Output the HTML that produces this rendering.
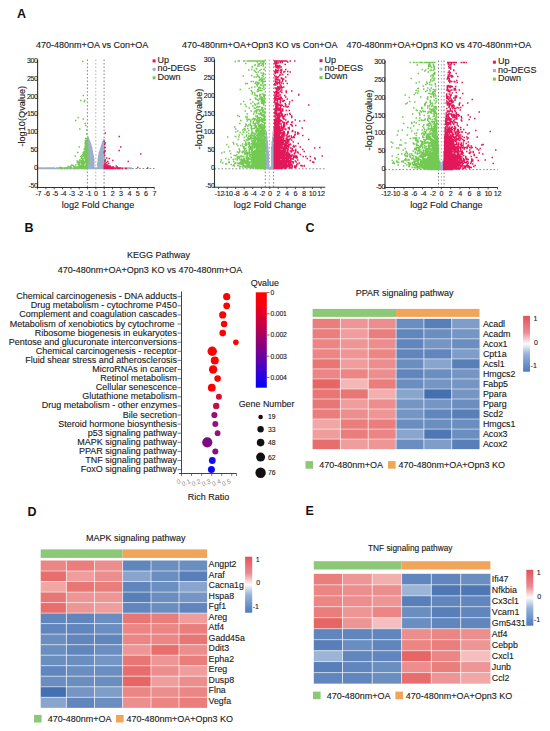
<!DOCTYPE html>
<html><head><meta charset="utf-8"><style>
html,body{margin:0;padding:0;background:#fff;}
svg{display:block;}
text{font-family:"Liberation Sans", sans-serif;}
</style></head><body>
<svg width="550" height="731" viewBox="0 0 550 731">
<rect width="550" height="731" fill="#fff"/>
<text x="16.9" y="17.9" font-size="12.5" text-anchor="start" fill="#111" font-weight="bold" >A</text>
<text x="24.5" y="232.2" font-size="12.5" text-anchor="start" fill="#111" font-weight="bold" >B</text>
<text x="305.6" y="231.9" font-size="12.5" text-anchor="start" fill="#111" font-weight="bold" >C</text>
<text x="27.5" y="516.1" font-size="12.5" text-anchor="start" fill="#111" font-weight="bold" >D</text>
<text x="305.6" y="515.0" font-size="12.5" text-anchor="start" fill="#111" font-weight="bold" >E</text>
<text x="36.0" y="48.0" font-size="9.02" text-anchor="start" fill="#1a1a1a" stroke="#1a1a1a" stroke-width="0.12" font-weight="normal" >470-480nm+OA vs Con+OA</text>
<line x1="87.4" y1="59.5" x2="87.4" y2="187.5" stroke="#7a7a7a" stroke-width="0.9" stroke-dasharray="1.6,1.9"/>
<line x1="95.8" y1="59.5" x2="95.8" y2="187.5" stroke="#a8a8a8" stroke-width="0.9" stroke-dasharray="1.6,1.9"/>
<line x1="104.1" y1="59.5" x2="104.1" y2="187.5" stroke="#7a7a7a" stroke-width="0.9" stroke-dasharray="1.6,1.9"/>
<line x1="37.6" y1="168.5" x2="154.5" y2="168.5" stroke="#7a7a7a" stroke-width="0.9" stroke-dasharray="1.6,1.9"/>
<path d="M198 311h3M177 331h3M206 311h3M208 336h3M178 312h3M197 335h3M197 308h3M197 324h3M201 336h3M174 296h3M176 310h3M174 317h3M179 335h3M183 310h3M204 311h3M179 303h3M200 335h3M203 327h3M179 287h3M178 322h3M179 300h3M201 305h3M174 289h3M174 301h3M203 307h3M201 317h3M178 298h3M201 324h3M174 284h3M195 336h3M206 331h3M204 333h3M184 326h3M183 308h3M199 336h3M200 326h3M205 296h3M176 323h3M183 312h3M203 300h3M200 337h3M202 317h3M184 309h3M198 318h3M173 336h3M206 325h3M179 322h3M205 327h3M177 313h3M185 330h3M174 315h3M203 332h3M174 336h3M204 330h3M208 323h3M198 331h3M204 336h3M201 333h3M204 305h3M199 332h3M200 318h3M198 305h3M178 321h3M202 333h3M204 291h3M179 327h3M179 332h3M182 328h3M174 293h3M196 328h3M176 321h3M180 333h3M199 330h3M183 311h3M181 322h3M204 297h3M205 308h3M201 313h3M183 334h3M206 297h3M205 307h3M184 334h3M177 308h3M206 327h3M200 320h3M183 337h3M197 336h3M177 283h3M183 321h3M176 285h3M200 331h3M206 293h3M178 288h3M203 308h3M181 337h3M201 319h3M181 293h3M179 313h3M197 321h3M177 284h3M179 307h3M207 293h3M177 314h3M181 299h3M175 289h3M179 296h3M177 311h3M175 288h3M201 334h3M179 310h3M181 336h3M179 293h3M181 298h3M202 307h3M205 299h3M176 320h3M203 304h3M176 335h3M175 320h3M202 329h3M205 293h3M198 314h3M201 326h3M174 298h3M182 329h3M205 314h3M201 327h3M183 307h3M203 295h3M207 315h3M178 311h3M173 327h3M208 328h3M204 315h3M208 333h3M207 321h3M195 335h3M177 293h3M174 312h3M177 296h3M203 302h3M178 333h3M199 325h3M176 291h3M207 332h3M201 314h3M205 329h3M174 282h3M198 323h3M175 299h3M176 279h3M207 328h3M181 331h3M181 334h3M175 303h3M185 316h3M172 328h3M181 296h3M202 328h3M198 322h3M177 332h3M184 336h3M173 310h3M174 285h3M175 304h3M174 334h3M207 326h3M182 337h3M175 302h3M178 303h3M180 317h3M182 299h3M178 327h3M177 290h3M203 313h3M181 306h3M205 291h3M179 305h3M185 322h3M207 301h3M204 321h3M181 324h3M173 323h3M206 309h3M202 292h3M196 321h3M205 324h3M199 317h3M176 333h3M201 330h3M196 332h3M178 301h3M204 325h3M178 310h3M203 324h3M176 315h3M177 336h3M199 322h3M175 334h3M186 330h3M199 334h3M204 307h3M182 314h3M174 283h3M176 303h3M186 326h3M198 306h3M201 331h3M181 302h3M178 290h3M204 319h3M185 323h3M200 330h3M203 298h3M180 299h3M180 311h3M203 309h3M186 337h3M194 329h3M202 321h3M174 321h3M206 304h3M206 312h3M180 296h3M202 298h3M201 295h3M181 326h3M205 317h3M201 308h3M175 325h3M180 300h3M172 327h3M176 318h3M202 337h3M174 279h3M204 323h3M175 293h3M177 321h3M206 299h3M202 308h3M200 314h3M199 304h3M174 297h3M198 321h3M201 329h3M202 312h3M200 300h3M186 333h3M205 297h3M203 305h3M181 323h3M205 306h3M186 324h3M204 287h3M176 312h3M198 330h3M184 313h3M179 320h3M206 321h3M185 329h3M203 334h3M172 331h3M204 312h3M198 308h3M180 301h3M203 328h3M178 319h3M203 303h3M207 308h3M206 328h3M196 318h3M173 335h3M183 302h3M178 332h3M184 320h3M179 318h3M207 311h3M181 335h3M197 329h3M203 321h3M183 336h3M186 335h3M202 320h3M204 326h3M200 336h3M176 309h3M205 333h3M178 306h3M176 282h3M176 301h3M174 320h3M182 334h3M180 322h3M180 314h3M205 336h3M205 292h3M180 332h3M200 328h3M202 302h3M198 319h3M197 307h3M209 337h3M197 320h3M202 323h3M184 322h3M202 318h3M177 323h3M184 331h3M174 328h3M207 334h3M180 294h3M197 322h3M198 316h3M180 295h3M177 312h3M205 310h3M204 332h3M203 299h3M184 317h3M181 304h3M177 315h3M185 335h3M199 316h3M181 328h3M199 333h3M184 328h3M197 316h3M176 331h3M204 317h3M178 294h3M200 333h3M196 319h3M207 319h3M177 300h3M177 316h3M199 306h3M174 305h3M205 303h3M199 311h3M183 316h3M182 310h3M180 326h3M177 299h3M203 289h3M180 334h3M201 311h3M173 326h3M203 292h3M180 330h3M205 328h3M183 323h3M195 328h3M200 321h3M182 326h3M201 310h3M178 317h3M206 282h3M199 302h3M207 324h3M181 294h3M207 333h3M178 292h3M184 327h3M196 317h3M196 327h3M203 316h3M185 315h3M173 324h3M174 287h3M195 331h3M177 328h3M200 305h3M197 323h3M177 334h3M174 337h3M180 310h3M179 315h3M207 300h3M176 296h3M202 294h3M201 302h3M207 331h3M177 301h3M200 302h3M183 309h3M180 325h3M179 288h3M198 328h3M202 331h3M178 297h3M203 297h3M197 330h3M207 316h3M185 321h3M184 335h3M177 309h3M183 313h3M202 297h3M173 337h3M205 335h3M206 286h3M175 276h3M196 320h3M177 324h3M183 320h3M207 291h3M172 335h3M176 287h3M180 319h3M206 280h3M175 305h3M207 335h3M206 332h3M176 332h3M203 335h3M206 323h3M196 325h3M173 317h3M208 335h3M179 308h3M195 323h3M179 301h3M198 320h3M201 323h3M196 329h3M179 319h3M196 314h3M186 329h3M172 336h3M203 306h3M202 332h3M207 303h3M178 309h3M203 301h3M173 319h3M176 306h3M181 321h3M198 332h3M205 315h3M206 298h3M203 288h3M174 304h3M176 302h3M173 322h3M206 336h3M178 286h3M205 302h3M208 332h3M207 317h3M201 328h3M178 328h3M176 330h3M177 291h3M206 287h3M196 336h3M206 289h3M199 335h3M177 326h3M178 300h3M200 327h3M174 327h3M172 334h3M186 334h3M177 304h3M205 312h3M206 283h3M183 314h3M204 334h3M182 324h3M184 321h3M206 292h3M186 319h3M176 294h3M205 289h3M207 309h3M178 326h3M183 317h3M203 322h3M182 316h3M202 313h3M196 323h3M202 336h3M175 297h3M184 318h3M201 307h3M177 322h3M184 319h3M175 317h3M198 327h3M198 335h3M200 308h3M184 332h3M175 296h3M179 323h3M207 283h3M173 325h3M185 314h3M175 323h3M197 318h3M203 333h3M183 324h3M175 279h3M200 301h3M201 312h3M181 332h3M175 278h3M178 329h3M174 313h3M183 332h3M175 313h3M186 325h3M205 311h3M182 331h3M198 336h3M180 304h3M204 288h3M186 328h3M206 284h3M178 291h3M181 325h3M200 325h3M181 297h3M205 284h3M183 305h3M200 312h3M176 325h3M207 310h3M176 317h3M196 316h3M201 309h3M206 295h3M174 276h3M197 332h3M174 309h3M200 298h3M198 315h3M182 298h3M205 330h3M199 319h3M176 327h3M176 300h3M198 334h3M175 301h3M174 325h3M205 325h3M182 307h3M178 323h3M201 335h3M174 292h3M200 329h3M186 327h3M176 304h3M176 311h3M203 320h3M185 319h3M175 285h3M182 317h3M201 304h3M174 335h3M206 335h3M207 330h3M203 315h3M202 303h3M207 305h3M183 331h3M207 318h3M202 327h3M176 337h3M182 327h3M207 323h3M202 301h3M175 295h3M176 314h3M174 311h3M204 292h3M177 286h3M196 322h3M179 329h3M206 302h3M204 296h3M173 316h3M203 290h3M207 288h3M195 325h3M202 326h3M197 327h3M180 335h3M206 296h3M200 316h3M205 319h3M199 329h3M196 313h3M201 322h3M205 334h3M197 331h3M200 319h3M174 329h3M185 318h3M204 328h3M201 321h3M174 307h3M209 334h3M201 332h3M178 283h3M208 329h3M201 301h3M185 334h3M180 336h3M200 323h3M207 314h3M203 329h3M201 337h3M200 315h3M175 330h3M207 329h3M180 309h3M200 334h3M205 300h3M178 299h3M197 333h3M175 318h3M199 337h3M174 326h3M177 319h3M179 330h3M202 311h3M183 306h3M176 305h3M175 328h3M197 311h3M195 319h3M199 320h3M201 325h3M180 312h3M197 328h3M197 313h3M179 292h3M200 332h3M175 321h3M180 293h3M197 317h3M180 316h3M178 315h3M200 310h3M204 316h3M180 308h3M206 308h3M205 320h3M177 329h3M174 308h3M177 318h3M179 317h3M202 300h3M203 318h3M178 313h3M183 315h3M180 331h3M183 303h3M206 303h3M208 337h3M174 324h3M176 322h3M206 313h3M199 305h3M202 306h3M175 282h3M182 313h3M206 326h3M205 322h3M201 320h3M180 313h3M199 314h3M174 295h3M202 314h3M177 330h3M175 290h3M208 327h3M176 308h3M197 334h3M183 333h3M196 326h3M176 292h3M197 312h3M176 288h3M206 300h3M178 335h3M207 337h3M173 334h3M179 302h3M179 328h3M174 300h3M206 322h3M182 318h3M174 303h3M202 304h3M183 328h3M177 298h3M184 337h3M177 303h3M204 329h3M197 325h3M180 290h3M179 291h3M203 319h3M183 326h3M177 307h3M178 336h3M208 331h3M203 323h3M182 312h3M200 303h3M207 290h3M176 290h3M175 332h3M177 302h3M183 318h3M175 300h3M176 289h3M196 315h3M181 305h3M174 310h3M182 315h3M174 281h3M175 280h3M204 295h3M181 313h3M176 293h3M202 309h3M203 296h3M182 330h3M207 306h3M174 322h3M174 318h3M175 335h3M177 337h3M174 319h3M205 309h3M205 285h3M203 331h3M206 317h3M178 302h3M185 324h3M195 330h3M174 302h3M204 298h3M174 286h3M173 333h3M177 297h3M202 316h3M179 326h3M203 310h3M178 337h3M186 332h3M177 317h3M196 334h3M185 333h3M201 306h3M204 285h3M196 312h3M183 327h3M178 316h3M175 287h3M175 283h3M202 334h3M200 307h3M182 332h3M204 313h3M205 326h3M186 323h3M199 327h3M182 302h3M185 327h3M208 334h3M179 331h3M201 296h3M206 306h3M185 325h3M204 289h3M177 333h3M205 287h3M184 333h3M180 289h3M208 317h3M184 316h3M181 295h3M209 333h3M205 301h3M182 320h3M204 299h3M199 318h3M176 316h3M180 327h3M206 305h3M182 323h3M199 303h3M197 306h3M205 290h3M182 305h3M204 303h3M176 281h3M199 331h3M198 313h3M177 285h3M180 298h3M184 324h3M177 294h3M194 336h3M202 293h3M185 317h3M173 318h3M182 308h3M200 317h3M204 327h3M202 295h3M181 300h3M175 327h3M182 296h3M204 308h3M184 314h3M174 288h3M178 305h3M175 291h3M205 288h3M206 316h3M182 336h3M181 303h3M206 314h3M179 333h3M199 307h3M207 313h3M176 324h3M174 323h3M178 285h3M174 299h3M197 314h3M200 309h3M197 315h3M185 312h3M178 325h3M179 309h3M179 324h3M202 330h3M200 322h3M181 319h3M203 312h3M204 318h3M175 322h3M207 292h3M174 333h3M202 324h3M185 332h3M174 330h3M203 314h3M202 310h3M179 321h3M202 319h3M206 319h3M175 316h3M173 315h3M207 307h3M204 322h3M174 332h3M209 332h3M201 299h3M207 325h3M205 305h3M199 310h3M198 325h3M200 313h3M180 323h3M204 324h3M186 322h3M174 306h3M178 324h3M205 304h3M207 285h3M206 285h3M181 329h3M205 298h3M203 293h3M196 331h3M177 325h3M175 309h3M185 336h3M184 329h3M197 337h3M177 310h3M182 300h3M182 304h3M175 324h3M199 323h3M180 302h3M181 311h3M185 326h3M179 325h3M179 289h3M184 330h3M179 294h3M196 333h3M203 337h3M177 327h3M201 298h3M173 330h3M194 337h3M206 301h3M176 295h3M186 331h3M174 278h3M175 306h3M182 335h3M175 298h3M186 318h3M200 297h3M178 314h3M206 333h3M175 292h3M204 310h3M176 286h3M179 295h3M175 326h3M199 315h3M206 334h3M183 322h3M182 311h3M207 299h3M206 291h3M180 291h3M207 327h3M205 295h3M202 291h3M200 299h3M205 318h3M198 304h3M181 309h3M196 324h3M173 314h3M204 301h3M176 329h3M179 337h3M175 314h3M204 300h3M207 320h3M175 319h3M202 299h3M207 336h3M206 320h3M180 306h3M204 331h3M207 280h3M197 310h3M174 331h3M181 301h3M204 286h3M201 294h3M176 297h3M181 318h3M178 320h3M201 300h3M177 335h3M180 337h3M195 333h3M198 326h3M183 325h3M200 306h3M201 316h3M172 333h3M203 317h3M204 304h3M173 312h3M173 311h3M177 289h3M203 291h3M194 327h3M199 328h3M195 326h3M200 324h3M185 331h3M195 334h3M179 304h3M177 305h3M196 337h3M205 294h3M196 330h3M179 316h3M176 284h3M195 337h3M204 294h3M180 305h3M207 294h3M173 328h3M183 329h3M176 326h3M178 308h3M205 313h3M184 308h3M181 307h3M173 320h3M202 305h3M185 313h3M205 321h3M206 310h3M198 333h3M203 326h3M202 325h3M178 289h3M208 324h3M195 329h3M182 306h3M207 282h3M208 319h3M176 283h3M206 288h3M199 321h3M183 304h3M194 331h3M177 288h3M175 333h3M185 328h3M199 326h3M207 312h3M180 315h3M207 322h3M177 287h3M177 292h3M178 330h3M178 318h3M182 303h3M206 330h3M205 283h3M173 329h3M196 335h3M177 306h3M182 321h3M182 319h3M173 305h3M197 326h3M205 331h3M179 298h3M206 294h3M207 295h3M207 289h3M181 316h3M174 291h3M205 286h3M179 299h3M206 290h3M203 311h3M198 324h3M174 290h3M178 334h3M176 280h3M209 331h3M180 320h3M174 274h3M204 290h3M180 318h3M174 314h3M182 333h3M180 321h3M175 294h3M179 306h3M176 328h3M181 320h3M177 320h3M199 300h3M202 322h3M199 308h3M198 307h3M181 308h3M181 314h3M208 325h3M195 320h3M199 312h3M207 296h3M179 314h3M174 280h3M208 318h3M177 282h3M201 303h3M204 306h3M208 316h3M195 324h3M205 316h3M206 315h3M182 309h3M176 298h3M209 336h3M209 335h3M174 277h3M175 312h3M195 318h3M203 330h3M172 337h3M206 307h3M176 334h3M201 297h3M186 336h3M256 336h3M121 337h3M107 337h3M229 337h3M205 337h3M162 337h3M153 337h3M85 336h3M228 337h3M123 337h3M213 337h3M106 337h3M97 337h3M80 337h3M86 337h3M218 337h3M258 337h3M193 336h3M142 336h3M155 336h3M158 337h3M159 336h3M210 337h3M99 337h3M163 337h3M136 337h3M236 337h3M213 336h3M248 337h3M189 337h3M190 336h3M91 337h3M82 337h3M94 336h3M198 337h3M254 336h3M231 337h3M108 337h3M119 337h3M228 336h3M120 336h3M204 337h3M110 337h3M124 337h3M79 337h3M77 337h3M216 336h3M96 336h3M112 337h3M76 336h3M244 337h3M260 337h3M169 337h3M116 336h3M93 337h3M260 336h3M188 336h3M249 337h3M165 336h3M206 337h3M88 337h3M238 337h3M74 337h3M141 336h3M75 336h3M78 336h3M247 336h3M162 336h3M135 336h3M247 337h3M134 337h3M167 337h3M126 337h3M259 336h3M241 337h3M258 336h3M187 337h3M134 336h3M252 337h3M222 337h3M261 337h3M85 337h3M155 337h3M226 337h3M243 337h3M157 337h3M219 337h3M170 337h3M102 337h3M138 337h3M118 337h3M125 336h3M94 337h3M223 336h3M101 337h3M109 337h3M76 337h3M256 337h3M245 336h3M83 337h3M239 337h3M154 337h3M148 337h3M92 337h3M149 337h3M80 336h3M83 336h3M92 336h3M137 337h3M251 336h3M171 337h3M157 336h3M219 336h3M227 337h3M151 336h3M140 337h3M90 337h3M132 336h3M117 337h3M240 337h3M145 337h3M82 336h3M156 337h3M132 337h3M253 337h3M100 337h3M143 337h3M192 336h3M233 337h3M100 336h3M148 336h3M164 337h3M105 337h3M113 337h3M245 337h3M187 336h3M131 336h3M220 336h3M221 335h3M147 336h3M122 336h3M114 336h3M165 337h3M215 337h3M223 337h3M87 337h3M139 336h3M192 337h3M233 336h3M218 336h3M116 337h3M158 335h3M89 336h3M139 337h3M153 336h3M161 336h3M158 336h3M212 336h3M232 337h3M225 337h3M84 337h3M120 337h3M90 336h3M221 337h3M234 337h3M216 337h3M190 337h3M141 337h3M78 337h3M127 337h3M98 337h3M170 336h3M203 336h3M164 336h3M161 337h3M142 337h3M133 337h3M166 336h3M185 337h3M193 337h3M211 336h3M230 337h3M255 337h3M107 336h3M91 336h3M129 337h3M244 336h3M147 337h3M242 337h3M159 337h3M136 335h3M160 336h3M237 337h3M150 336h3M105 336h3M220 337h3M128 336h3M214 337h3M103 337h3M212 337h3M89 337h3M154 336h3M251 337h3M122 337h3M96 337h3M128 337h3M217 336h3M191 337h3M163 336h3M103 336h3M140 336h3M119 336h3M98 336h3M257 337h3M249 336h3M235 337h3M234 336h3M211 337h3M253 336h3M136 336h3M240 336h3M104 337h3M125 337h3M104 336h3M239 336h3M135 337h3M81 336h3M97 336h3M166 337h3M115 337h3M176 336h3M225 336h3M95 337h3M235 336h3M81 337h3M115 336h3M243 336h3M232 336h3M246 337h3M175 337h3M255 336h3M259 337h3M160 337h3M152 337h3M77 336h3M112 336h3M150 337h3" stroke="#9db0c8" stroke-width="3.00" transform="scale(0.5)"/>
<path d="M174 323h3M170 304h3M170 298h3M169 298h3M170 282h3M173 281h3M172 303h3M170 308h3M171 331h3M172 329h3M171 302h3M171 325h3M173 305h3M173 318h3M170 331h3M173 298h3M172 311h3M169 335h3M172 277h3M173 284h3M172 328h3M174 317h3M169 287h3M173 282h3M173 315h3M173 302h3M174 301h3M170 283h3M169 305h3M174 320h3M173 278h3M171 303h3M170 314h3M171 334h3M169 281h3M172 306h3M172 313h3M169 306h3M173 336h3M173 321h3M170 299h3M172 292h3M169 293h3M173 323h3M170 277h3M174 310h3M173 301h3M172 284h3M170 333h3M169 295h3M170 307h3M173 327h3M169 285h3M173 331h3M171 290h3M170 300h3M171 285h3M174 316h3M171 326h3M170 316h3M173 324h3M169 333h3M171 323h3M170 332h3M170 324h3M171 283h3M169 291h3M171 296h3M173 286h3M169 307h3M172 282h3M173 285h3M169 302h3M172 281h3M172 301h3M170 291h3M170 306h3M171 336h3M142 330h3M173 309h3M135 333h3M165 328h3M166 329h3M167 325h3M173 295h3M171 324h3M166 312h3M168 307h3M168 313h3M155 337h3M140 335h3M163 329h3M153 322h3M167 327h3M173 322h3M155 329h3M168 303h3M164 332h3M167 304h3M161 327h3M172 299h3M172 318h3M165 305h3M163 331h3M150 330h3M169 296h3M172 315h3M173 306h3M167 299h3M159 331h3M154 323h3M173 325h3M172 295h3M162 330h3M162 331h3M164 319h3M169 309h3M173 329h3M169 310h3M161 317h3M159 324h3M173 328h3M169 313h3M165 335h3M172 324h3M169 304h3M173 317h3M159 334h3M170 319h3M137 334h3M167 334h3M158 336h3M173 334h3M161 321h3M155 334h3M166 317h3M150 334h3M169 311h3M169 322h3M166 331h3M163 326h3M151 334h3M146 332h3M163 321h3M171 327h3M145 331h3M168 304h3M163 324h3M172 325h3M154 324h3M171 316h3M168 314h3M172 337h3M164 318h3M160 325h3M152 334h3M173 288h3M148 337h3M165 321h3M170 289h3M161 332h3M162 324h3M174 325h3M166 304h3M155 327h3M167 333h3M164 324h3M162 334h3M164 309h3M172 297h3M158 320h3M174 290h3M163 337h3M168 336h3M165 309h3M173 310h3M157 326h3M166 327h3M166 307h3M164 313h3M164 328h3M170 297h3M167 309h3M167 324h3M162 337h3M140 332h3M172 312h3M166 311h3M157 329h3M169 336h3M166 310h3M168 323h3M172 286h3M156 323h3M148 334h3M162 315h3M173 283h3M169 325h3M160 333h3M171 313h3M167 298h3M164 327h3M169 318h3M173 299h3M172 320h3M172 335h3M157 331h3M171 310h3M156 333h3M153 325h3M174 307h3M171 328h3M162 311h3M170 296h3M160 313h3M147 335h3M133 335h3M133 337h3M118 335h3M141 335h3M164 334h3M167 337h3M141 336h3M170 336h3M128 336h3M120 336h3M156 336h3M119 336h3M171 337h3M150 337h3M123 337h3M149 336h3M153 335h3M121 335h3M128 337h3M121 336h3M146 336h3M139 337h3M164 123h3M165 191h3M168 201h3M160 201h3M167 203h3M155 235h3M150 241h3M165 238h3M169 247h3M158 258h3M172 260h3M172 268h3M170 251h3M157 294h3M149 312h3M154 305h3" stroke="#72ca52" stroke-width="3.00" transform="scale(0.5)"/>
<path d="M208 335h3M208 337h3M208 336h3M214 336h3M236 337h3M212 336h3M234 337h3M212 334h3M208 333h3M214 337h3M238 336h3M213 330h3M216 335h3M217 337h3M211 332h3M211 333h3M208 329h3M223 337h3M226 336h3M220 336h3M233 334h3M209 327h3M213 335h3M219 336h3M223 336h3M215 336h3M216 337h3M211 336h3M209 332h3M229 337h3M209 335h3M210 336h3M210 337h3M224 336h3M212 330h3M215 334h3M221 335h3M222 336h3M221 337h3M213 337h3M220 335h3M212 332h3M209 334h3M225 335h3M209 337h3M207 337h3M219 332h3M209 321h3M223 335h3M214 335h3M213 334h3M226 335h3M211 337h3M212 335h3M207 334h3M251 337h3M213 332h3M208 334h3M231 332h3M209 320h3M208 328h3M225 337h3M214 334h3M224 334h3M211 334h3M218 334h3M225 334h3M209 336h3M216 327h3M225 336h3M211 335h3M224 337h3M219 334h3M215 335h3M216 336h3M231 336h3M214 323h3M209 328h3M210 333h3M239 336h3M208 323h3M235 336h3M237 337h3M210 328h3M217 334h3M243 337h3M207 333h3M209 333h3M208 332h3M210 335h3M212 325h3M215 337h3M217 332h3M223 334h3M250 337h3M220 337h3M213 336h3M214 331h3M217 335h3M207 283h3M209 295h3M208 289h3M207 304h3M208 311h3M209 286h3M207 306h3M207 331h3M208 302h3M209 302h3M208 295h3M209 266h3M237 273h3M240 294h3M237 301h3M255 323h3M280 308h3M274 335h3M294 336h3M212 316h3M217 317h3M224 321h3" stroke="#e2185a" stroke-width="3.00" transform="scale(0.5)"/>
<line x1="37.6" y1="59.5" x2="37.6" y2="188.0" stroke="#333" stroke-width="1.1" />
<line x1="37.1" y1="187.5" x2="154.5" y2="187.5" stroke="#333" stroke-width="1.1" />
<text x="37.7" y="62.8" font-size="7.0" text-anchor="end" fill="#1a1a1a" stroke="#1a1a1a" stroke-width="0.12" font-weight="normal" letter-spacing="-0.3">300</text>
<text x="37.7" y="80.7" font-size="7.0" text-anchor="end" fill="#1a1a1a" stroke="#1a1a1a" stroke-width="0.12" font-weight="normal" letter-spacing="-0.3">250</text>
<text x="37.7" y="98.5" font-size="7.0" text-anchor="end" fill="#1a1a1a" stroke="#1a1a1a" stroke-width="0.12" font-weight="normal" letter-spacing="-0.3">200</text>
<text x="37.7" y="116.4" font-size="7.0" text-anchor="end" fill="#1a1a1a" stroke="#1a1a1a" stroke-width="0.12" font-weight="normal" letter-spacing="-0.3">150</text>
<text x="37.7" y="134.3" font-size="7.0" text-anchor="end" fill="#1a1a1a" stroke="#1a1a1a" stroke-width="0.12" font-weight="normal" letter-spacing="-0.3">100</text>
<text x="37.7" y="152.1" font-size="7.0" text-anchor="end" fill="#1a1a1a" stroke="#1a1a1a" stroke-width="0.12" font-weight="normal" letter-spacing="-0.3">50</text>
<text x="37.7" y="170.0" font-size="7.0" text-anchor="end" fill="#1a1a1a" stroke="#1a1a1a" stroke-width="0.12" font-weight="normal" letter-spacing="-0.3">0</text>
<text x="37.7" y="187.9" font-size="7.0" text-anchor="end" fill="#1a1a1a" stroke="#1a1a1a" stroke-width="0.12" font-weight="normal" letter-spacing="-0.3">-50</text>
<line x1="37.5" y1="187.5" x2="37.5" y2="189.3" stroke="#222" stroke-width="0.8" />
<text x="38.3" y="196.0" font-size="7.2" text-anchor="middle" fill="#1a1a1a" stroke="#1a1a1a" stroke-width="0.12" font-weight="normal" letter-spacing="-0.35">-7</text>
<line x1="45.9" y1="187.5" x2="45.9" y2="189.3" stroke="#222" stroke-width="0.8" />
<text x="46.7" y="196.0" font-size="7.2" text-anchor="middle" fill="#1a1a1a" stroke="#1a1a1a" stroke-width="0.12" font-weight="normal" letter-spacing="-0.35">-6</text>
<line x1="54.2" y1="187.5" x2="54.2" y2="189.3" stroke="#222" stroke-width="0.8" />
<text x="55.0" y="196.0" font-size="7.2" text-anchor="middle" fill="#1a1a1a" stroke="#1a1a1a" stroke-width="0.12" font-weight="normal" letter-spacing="-0.35">-5</text>
<line x1="62.5" y1="187.5" x2="62.5" y2="189.3" stroke="#222" stroke-width="0.8" />
<text x="63.3" y="196.0" font-size="7.2" text-anchor="middle" fill="#1a1a1a" stroke="#1a1a1a" stroke-width="0.12" font-weight="normal" letter-spacing="-0.35">-4</text>
<line x1="70.9" y1="187.5" x2="70.9" y2="189.3" stroke="#222" stroke-width="0.8" />
<text x="71.7" y="196.0" font-size="7.2" text-anchor="middle" fill="#1a1a1a" stroke="#1a1a1a" stroke-width="0.12" font-weight="normal" letter-spacing="-0.35">-3</text>
<line x1="79.2" y1="187.5" x2="79.2" y2="189.3" stroke="#222" stroke-width="0.8" />
<text x="80.0" y="196.0" font-size="7.2" text-anchor="middle" fill="#1a1a1a" stroke="#1a1a1a" stroke-width="0.12" font-weight="normal" letter-spacing="-0.35">-2</text>
<line x1="87.6" y1="187.5" x2="87.6" y2="189.3" stroke="#222" stroke-width="0.8" />
<text x="88.4" y="196.0" font-size="7.2" text-anchor="middle" fill="#1a1a1a" stroke="#1a1a1a" stroke-width="0.12" font-weight="normal" letter-spacing="-0.35">-1</text>
<line x1="95.9" y1="187.5" x2="95.9" y2="189.3" stroke="#222" stroke-width="0.8" />
<text x="95.9" y="196.0" font-size="7.2" text-anchor="middle" fill="#1a1a1a" stroke="#1a1a1a" stroke-width="0.12" font-weight="normal" letter-spacing="-0.35">0</text>
<line x1="104.2" y1="187.5" x2="104.2" y2="189.3" stroke="#222" stroke-width="0.8" />
<text x="104.2" y="196.0" font-size="7.2" text-anchor="middle" fill="#1a1a1a" stroke="#1a1a1a" stroke-width="0.12" font-weight="normal" letter-spacing="-0.35">1</text>
<line x1="112.6" y1="187.5" x2="112.6" y2="189.3" stroke="#222" stroke-width="0.8" />
<text x="112.6" y="196.0" font-size="7.2" text-anchor="middle" fill="#1a1a1a" stroke="#1a1a1a" stroke-width="0.12" font-weight="normal" letter-spacing="-0.35">2</text>
<line x1="120.9" y1="187.5" x2="120.9" y2="189.3" stroke="#222" stroke-width="0.8" />
<text x="120.9" y="196.0" font-size="7.2" text-anchor="middle" fill="#1a1a1a" stroke="#1a1a1a" stroke-width="0.12" font-weight="normal" letter-spacing="-0.35">3</text>
<line x1="129.3" y1="187.5" x2="129.3" y2="189.3" stroke="#222" stroke-width="0.8" />
<text x="129.3" y="196.0" font-size="7.2" text-anchor="middle" fill="#1a1a1a" stroke="#1a1a1a" stroke-width="0.12" font-weight="normal" letter-spacing="-0.35">4</text>
<line x1="137.6" y1="187.5" x2="137.6" y2="189.3" stroke="#222" stroke-width="0.8" />
<text x="137.6" y="196.0" font-size="7.2" text-anchor="middle" fill="#1a1a1a" stroke="#1a1a1a" stroke-width="0.12" font-weight="normal" letter-spacing="-0.35">5</text>
<line x1="145.9" y1="187.5" x2="145.9" y2="189.3" stroke="#222" stroke-width="0.8" />
<text x="145.9" y="196.0" font-size="7.2" text-anchor="middle" fill="#1a1a1a" stroke="#1a1a1a" stroke-width="0.12" font-weight="normal" letter-spacing="-0.35">6</text>
<line x1="154.3" y1="187.5" x2="154.3" y2="189.3" stroke="#222" stroke-width="0.8" />
<text x="154.3" y="196.0" font-size="7.2" text-anchor="middle" fill="#1a1a1a" stroke="#1a1a1a" stroke-width="0.12" font-weight="normal" letter-spacing="-0.35">7</text>
<text x="98.0" y="208.3" font-size="9.2" text-anchor="middle" fill="#1a1a1a" stroke="#1a1a1a" stroke-width="0.12" font-weight="normal" >log2 Fold Change</text>
<text x="0" y="0" font-size="9.2" text-anchor="middle" fill="#1a1a1a" stroke="#1a1a1a" stroke-width="0.12" transform="translate(25.0,116.2) rotate(-90)">-log10(Qvalue)</text>
<rect x="152.60" y="59.40" width="3.00" height="3.00" fill="#e2185a" />
<text x="157.6" y="62.7" font-size="9.0" text-anchor="start" fill="#1a1a1a" stroke="#1a1a1a" stroke-width="0.12" font-weight="normal" >Up</text>
<rect x="152.60" y="67.85" width="3.00" height="3.00" fill="#9db0c8" />
<text x="157.6" y="71.1" font-size="9.0" text-anchor="start" fill="#1a1a1a" stroke="#1a1a1a" stroke-width="0.12" font-weight="normal" >no-DEGS</text>
<rect x="152.60" y="76.30" width="3.00" height="3.00" fill="#72ca52" />
<text x="157.6" y="79.6" font-size="9.0" text-anchor="start" fill="#1a1a1a" stroke="#1a1a1a" stroke-width="0.12" font-weight="normal" >Down</text>
<text x="182.0" y="48.0" font-size="9.02" text-anchor="start" fill="#1a1a1a" stroke="#1a1a1a" stroke-width="0.12" font-weight="normal" >470-480nm+OA+Opn3 KO vs Con+OA</text>
<line x1="265.3" y1="59.5" x2="265.3" y2="187.3" stroke="#7a7a7a" stroke-width="0.9" stroke-dasharray="1.6,1.9"/>
<line x1="269.3" y1="59.5" x2="269.3" y2="187.3" stroke="#a8a8a8" stroke-width="0.9" stroke-dasharray="1.6,1.9"/>
<line x1="273.6" y1="59.5" x2="273.6" y2="187.3" stroke="#7a7a7a" stroke-width="0.9" stroke-dasharray="1.6,1.9"/>
<line x1="214.5" y1="168.8" x2="325.3" y2="168.8" stroke="#7a7a7a" stroke-width="0.9" stroke-dasharray="1.6,1.9"/>
<path d="M531 336h3M545 291h3M534 313h3M532 332h3M543 305h3M531 304h3M543 337h3M543 326h3M545 307h3M534 337h3M542 321h3M532 331h3M532 293h3M532 289h3M545 267h3M544 295h3M544 315h3M533 294h3M545 276h3M544 286h3M533 330h3M544 331h3M534 298h3M533 306h3M533 332h3M531 298h3M545 293h3M534 309h3M544 326h3M545 334h3M531 326h3M545 315h3M535 328h3M544 335h3M535 314h3M542 303h3M542 312h3M542 302h3M542 329h3M532 334h3M542 325h3M532 281h3M531 293h3M542 324h3M534 318h3M543 333h3M534 314h3M542 337h3M542 317h3M531 269h3M534 322h3M544 306h3M532 327h3M544 338h3M543 335h3M534 335h3M542 332h3M533 326h3M534 300h3M532 316h3M532 336h3M544 332h3M545 319h3M531 300h3M545 317h3M544 334h3M545 296h3M543 321h3M542 316h3M543 325h3M534 312h3M544 321h3M544 318h3M542 336h3M532 280h3M535 317h3M532 312h3M543 298h3M544 316h3M532 276h3M534 331h3M543 323h3M531 302h3M534 328h3M534 325h3M542 305h3M532 333h3M533 315h3M544 285h3M534 299h3M532 305h3M531 330h3M533 321h3M531 291h3M545 320h3M532 295h3M544 278h3M535 325h3M531 297h3M535 305h3M532 286h3M534 308h3M534 306h3M544 317h3M545 335h3M543 295h3M533 329h3M535 336h3M533 307h3M531 332h3M543 319h3M533 316h3M543 294h3M544 314h3M531 335h3M534 311h3M532 319h3M534 317h3M544 292h3M532 325h3M543 330h3M545 333h3M533 324h3M543 327h3M531 313h3M531 321h3M542 333h3M533 325h3M534 304h3M533 298h3M545 274h3M532 279h3M532 283h3M532 274h3M544 302h3M543 332h3M533 319h3M533 314h3M542 331h3M542 327h3M542 314h3M543 303h3M532 320h3M533 300h3M532 311h3M531 278h3M543 316h3M542 299h3M534 330h3M542 334h3M534 301h3M543 312h3M543 336h3M545 282h3M532 285h3M543 334h3M531 276h3M533 288h3M542 308h3M534 326h3M543 320h3M545 286h3M533 327h3M531 327h3M532 301h3M544 330h3M544 305h3M532 297h3M542 335h3M533 331h3M531 273h3M532 326h3M545 328h3M531 329h3M532 292h3M543 324h3M542 322h3M534 333h3M531 328h3M534 332h3M535 320h3M542 319h3M532 313h3M531 331h3M545 271h3M532 310h3M534 316h3M543 287h3M543 322h3M534 302h3M534 315h3M533 297h3M542 328h3M532 304h3M534 320h3M543 310h3M545 300h3M533 285h3M543 299h3M544 276h3M532 317h3M545 331h3M544 282h3M535 332h3M531 316h3M543 317h3M544 336h3M533 320h3M543 290h3M545 283h3M531 296h3M543 328h3M532 337h3M533 302h3M544 320h3M533 317h3M531 289h3M531 333h3M545 321h3M543 284h3M533 292h3M533 309h3M531 295h3M533 337h3M544 298h3M545 322h3M533 335h3M534 329h3M545 269h3M532 308h3M545 305h3M532 328h3M544 329h3M543 318h3M531 280h3M545 330h3M545 323h3M533 334h3M533 287h3M545 308h3M534 324h3M535 335h3M544 310h3M531 268h3M542 318h3M544 275h3M544 281h3M545 278h3M544 289h3M534 303h3M543 308h3M532 299h3M533 318h3M544 324h3M542 300h3M542 330h3M542 326h3M532 323h3M532 324h3M542 306h3M545 332h3M545 336h3M531 305h3M545 288h3M531 272h3M544 319h3M532 315h3M535 329h3M545 295h3M531 288h3M535 337h3M542 320h3M531 334h3M532 302h3M532 309h3M543 331h3M545 301h3M542 309h3M531 264h3M545 298h3M533 308h3M544 333h3M543 304h3M532 329h3M544 308h3M531 287h3M532 335h3M533 313h3M544 288h3M544 337h3M531 271h3M533 336h3M545 313h3M532 298h3M543 306h3M531 286h3M544 299h3M545 277h3M544 291h3M543 338h3M534 321h3M533 286h3M535 327h3M534 319h3M532 306h3M533 289h3M544 283h3M534 310h3M544 312h3M545 290h3M531 315h3M534 297h3M534 295h3M533 310h3M533 322h3M543 302h3M545 325h3M544 307h3M545 326h3M545 272h3M532 318h3M543 329h3M545 337h3M542 307h3M543 293h3M534 336h3M533 304h3M533 293h3M535 322h3M531 310h3M533 323h3M532 284h3M535 312h3M542 313h3M534 334h3M533 305h3M545 327h3M531 266h3M544 304h3M532 307h3M532 296h3M545 316h3M531 306h3M542 315h3M535 310h3M533 333h3M534 296h3M545 324h3M545 302h3M532 330h3M532 303h3M544 323h3M544 287h3M545 310h3M544 322h3M531 320h3M534 323h3M532 314h3M531 325h3M532 275h3M532 321h3M531 279h3M544 279h3M544 328h3M545 268h3M543 314h3M544 294h3M544 327h3M542 297h3M543 296h3M545 311h3M531 314h3M532 282h3M531 281h3M535 331h3M535 315h3M543 309h3M531 307h3M545 280h3M532 294h3M533 303h3M533 291h3M535 311h3M543 291h3M542 311h3M535 304h3M545 292h3M542 338h3M544 293h3M531 282h3M531 337h3M543 297h3M545 279h3M543 286h3M545 314h3M533 312h3M535 308h3M535 316h3M542 294h3M534 327h3M533 290h3M543 289h3M531 317h3M535 306h3M533 328h3M535 318h3M542 323h3M535 334h3M531 309h3M533 296h3M531 319h3M531 322h3M544 303h3M531 318h3M544 325h3M534 294h3M543 300h3M535 333h3M533 311h3M535 319h3M535 309h3M533 283h3M532 300h3M531 324h3M544 290h3M542 310h3M545 338h3M545 285h3M545 289h3M545 294h3M544 297h3M545 264h3M531 292h3M531 299h3M544 309h3M532 288h3M545 275h3M544 311h3M532 291h3M541 333h3M541 335h3M539 338h3M536 337h3M540 336h3M537 336h3M539 337h3M540 335h3M540 337h3M538 337h3M536 336h3M541 334h3M536 335h3M537 337h3M541 336h3M540 338h3M537 335h3M541 337h3M539 336h3M538 338h3" stroke="#9db0c8" stroke-width="3.00" transform="scale(0.5)"/>
<path d="M496 122h3M523 306h3M481 325h3M523 311h3M514 327h3M496 140h3M524 334h3M499 248h3M521 317h3M519 328h3M521 313h3M519 290h3M508 282h3M506 329h3M514 300h3M524 290h3M492 238h3M519 337h3M515 144h3M527 302h3M525 271h3M524 332h3M521 335h3M491 306h3M489 324h3M527 273h3M517 321h3M523 335h3M519 175h3M525 303h3M500 299h3M518 311h3M524 167h3M504 325h3M524 326h3M498 289h3M518 329h3M510 197h3M510 336h3M528 233h3M525 283h3M503 122h3M519 122h3M526 304h3M521 285h3M522 207h3M526 323h3M528 319h3M484 321h3M517 313h3M511 226h3M505 310h3M504 309h3M511 122h3M519 282h3M512 122h3M515 122h3M521 307h3M488 326h3M497 122h3M498 122h3M523 307h3M525 202h3M503 330h3M525 266h3M491 326h3M468 327h3M508 284h3M523 327h3M526 273h3M518 295h3M523 325h3M515 278h3M528 330h3M512 328h3M510 333h3M511 335h3M519 319h3M497 285h3M522 275h3M524 274h3M527 224h3M520 324h3M512 302h3M522 335h3M514 152h3M528 305h3M484 260h3M487 333h3M527 297h3M516 286h3M522 319h3M505 331h3M503 294h3M517 312h3M507 247h3M495 325h3M525 315h3M523 332h3M515 201h3M478 247h3M504 324h3M520 332h3M528 300h3M493 228h3M523 206h3M519 277h3M523 293h3M474 331h3M527 301h3M517 335h3M519 159h3M518 322h3M528 337h3M495 327h3M516 326h3M509 330h3M527 122h3M512 316h3M521 146h3M524 254h3M516 317h3M526 315h3M489 253h3M521 323h3M496 273h3M529 301h3M527 319h3M498 272h3M527 332h3M525 312h3M525 252h3M527 330h3M519 294h3M525 281h3M523 286h3M522 122h3M529 335h3M450 328h3M513 172h3M526 174h3M523 291h3M527 336h3M515 167h3M521 294h3M527 293h3M522 311h3M503 289h3M518 320h3M526 139h3M506 266h3M529 292h3M474 291h3M522 161h3M524 201h3M529 333h3M527 327h3M511 265h3M498 312h3M521 139h3M514 273h3M520 327h3M511 295h3M507 322h3M516 316h3M527 338h3M503 318h3M518 325h3M496 335h3M525 317h3M504 285h3M494 276h3M522 307h3M521 156h3M521 328h3M520 122h3M474 231h3M528 321h3M527 195h3M512 325h3M508 286h3M517 279h3M521 311h3M505 244h3M529 330h3M512 315h3M511 287h3M509 122h3M523 151h3M478 314h3M527 281h3M527 335h3M509 143h3M495 122h3M513 337h3M456 294h3M517 270h3M494 327h3M452 328h3M514 331h3M524 321h3M516 290h3M526 279h3M514 270h3M504 327h3M515 242h3M524 294h3M518 252h3M512 263h3M528 279h3M524 322h3M512 303h3M493 318h3M515 269h3M525 132h3M512 317h3M509 310h3M523 294h3M525 310h3M501 320h3M503 332h3M516 153h3M502 334h3M514 122h3M528 298h3M528 316h3M523 122h3M528 336h3M489 209h3M527 311h3M511 330h3M512 240h3M521 131h3M519 196h3M528 278h3M500 274h3M517 122h3M527 232h3M516 315h3M507 328h3M514 321h3M466 323h3M494 122h3M513 290h3M529 317h3M477 298h3M523 288h3M496 315h3M479 320h3M503 329h3M527 196h3M524 282h3M507 286h3M481 312h3M527 317h3M504 313h3M490 248h3M512 326h3M524 259h3M524 306h3M524 224h3M517 323h3M523 333h3M470 258h3M511 332h3M512 256h3M515 316h3M488 260h3M512 295h3M521 289h3M516 323h3M510 308h3M515 313h3M508 301h3M518 242h3M525 297h3M526 332h3M520 293h3M502 309h3M522 243h3M513 260h3M525 268h3M502 302h3M514 337h3M525 336h3M509 325h3M495 332h3M490 326h3M525 131h3M517 181h3M476 274h3M498 327h3M513 282h3M483 313h3M522 268h3M507 290h3M526 122h3M528 314h3M503 239h3M527 138h3M520 323h3M524 317h3M515 310h3M513 329h3M525 122h3M528 308h3M518 288h3M529 321h3M490 307h3M510 328h3M515 330h3M488 317h3M503 315h3M505 289h3M515 219h3M521 291h3M518 313h3M520 286h3M491 322h3M524 287h3M517 295h3M518 328h3M465 285h3M529 309h3M525 332h3M517 275h3M513 288h3M514 285h3M528 311h3M492 325h3M523 295h3M492 328h3M520 325h3M495 286h3M476 122h3M509 210h3M493 311h3M526 295h3M529 312h3M487 321h3M440 324h3M519 297h3M523 308h3M503 328h3M528 261h3M497 332h3M496 317h3M527 189h3M497 329h3M508 288h3M517 329h3M528 335h3M526 336h3M529 281h3M526 334h3M517 300h3M518 290h3M523 254h3M525 326h3M505 163h3M502 278h3M529 315h3M517 305h3M518 192h3M520 270h3M508 309h3M529 313h3M508 237h3M502 151h3M513 317h3M529 332h3M522 334h3M509 252h3M528 310h3M517 198h3M519 314h3M502 183h3M524 293h3M524 215h3M520 295h3M529 322h3M510 321h3M512 310h3M526 294h3M473 320h3M504 267h3M525 237h3M523 239h3M486 330h3M527 205h3M488 122h3M527 295h3M525 251h3M516 313h3M529 325h3M506 228h3M512 169h3M524 302h3M527 337h3M516 308h3M523 313h3M520 333h3M527 265h3M501 310h3M525 295h3M513 191h3M502 297h3M505 336h3M524 164h3M498 279h3M511 252h3M525 321h3M528 329h3M503 327h3M511 320h3M500 333h3M500 294h3M483 325h3M521 194h3M520 318h3M516 333h3M523 337h3M511 261h3M521 312h3M477 270h3M513 235h3M524 308h3M516 122h3M527 257h3M520 226h3M505 333h3M522 278h3M524 323h3M519 307h3M512 337h3M517 127h3M509 331h3M521 334h3M504 318h3M522 231h3M525 172h3M503 306h3M504 335h3M527 288h3M524 330h3M522 310h3M502 317h3M527 324h3M517 278h3M503 134h3M512 255h3M521 249h3M517 161h3M511 297h3M499 277h3M511 286h3M502 252h3M519 325h3M518 287h3M515 128h3M509 320h3M527 262h3M495 334h3M490 303h3M523 303h3M519 261h3M516 304h3M478 326h3M521 295h3M513 232h3M525 304h3M525 153h3M487 258h3M522 295h3M491 321h3M518 122h3M527 283h3M511 246h3M522 216h3M526 200h3M508 306h3M493 325h3M516 236h3M513 239h3M517 301h3M521 329h3M491 325h3M487 300h3M469 123h3M523 207h3M519 311h3M511 289h3M520 225h3M524 315h3M513 295h3M525 327h3M521 321h3M529 314h3M523 300h3M522 199h3M508 130h3M508 280h3M524 265h3M524 162h3M512 271h3M493 314h3M444 326h3M506 324h3M501 257h3M498 325h3M521 310h3M521 303h3M507 309h3M513 276h3M516 321h3M521 122h3M523 334h3M518 310h3M522 294h3M519 272h3M515 298h3M526 319h3M496 295h3M525 146h3M513 305h3M526 288h3M526 330h3M523 323h3M478 303h3M522 204h3M525 127h3M486 317h3M527 226h3M487 318h3M487 275h3M527 314h3M501 335h3M515 335h3M483 322h3M522 276h3M489 289h3M500 332h3M515 294h3M521 203h3M526 322h3M522 250h3M515 318h3M513 321h3M527 312h3M526 281h3M516 324h3M522 156h3M502 301h3M513 283h3M529 318h3M508 186h3M454 274h3M527 225h3M490 167h3M526 203h3M510 276h3M526 333h3M515 334h3M516 241h3M529 337h3M486 122h3M516 253h3M526 125h3M522 220h3M522 299h3M509 276h3M518 243h3M501 304h3M513 311h3M525 230h3M517 288h3M516 330h3M509 326h3M498 290h3M515 292h3M523 262h3M524 281h3M517 271h3M514 247h3M515 328h3M478 301h3M502 258h3M520 314h3M520 253h3M514 324h3M494 334h3M515 260h3M520 334h3M507 318h3M528 282h3M492 315h3M519 235h3M527 325h3M514 275h3M528 320h3M514 267h3M520 251h3M503 133h3M525 314h3M525 311h3M516 291h3M457 325h3M525 299h3M529 336h3M452 289h3M527 310h3M513 149h3M516 309h3M515 333h3M470 273h3M525 319h3M484 288h3M519 302h3M527 318h3M524 328h3M515 326h3M516 269h3M520 315h3M528 299h3M516 283h3M525 292h3M515 315h3M487 294h3M473 315h3M502 323h3M515 314h3M525 335h3M527 290h3M510 303h3M515 286h3M528 334h3M508 324h3M476 327h3M521 298h3M500 314h3M528 333h3M520 281h3M511 328h3M518 323h3M465 319h3M527 328h3M527 299h3M527 313h3M527 264h3M490 334h3M528 312h3M514 298h3M518 326h3M523 331h3M528 254h3M514 312h3M521 336h3M520 177h3M466 288h3M469 326h3M470 264h3M522 241h3M527 315h3M484 334h3M521 273h3M513 307h3M457 324h3M527 287h3M484 324h3M520 271h3M491 334h3M520 275h3M525 322h3M519 301h3M515 300h3M512 307h3M473 326h3M522 333h3M485 329h3M508 208h3M500 122h3M501 336h3M503 265h3M528 292h3M522 181h3M512 330h3M517 237h3M505 309h3M522 273h3M442 306h3M528 266h3M516 328h3M505 272h3M519 327h3M525 130h3M529 324h3M511 291h3M528 297h3M515 308h3M526 329h3M477 122h3M525 337h3M517 251h3M515 182h3M525 149h3M519 256h3M517 331h3M489 260h3M528 276h3M486 303h3M521 308h3M527 331h3M508 122h3M517 320h3M513 199h3M527 238h3M521 319h3M491 213h3M513 213h3M524 335h3M522 316h3M506 317h3M525 302h3M515 327h3M526 278h3M520 170h3M522 287h3M522 289h3M517 337h3M508 290h3M509 217h3M498 306h3M491 273h3M495 335h3M522 206h3M495 323h3M513 208h3M512 138h3M526 260h3M521 261h3M486 325h3M470 311h3M517 263h3M527 298h3M524 331h3M447 304h3M520 189h3M528 301h3M523 250h3M519 333h3M528 217h3M508 308h3M476 331h3M473 317h3M516 300h3M491 301h3M477 317h3M522 318h3M513 323h3M522 312h3M517 266h3M522 325h3M523 296h3M513 313h3M514 259h3M490 322h3M525 263h3M516 132h3M512 223h3M526 289h3M526 264h3M520 326h3M513 122h3M501 222h3M516 206h3M514 277h3M509 222h3M517 322h3M491 290h3M524 336h3M521 259h3M516 320h3M517 129h3M522 291h3M480 313h3M519 336h3M501 122h3M521 255h3M494 318h3M502 139h3M509 167h3M526 314h3M509 317h3M519 321h3M522 329h3M511 315h3M526 210h3M487 281h3M527 320h3M491 280h3M522 322h3M507 122h3M499 297h3M509 288h3M525 293h3M519 198h3M514 335h3M496 267h3M528 295h3M515 227h3M517 325h3M527 200h3M518 307h3M490 284h3M513 278h3M524 242h3M526 269h3M505 335h3M466 330h3M492 319h3M528 327h3M523 264h3M514 132h3M523 309h3M505 327h3M528 269h3M517 277h3M509 282h3M511 322h3M521 197h3M493 305h3M529 316h3M498 324h3M514 320h3M493 242h3M517 155h3M524 318h3M509 249h3M523 123h3M522 313h3M468 254h3M516 250h3M513 292h3M524 205h3M528 306h3M522 315h3M513 257h3M515 325h3M500 207h3M495 306h3M503 311h3M506 306h3M512 246h3M475 279h3M511 331h3M511 279h3M516 292h3M502 335h3M506 307h3M524 310h3M491 288h3M525 286h3M523 159h3M506 328h3M519 335h3M526 245h3M526 257h3M513 277h3M486 331h3M514 299h3M486 294h3M527 323h3M510 307h3M524 333h3M511 137h3M507 310h3M527 252h3M515 288h3M509 238h3M518 277h3M492 264h3M498 287h3M509 329h3M527 192h3M525 284h3M521 337h3M522 337h3M517 228h3M528 253h3M516 175h3M511 312h3M517 283h3M502 275h3M523 128h3M522 242h3M497 334h3M518 319h3M527 334h3M517 307h3M523 195h3M473 314h3M508 318h3M488 333h3M500 335h3M521 330h3M509 196h3M518 327h3M525 330h3M519 266h3M496 250h3M523 315h3M508 334h3M509 318h3M521 320h3M493 323h3M508 332h3M508 294h3M520 319h3M513 308h3M514 306h3M485 152h3M526 191h3M489 333h3M523 266h3M483 305h3M517 317h3M498 239h3M492 332h3M512 260h3M523 336h3M517 330h3M510 232h3M524 327h3M522 314h3M490 127h3M506 289h3M514 307h3M512 220h3M515 168h3M507 314h3M494 252h3M516 331h3M525 233h3M523 220h3M525 285h3M527 333h3M526 305h3M484 303h3M506 291h3M522 229h3M493 329h3M486 265h3M518 317h3M525 313h3M507 311h3M488 298h3M509 255h3M472 288h3M506 276h3M516 296h3M523 281h3M527 163h3M489 321h3M509 269h3M520 316h3M492 324h3M517 327h3M502 305h3M521 325h3M521 332h3M500 244h3M503 302h3M487 323h3M525 274h3M512 322h3M510 304h3M483 327h3M490 291h3M506 314h3M511 308h3M524 301h3M474 316h3M511 154h3M526 320h3M514 262h3M529 326h3M527 329h3M525 334h3M522 267h3M503 304h3M494 320h3M520 261h3M498 311h3M499 309h3M475 122h3M521 228h3M522 239h3M520 297h3M490 308h3M523 326h3M516 336h3M522 330h3M525 220h3M517 267h3M524 239h3M509 334h3M503 271h3M518 302h3M521 262h3M458 302h3M518 189h3M516 280h3M469 327h3M524 244h3M517 293h3M511 298h3M526 325h3M511 191h3M519 331h3M486 296h3M509 327h3M510 262h3M526 308h3M513 306h3M504 331h3M525 324h3M521 301h3M519 334h3M493 330h3M500 242h3M510 165h3M525 331h3M521 163h3M507 141h3M520 336h3M524 122h3M508 269h3M528 307h3M516 327h3M514 310h3M507 313h3M461 329h3M508 314h3M520 309h3M480 241h3M493 234h3M515 324h3M505 292h3M514 316h3M527 230h3M515 179h3M514 179h3M519 251h3M519 330h3M525 309h3M485 327h3M526 292h3M520 335h3M483 321h3M524 337h3M519 324h3M512 215h3M508 317h3M502 316h3M523 321h3M486 203h3M515 296h3M483 269h3M524 240h3M504 204h3M480 333h3M514 328h3M525 282h3M520 288h3M514 303h3M513 124h3M501 299h3M509 278h3M477 233h3M509 309h3M522 283h3M499 318h3M503 277h3M497 304h3M526 280h3M483 329h3M505 266h3M503 300h3M522 327h3M516 322h3M521 240h3M504 286h3M509 292h3M528 280h3M507 238h3M513 269h3M518 335h3M513 326h3M527 303h3M517 304h3M502 264h3M522 331h3M499 122h3M524 268h3M507 251h3M521 160h3M517 316h3M481 328h3M520 235h3M508 240h3M507 331h3M505 323h3M528 326h3M528 304h3M518 304h3M525 328h3M513 330h3M515 273h3M496 332h3M526 302h3M525 279h3M522 320h3M517 256h3M522 248h3M508 331h3M520 300h3M525 318h3M524 188h3M520 306h3M507 333h3M513 281h3M524 123h3M489 335h3M493 334h3M518 324h3M513 333h3M502 175h3M513 331h3M512 262h3M521 282h3M508 257h3M504 321h3M519 309h3M522 300h3M512 329h3M526 202h3M526 265h3M517 290h3M520 282h3M493 167h3M520 317h3M502 320h3M483 330h3M518 239h3M525 229h3M517 315h3M514 325h3M526 299h3M518 331h3M503 336h3M505 237h3M520 287h3M516 258h3M522 215h3M527 289h3M510 313h3M505 282h3M510 324h3M525 158h3M510 317h3M511 164h3M493 122h3M510 327h3M509 312h3M489 325h3M516 219h3M485 264h3M492 317h3M506 305h3M482 320h3M494 281h3M474 262h3M482 324h3M521 251h3M494 329h3M518 316h3M489 332h3M526 316h3M496 318h3M525 270h3M515 304h3M508 174h3M525 325h3M527 240h3M522 279h3M501 293h3M527 307h3M504 323h3M519 289h3M505 122h3M529 328h3M485 318h3M509 268h3M505 281h3M497 309h3M477 326h3M515 251h3M527 316h3M497 310h3M515 245h3M496 316h3M527 249h3M517 240h3M516 306h3M522 274h3M522 306h3M514 297h3M519 249h3M517 318h3M490 327h3M486 319h3M517 328h3M525 280h3M507 325h3M479 328h3M526 285h3M500 324h3M509 130h3M519 270h3M496 319h3M480 291h3M465 331h3M502 315h3M504 212h3M456 319h3M513 322h3M523 280h3M528 241h3M501 163h3M503 188h3M512 333h3M526 149h3M513 302h3M507 216h3M497 302h3M497 277h3M518 333h3M527 309h3M510 273h3M527 321h3M518 336h3M520 279h3M508 305h3M483 304h3M476 313h3M524 329h3M524 289h3M505 306h3M517 324h3M512 335h3M523 283h3M519 308h3M518 221h3M524 303h3M498 308h3M528 332h3M515 283h3M519 287h3M522 328h3M519 304h3M509 321h3M507 334h3M528 246h3M503 319h3M529 287h3M514 167h3M516 334h3M506 303h3M517 222h3M480 208h3M518 300h3M518 175h3M520 126h3M529 329h3M492 307h3M518 289h3M524 256h3M528 285h3M517 276h3M501 331h3M518 213h3M506 277h3M516 207h3M486 313h3M526 193h3M481 318h3M523 297h3M514 165h3M516 302h3M497 177h3M517 302h3M510 294h3M521 293h3M517 294h3M509 247h3M515 337h3M495 289h3M523 218h3M526 271h3M497 216h3M528 324h3M504 303h3M508 302h3M524 280h3M520 296h3M520 250h3M492 320h3M522 332h3M516 246h3M523 305h3M515 317h3M502 260h3M525 333h3M526 239h3M490 234h3M519 316h3M484 292h3M497 299h3M506 310h3M517 166h3M528 235h3M450 317h3M527 170h3M521 326h3M526 310h3M523 317h3M518 332h3M529 310h3M521 314h3M507 296h3M496 279h3M524 198h3M507 224h3M487 305h3M513 183h3M527 203h3M507 270h3M441 320h3M521 309h3M499 199h3M494 332h3M500 271h3M504 336h3M524 266h3M526 309h3M529 299h3M529 334h3M522 262h3M523 215h3M479 179h3M507 273h3M515 291h3M522 261h3M521 265h3M523 278h3M514 236h3M493 309h3M520 290h3M500 251h3M525 329h3M519 229h3M506 296h3M491 314h3M508 283h3M522 270h3M520 280h3M518 141h3M513 193h3M527 276h3M519 181h3M511 145h3M514 263h3M520 285h3M503 264h3M488 321h3M501 255h3M494 257h3M511 303h3M508 190h3M526 208h3M523 328h3M524 273h3M517 269h3M519 268h3M508 319h3M524 319h3M527 322h3M516 177h3M509 274h3M521 274h3M524 272h3M512 301h3M528 323h3M523 319h3M523 329h3M521 226h3M469 318h3M479 324h3M501 181h3M526 324h3M522 170h3M513 267h3M528 331h3M524 311h3M519 323h3M521 271h3M524 177h3M525 264h3M506 333h3M494 280h3M521 324h3M516 295h3M522 298h3M505 247h3M522 238h3M528 322h3M515 332h3M526 255h3M508 291h3M473 304h3M521 256h3M512 242h3M524 223h3M512 306h3M512 298h3M479 265h3M526 287h3M523 282h3M512 289h3M521 250h3M515 284h3M501 333h3M501 309h3M515 302h3M524 314h3M514 314h3M519 300h3M516 264h3M529 319h3M496 294h3M526 326h3M527 304h3M467 311h3M505 257h3M501 329h3M527 279h3M529 302h3M504 297h3M502 333h3M526 268h3M520 304h3M528 318h3M521 306h3M517 258h3M529 323h3M509 301h3M501 268h3M494 324h3M496 272h3M520 264h3M517 238h3M488 257h3M520 321h3M523 273h3M485 325h3M519 305h3M469 273h3M529 297h3M503 326h3M490 297h3M491 250h3M510 337h3M503 292h3M482 322h3M467 332h3M528 262h3M489 222h3M517 319h3M517 282h3M504 185h3M502 287h3M516 276h3M516 214h3M525 288h3M515 206h3M517 334h3M521 305h3M528 273h3M506 334h3M528 236h3M520 301h3M511 262h3M528 317h3M520 220h3M500 243h3M498 298h3M507 154h3M525 294h3M519 281h3M528 223h3M526 303h3M523 324h3M526 335h3M461 315h3M518 159h3M529 320h3M527 194h3M527 266h3M507 306h3M524 220h3M482 321h3M514 334h3M505 319h3M529 293h3M460 307h3M511 311h3M525 272h3M496 324h3M507 279h3M515 336h3M526 251h3M507 241h3M518 253h3M490 287h3M523 318h3M492 270h3M510 122h3M495 239h3M529 276h3M528 268h3M510 198h3M515 235h3M498 326h3M524 324h3M522 336h3M476 306h3M527 251h3M525 267h3M523 271h3M525 125h3M513 297h3M512 336h3M498 293h3M501 297h3M527 179h3M473 318h3M478 334h3M527 158h3M521 202h3M472 310h3M518 262h3M519 288h3M456 325h3M477 304h3M520 283h3M510 335h3M502 321h3M496 261h3M516 244h3M502 282h3M514 309h3M488 308h3M515 329h3M512 294h3M520 328h3M521 304h3M516 318h3" stroke="#72ca52" stroke-width="3.00" transform="scale(0.5)"/>
<path d="M585 326h3M551 268h3M555 289h3M550 289h3M548 167h3M566 297h3M575 333h3M548 323h3M547 303h3M565 335h3M553 307h3M552 330h3M564 301h3M554 144h3M547 307h3M568 334h3M553 266h3M555 159h3M555 122h3M568 289h3M589 312h3M548 274h3M553 335h3M551 284h3M569 317h3M578 336h3M557 279h3M548 310h3M557 301h3M567 254h3M571 324h3M552 182h3M547 323h3M574 317h3M552 153h3M548 276h3M582 232h3M557 230h3M549 122h3M556 336h3M576 293h3M548 190h3M556 331h3M579 316h3M551 176h3M550 327h3M552 329h3M552 254h3M555 336h3M566 323h3M552 334h3M557 259h3M552 122h3M565 284h3M566 315h3M554 300h3M628 296h3M569 287h3M550 337h3M551 335h3M547 335h3M590 315h3M574 286h3M550 249h3M568 294h3M550 122h3M561 242h3M565 268h3M551 290h3M565 311h3M549 334h3M555 331h3M551 122h3M560 330h3M566 328h3M552 313h3M556 321h3M558 257h3M550 257h3M554 267h3M555 316h3M551 326h3M559 125h3M550 310h3M557 247h3M558 307h3M556 329h3M547 329h3M549 253h3M551 255h3M566 333h3M566 299h3M550 329h3M559 334h3M576 282h3M554 274h3M550 215h3M555 319h3M554 244h3M556 315h3M574 280h3M550 256h3M557 324h3M557 293h3M554 122h3M551 241h3M550 255h3M563 323h3M562 335h3M554 233h3M566 289h3M555 265h3M552 293h3M549 250h3M557 312h3M554 187h3M562 331h3M561 335h3M554 298h3M549 321h3M554 155h3M568 310h3M553 332h3M548 300h3M619 321h3M643 312h3M564 297h3M551 329h3M550 281h3M555 329h3M553 305h3M556 209h3M562 291h3M559 335h3M564 334h3M568 315h3M556 248h3M563 281h3M563 260h3M558 291h3M549 295h3M548 258h3M558 254h3M552 183h3M555 278h3M551 231h3M562 290h3M573 293h3M564 290h3M553 122h3M547 321h3M557 308h3M547 332h3M549 324h3M550 280h3M558 285h3M564 244h3M560 273h3M566 249h3M554 315h3M548 170h3M560 307h3M549 292h3M557 236h3M562 337h3M574 244h3M555 318h3M550 334h3M549 328h3M547 325h3M574 307h3M553 269h3M549 319h3M553 280h3M556 298h3M554 333h3M559 330h3M554 337h3M559 295h3M563 324h3M568 335h3M552 289h3M561 325h3M556 320h3M548 246h3M556 122h3M554 331h3M550 303h3M550 288h3M549 147h3M550 336h3M553 289h3M554 336h3M553 314h3M548 275h3M552 317h3M567 272h3M559 317h3M567 249h3M565 316h3M550 335h3M548 322h3M553 276h3M548 247h3M607 332h3M575 213h3M547 333h3M571 336h3M559 265h3M558 296h3M558 136h3M557 239h3M554 317h3M559 283h3M549 333h3M580 311h3M558 283h3M575 299h3M550 251h3M550 322h3M560 313h3M586 273h3M557 271h3M556 314h3M548 126h3M558 300h3M548 308h3M548 250h3M558 320h3M553 334h3M548 297h3M567 333h3M554 326h3M547 295h3M553 299h3M555 324h3M562 242h3M561 331h3M565 328h3M560 194h3M548 291h3M562 265h3M570 258h3M564 329h3M563 328h3M567 238h3M572 333h3M556 328h3M552 322h3M629 318h3M588 307h3M559 274h3M560 315h3M561 273h3M549 318h3M556 296h3M566 331h3M557 321h3M554 319h3M557 165h3M557 334h3M549 325h3M565 334h3M552 267h3M554 325h3M568 308h3M559 240h3M564 274h3M551 245h3M564 333h3M554 310h3M588 335h3M557 332h3M575 323h3M566 296h3M569 333h3M567 328h3M557 233h3M554 328h3M547 327h3M549 332h3M557 331h3M547 279h3M547 316h3M557 122h3M556 197h3M556 247h3M559 261h3M560 317h3M551 311h3M552 288h3M557 237h3M552 164h3M561 267h3M567 310h3M559 206h3M556 318h3M570 323h3M557 241h3M559 296h3M549 313h3M561 173h3M548 151h3M550 312h3M573 300h3M548 329h3M555 309h3M567 298h3M628 316h3M549 302h3M549 316h3M558 265h3M565 256h3M547 337h3M577 309h3M563 330h3M551 333h3M575 265h3M548 287h3M550 298h3M552 323h3M551 330h3M548 266h3M554 145h3M564 335h3M564 336h3M567 336h3M549 312h3M557 196h3M567 330h3M551 275h3M547 328h3M557 211h3M593 315h3M555 244h3M550 320h3M558 164h3M551 304h3M557 160h3M554 330h3M558 197h3M555 285h3M558 299h3M548 271h3M553 331h3M549 329h3M562 303h3M548 282h3M549 154h3M549 200h3M556 311h3M551 316h3M564 275h3M571 325h3M556 290h3M590 301h3M576 309h3M547 277h3M559 333h3M551 288h3M550 290h3M556 312h3M560 150h3M555 291h3M578 279h3M558 269h3M570 213h3M565 287h3M551 165h3M560 296h3M584 275h3M553 327h3M562 323h3M571 320h3M549 162h3M550 302h3M554 247h3M554 323h3M553 333h3M560 324h3M575 320h3M549 309h3M560 196h3M584 261h3M581 272h3M558 337h3M567 319h3M592 316h3M559 327h3M564 330h3M555 272h3M548 224h3M550 238h3M564 332h3M551 192h3M554 229h3M573 309h3M571 182h3M595 306h3M607 303h3M580 327h3M557 311h3M552 278h3M572 246h3M569 300h3M577 308h3M555 332h3M549 330h3M557 327h3M582 329h3M558 243h3M556 308h3M552 231h3M550 272h3M565 167h3M560 302h3M549 190h3M557 286h3M574 293h3M564 316h3M553 319h3M556 327h3M560 333h3M558 313h3M548 201h3M565 304h3M553 336h3M555 271h3M559 216h3M573 287h3M569 335h3M553 261h3M548 122h3M577 221h3M561 166h3M555 327h3M549 248h3M552 337h3M548 309h3M565 294h3M552 251h3M551 280h3M577 208h3M563 294h3M558 266h3M556 282h3M557 178h3M550 125h3M548 269h3M565 333h3M560 300h3M550 214h3M555 334h3M554 160h3M552 336h3M552 324h3M552 189h3M548 261h3M548 295h3M550 315h3M547 254h3M551 247h3M553 228h3M572 297h3M551 299h3M577 255h3M553 167h3M582 323h3M553 215h3M552 186h3M549 293h3M575 291h3M554 302h3M567 327h3M554 180h3M555 311h3M556 317h3M557 314h3M553 330h3M548 233h3M565 331h3M562 139h3M553 317h3M548 302h3M552 268h3M548 314h3M548 197h3M559 122h3M549 305h3M548 335h3M569 207h3M550 293h3M554 322h3M587 275h3M552 314h3M558 321h3M554 174h3M550 282h3M583 297h3M554 192h3M575 281h3M555 304h3M554 173h3M560 145h3M548 318h3M550 127h3M548 330h3M554 308h3M553 326h3M552 327h3M572 122h3M556 136h3M581 317h3M550 304h3M556 255h3M549 322h3M568 291h3M569 321h3M559 301h3M552 258h3M548 332h3M557 325h3M550 246h3M550 318h3M548 305h3M555 241h3M559 170h3M551 332h3M567 201h3M553 131h3M559 183h3M557 254h3M556 309h3M567 325h3M582 311h3M548 311h3M548 324h3M557 298h3M555 199h3M549 300h3M558 132h3M559 284h3M548 263h3M566 300h3M559 219h3M556 316h3M549 259h3M550 292h3M592 330h3M552 309h3M552 277h3M549 320h3M552 287h3M566 277h3M548 232h3M549 331h3M560 290h3M551 237h3M561 253h3M558 246h3M586 291h3M557 322h3M563 325h3M552 157h3M557 315h3M547 309h3M549 303h3M559 325h3M563 317h3M560 304h3M552 306h3M564 321h3M561 316h3M548 280h3M562 257h3M553 207h3M561 122h3M561 227h3M564 319h3M573 298h3M551 219h3M569 294h3M575 315h3M554 235h3M558 316h3M552 126h3M607 331h3M577 325h3M550 266h3M548 336h3M573 324h3M567 258h3M574 143h3M571 335h3M550 247h3M603 332h3M551 238h3M553 133h3M559 196h3M558 335h3M552 307h3M560 301h3M549 311h3M566 307h3M555 337h3M559 281h3M549 239h3M551 325h3M570 311h3M574 302h3M548 307h3M550 223h3M558 312h3M566 282h3M553 193h3M549 336h3M556 227h3M555 249h3M554 289h3M558 306h3M557 319h3M555 260h3M569 309h3M576 311h3M551 313h3M558 289h3M566 314h3M551 308h3M549 308h3M572 296h3M569 293h3M559 290h3M558 302h3M548 321h3M559 259h3M553 321h3M554 239h3M548 242h3M568 316h3M583 310h3M548 337h3M554 312h3M558 331h3M553 286h3M555 310h3M580 313h3M626 325h3M550 206h3M582 313h3M552 315h3M573 332h3M599 294h3M561 296h3M575 293h3M568 282h3M563 306h3M566 310h3M552 312h3M549 307h3M557 261h3M556 192h3M553 168h3M571 185h3M547 247h3M553 220h3M553 249h3M548 204h3M551 295h3M567 326h3M576 327h3M552 280h3M549 228h3M572 328h3M562 306h3M553 263h3M567 267h3M559 190h3M558 228h3M567 307h3M552 257h3M549 285h3M553 241h3M552 294h3M568 336h3M564 261h3M561 278h3M551 337h3M565 271h3M551 307h3M551 324h3M552 271h3M568 267h3M552 308h3M551 267h3M548 328h3M558 322h3M548 298h3M553 197h3M557 216h3M555 326h3M555 335h3M574 332h3M559 332h3M565 310h3M556 333h3M597 326h3M589 332h3M547 334h3M561 329h3M549 274h3M556 307h3M556 295h3M555 317h3M566 144h3M547 308h3M552 328h3M551 306h3M551 323h3M561 312h3M559 321h3M561 265h3M566 334h3M574 149h3M583 201h3M553 257h3M547 289h3M554 295h3M554 334h3M591 324h3M573 323h3M552 224h3M551 292h3M563 319h3M548 286h3M561 332h3M575 330h3M547 326h3M570 210h3M567 245h3M563 315h3M590 299h3M566 174h3M555 231h3M574 324h3M566 122h3M547 336h3M552 302h3M547 331h3M598 242h3M576 330h3M554 301h3M548 331h3M555 307h3M556 322h3M550 141h3M578 316h3M559 287h3M551 312h3M553 292h3M550 332h3M567 332h3M562 210h3M550 269h3M552 181h3M548 333h3M566 252h3M551 322h3M552 178h3M553 308h3M566 233h3M563 255h3M578 333h3M556 326h3M550 162h3M574 310h3M560 140h3M554 280h3M552 310h3M555 328h3M556 260h3M550 307h3M550 331h3M558 310h3M571 326h3M580 320h3M554 213h3M582 318h3M552 296h3M557 260h3M560 331h3M564 266h3M559 309h3M568 122h3M571 317h3M561 288h3M556 323h3M550 301h3M563 211h3M564 279h3M565 326h3M574 291h3M558 122h3M590 292h3M567 288h3M551 336h3M583 301h3M567 264h3M559 227h3M551 309h3M576 295h3M569 129h3M553 279h3M550 277h3M566 276h3M571 314h3M553 234h3M560 201h3M594 304h3M556 313h3M565 298h3M561 146h3M574 305h3M557 328h3M551 144h3M555 179h3M547 298h3M563 327h3M561 317h3M550 248h3M550 159h3M554 305h3M552 326h3M579 288h3M558 327h3M549 270h3M548 284h3M561 295h3M564 218h3M551 133h3M549 254h3M548 283h3M551 315h3M565 255h3M563 257h3M547 310h3M553 217h3M548 240h3M563 310h3M551 293h3M547 257h3M559 199h3M583 333h3M549 243h3M549 314h3M575 243h3M579 277h3M554 316h3M551 154h3M573 198h3M549 261h3M554 297h3M556 141h3M556 301h3M570 335h3M549 185h3M566 294h3M565 278h3M568 325h3M547 318h3M562 232h3M560 232h3M547 301h3M588 306h3M551 328h3M576 307h3M557 288h3M557 310h3M547 312h3M558 150h3M594 328h3M552 298h3M547 296h3M579 325h3M558 256h3M560 291h3M556 174h3M556 300h3M555 277h3M553 313h3M557 335h3M556 264h3M555 293h3M559 305h3M577 313h3M552 226h3M576 289h3M563 322h3M550 132h3M548 327h3M557 174h3M561 336h3M563 163h3M561 337h3M585 293h3M554 204h3M560 224h3M551 200h3M550 197h3M557 336h3M638 295h3M554 255h3M548 319h3M552 279h3M549 306h3M570 321h3M576 323h3M549 249h3M570 310h3M558 326h3M576 325h3M560 329h3M577 329h3M551 272h3M562 122h3M583 331h3M562 140h3M560 213h3M553 294h3M568 327h3M561 307h3M549 283h3M567 297h3M566 336h3M569 337h3M548 316h3M568 268h3M577 326h3M565 307h3M548 265h3M548 292h3M553 201h3M547 317h3M554 314h3M563 297h3M562 229h3M582 182h3M560 182h3M550 287h3M570 303h3M548 294h3M549 337h3M547 291h3M557 257h3M573 278h3M563 269h3M547 315h3M578 204h3M549 327h3M549 281h3M548 317h3M564 283h3M564 295h3M550 194h3M549 256h3M554 199h3M574 124h3M578 331h3M550 250h3M560 334h3M554 249h3M555 208h3M558 235h3M594 265h3M561 304h3M566 268h3M562 322h3M555 312h3M555 174h3M552 281h3M557 226h3M563 198h3M551 191h3M564 324h3M571 289h3M576 314h3M548 143h3M558 248h3M549 128h3M564 149h3M564 160h3M555 274h3M576 326h3M558 329h3M548 279h3M581 335h3M556 332h3M550 278h3M562 185h3M554 309h3M571 277h3M549 301h3M548 326h3M557 275h3M549 158h3M556 246h3M561 310h3M553 260h3M568 191h3M560 309h3M551 302h3M572 324h3M563 333h3M580 331h3M548 288h3M559 203h3M555 313h3M572 332h3M572 306h3M549 240h3M557 330h3M550 193h3M564 327h3M552 259h3M548 245h3M551 206h3M547 330h3M569 304h3M550 330h3M557 337h3M575 263h3M558 161h3M547 324h3M555 300h3M576 317h3M559 337h3M572 308h3M550 317h3M613 317h3M580 319h3M581 336h3M610 313h3M551 297h3M557 284h3M547 276h3M552 246h3M553 251h3M556 284h3M591 332h3M567 246h3M564 202h3M549 176h3M566 158h3M554 284h3M566 325h3M576 273h3M586 301h3M619 313h3M579 144h3M560 175h3M552 335h3M571 287h3M579 327h3M568 333h3M551 210h3M579 122h3M559 248h3M556 306h3M561 327h3M558 221h3M558 328h3M604 299h3M603 256h3M573 320h3M583 252h3M558 333h3M552 301h3M560 122h3M549 133h3M551 251h3M559 328h3M547 302h3M559 258h3M550 316h3M556 243h3M553 329h3M554 269h3M580 296h3M569 332h3M553 277h3M549 267h3M552 319h3M551 327h3M585 324h3M552 252h3M548 290h3M577 290h3M547 282h3M548 315h3M561 276h3M553 296h3M556 337h3M548 273h3M572 245h3M588 122h3M550 139h3M558 324h3M562 312h3M575 256h3M553 270h3M585 284h3M552 321h3M549 266h3M567 312h3M556 250h3M559 329h3M568 296h3M555 330h3M552 244h3M568 322h3M565 236h3M550 314h3M555 325h3M549 278h3M573 283h3M604 271h3M554 307h3M557 313h3M577 258h3M555 282h3M548 194h3M555 245h3M550 313h3M551 239h3M564 306h3M554 264h3M571 286h3M558 317h3M561 315h3M555 261h3M559 264h3M557 228h3M565 203h3M582 275h3M562 328h3M558 282h3M551 321h3M551 310h3M562 321h3M576 279h3M550 328h3M553 328h3M573 214h3M587 314h3M550 166h3M549 323h3M561 294h3M567 281h3M575 309h3M563 308h3M550 170h3M558 230h3M578 335h3M569 229h3M578 227h3M556 221h3M555 288h3M549 286h3M558 199h3M571 331h3M561 280h3M573 312h3M554 291h3M559 336h3M562 271h3M578 311h3M570 322h3M548 225h3M549 299h3M555 314h3M552 223h3M565 318h3M569 302h3M570 331h3M557 316h3M555 268h3M563 157h3M556 277h3M589 265h3M550 300h3M547 299h3M548 289h3M552 250h3M554 165h3M571 321h3M551 240h3M557 219h3M547 292h3M576 290h3M551 135h3M559 326h3M553 275h3M571 280h3M561 324h3M564 273h3M625 324h3M554 285h3M555 237h3M587 294h3M570 259h3M561 134h3M555 333h3M572 272h3M581 302h3M561 248h3M558 258h3M567 305h3M582 312h3M561 142h3M560 332h3M554 254h3M564 222h3M582 303h3M555 320h3M551 300h3M552 236h3M556 266h3M565 277h3M555 302h3M559 307h3M554 271h3M574 274h3M571 308h3M589 269h3M561 323h3M593 328h3M574 297h3M588 332h3M563 312h3M548 296h3M558 288h3M554 136h3M566 213h3M571 334h3M572 329h3M551 264h3M550 275h3M552 331h3M568 332h3M555 276h3M584 301h3M565 322h3M557 326h3M555 315h3M547 284h3M554 287h3M552 305h3M563 304h3M568 251h3M561 241h3M553 287h3M558 311h3M559 302h3M553 323h3M560 321h3M555 280h3M556 185h3M561 225h3M583 334h3M551 224h3M568 307h3M588 270h3M580 335h3M560 328h3M570 240h3M561 156h3M556 325h3M581 329h3M596 267h3M573 305h3M557 179h3M562 332h3M555 257h3M567 265h3M550 164h3M583 263h3M569 325h3M580 249h3M554 324h3M569 122h3M570 139h3M561 218h3M556 245h3M624 324h3M586 315h3M566 247h3M551 213h3M557 306h3M552 295h3M549 257h3M550 177h3M552 304h3M552 132h3M560 285h3M560 337h3M549 225h3M568 246h3M559 171h3M555 284h3M550 191h3M564 331h3M550 142h3M600 331h3M549 284h3M577 321h3M548 248h3M565 330h3M562 326h3M556 293h3M550 129h3M559 260h3M571 292h3M563 125h3M563 326h3M572 276h3M580 318h3M552 159h3M557 175h3M569 284h3M549 143h3M552 176h3M551 186h3M590 304h3M560 170h3M558 323h3M549 288h3M570 329h3M548 299h3M572 271h3M583 244h3M548 264h3M553 311h3M554 332h3M548 227h3M579 229h3M549 264h3M552 222h3M549 198h3M551 252h3M578 308h3M551 257h3M551 289h3M557 281h3M557 280h3M562 305h3M562 297h3M552 127h3M589 322h3M551 287h3M571 271h3M568 232h3M550 299h3M559 279h3M568 143h3M561 322h3M605 313h3M575 307h3M585 301h3M557 253h3M549 208h3M556 239h3M554 273h3M550 309h3M562 313h3M557 304h3M559 210h3M554 236h3M572 312h3M558 131h3M555 180h3M556 285h3M555 140h3M548 218h3M572 295h3M570 162h3M549 296h3M558 260h3M556 210h3M570 154h3M579 328h3M566 288h3M575 306h3M594 320h3M553 164h3M550 305h3M616 210h3M555 186h3M562 180h3M567 323h3M549 310h3M552 145h3M560 242h3M549 206h3M562 289h3M558 276h3M563 175h3M553 309h3M551 271h3M548 312h3M589 240h3M565 266h3M561 328h3M572 335h3M550 213h3M582 317h3M557 167h3M552 297h3M551 334h3M550 183h3M551 221h3M558 263h3M558 229h3M551 256h3M574 303h3M570 209h3M557 273h3M558 259h3M570 290h3M553 268h3M562 336h3M552 123h3M554 214h3M572 325h3M555 126h3M564 122h3M551 318h3M550 218h3M552 284h3M556 280h3M574 330h3M561 261h3M547 305h3M559 331h3M563 302h3M569 296h3M550 267h3M574 267h3M555 255h3M575 321h3M564 313h3M557 242h3M576 284h3M553 312h3M559 324h3M555 192h3M551 254h3M562 256h3M548 313h3M555 218h3M548 219h3M555 252h3M577 334h3M551 282h3M547 314h3M616 279h3M547 283h3M566 245h3M554 318h3M555 177h3M574 264h3M560 295h3M553 298h3M553 300h3M577 272h3M572 309h3M559 292h3M564 270h3M550 333h3M549 220h3M563 267h3M558 178h3M599 309h3M549 234h3M548 185h3M556 274h3M558 330h3M564 231h3M556 133h3M555 270h3M565 303h3M548 334h3M583 300h3M567 320h3M549 315h3M548 186h3M566 263h3M556 272h3M565 234h3M582 250h3M561 284h3M578 327h3M548 272h3M551 314h3M565 300h3M558 277h3M547 270h3M566 270h3M554 321h3M573 269h3M590 335h3M563 122h3M550 319h3M555 322h3M578 334h3M564 315h3M572 248h3M553 141h3M553 337h3M567 299h3M549 290h3M556 193h3M607 241h3M553 205h3M559 176h3M554 260h3M549 297h3M548 144h3M553 301h3M548 306h3M592 312h3M550 297h3M554 131h3M556 188h3M582 280h3M569 298h3M553 210h3M557 197h3M551 317h3M552 253h3M601 331h3M551 296h3M566 303h3M567 329h3M549 197h3M565 305h3M549 275h3M582 245h3M548 268h3M548 301h3M549 209h3M553 274h3M562 252h3M590 251h3M564 302h3M550 323h3M587 308h3M575 311h3M554 329h3M572 284h3M561 301h3M577 289h3M562 333h3M560 280h3M563 334h3M550 295h3M580 330h3M559 316h3M567 302h3M551 303h3M554 279h3M553 297h3M555 299h3M564 221h3M596 189h3M547 320h3M548 304h3M571 221h3M560 282h3M548 239h3M555 210h3M589 264h3M557 198h3M551 230h3M596 190h3M562 325h3M559 322h3M551 208h3M553 255h3M554 251h3M564 236h3M563 228h3M561 222h3M552 299h3M553 320h3M562 176h3M557 270h3M552 300h3M558 319h3M572 311h3M561 330h3M553 291h3M554 290h3M570 194h3M585 318h3M551 305h3M553 185h3M550 228h3M564 320h3M551 276h3M561 195h3M577 333h3M586 312h3M548 254h3M573 325h3M556 132h3M572 320h3M559 175h3M550 242h3M574 301h3M557 285h3M566 272h3M595 287h3M579 323h3M555 217h3M557 302h3M556 291h3M561 266h3M551 242h3M549 124h3M574 315h3M554 184h3M572 315h3M551 263h3M553 267h3M559 291h3M575 331h3M550 227h3M581 304h3M549 272h3M552 276h3M571 309h3M561 157h3M551 286h3M580 289h3M583 324h3M554 258h3M561 302h3M566 238h3M594 268h3M554 270h3M573 167h3M562 286h3M569 281h3M579 302h3M556 153h3M560 226h3M571 297h3M552 262h3M573 229h3M568 306h3M552 225h3M551 291h3M575 316h3M582 235h3" stroke="#e2185a" stroke-width="3.00" transform="scale(0.5)"/>
<line x1="214.5" y1="59.5" x2="214.5" y2="187.8" stroke="#333" stroke-width="1.1" />
<line x1="214.0" y1="187.3" x2="325.3" y2="187.3" stroke="#333" stroke-width="1.1" />
<text x="214.6" y="62.4" font-size="7.0" text-anchor="end" fill="#1a1a1a" stroke="#1a1a1a" stroke-width="0.12" font-weight="normal" letter-spacing="-0.3">300</text>
<text x="214.6" y="80.4" font-size="7.0" text-anchor="end" fill="#1a1a1a" stroke="#1a1a1a" stroke-width="0.12" font-weight="normal" letter-spacing="-0.3">250</text>
<text x="214.6" y="98.4" font-size="7.0" text-anchor="end" fill="#1a1a1a" stroke="#1a1a1a" stroke-width="0.12" font-weight="normal" letter-spacing="-0.3">200</text>
<text x="214.6" y="116.3" font-size="7.0" text-anchor="end" fill="#1a1a1a" stroke="#1a1a1a" stroke-width="0.12" font-weight="normal" letter-spacing="-0.3">150</text>
<text x="214.6" y="134.3" font-size="7.0" text-anchor="end" fill="#1a1a1a" stroke="#1a1a1a" stroke-width="0.12" font-weight="normal" letter-spacing="-0.3">100</text>
<text x="214.6" y="152.3" font-size="7.0" text-anchor="end" fill="#1a1a1a" stroke="#1a1a1a" stroke-width="0.12" font-weight="normal" letter-spacing="-0.3">50</text>
<text x="214.6" y="170.3" font-size="7.0" text-anchor="end" fill="#1a1a1a" stroke="#1a1a1a" stroke-width="0.12" font-weight="normal" letter-spacing="-0.3">0</text>
<text x="214.6" y="188.3" font-size="7.0" text-anchor="end" fill="#1a1a1a" stroke="#1a1a1a" stroke-width="0.12" font-weight="normal" letter-spacing="-0.3">-50</text>
<line x1="218.6" y1="187.3" x2="218.6" y2="189.1" stroke="#222" stroke-width="0.8" />
<text x="219.4" y="195.8" font-size="7.2" text-anchor="middle" fill="#1a1a1a" stroke="#1a1a1a" stroke-width="0.12" font-weight="normal" letter-spacing="-0.35">-12</text>
<line x1="227.2" y1="187.3" x2="227.2" y2="189.1" stroke="#222" stroke-width="0.8" />
<text x="228.0" y="195.8" font-size="7.2" text-anchor="middle" fill="#1a1a1a" stroke="#1a1a1a" stroke-width="0.12" font-weight="normal" letter-spacing="-0.35">-10</text>
<line x1="235.7" y1="187.3" x2="235.7" y2="189.1" stroke="#222" stroke-width="0.8" />
<text x="236.5" y="195.8" font-size="7.2" text-anchor="middle" fill="#1a1a1a" stroke="#1a1a1a" stroke-width="0.12" font-weight="normal" letter-spacing="-0.35">-8</text>
<line x1="244.2" y1="187.3" x2="244.2" y2="189.1" stroke="#222" stroke-width="0.8" />
<text x="245.0" y="195.8" font-size="7.2" text-anchor="middle" fill="#1a1a1a" stroke="#1a1a1a" stroke-width="0.12" font-weight="normal" letter-spacing="-0.35">-6</text>
<line x1="252.7" y1="187.3" x2="252.7" y2="189.1" stroke="#222" stroke-width="0.8" />
<text x="253.5" y="195.8" font-size="7.2" text-anchor="middle" fill="#1a1a1a" stroke="#1a1a1a" stroke-width="0.12" font-weight="normal" letter-spacing="-0.35">-4</text>
<line x1="261.3" y1="187.3" x2="261.3" y2="189.1" stroke="#222" stroke-width="0.8" />
<text x="262.1" y="195.8" font-size="7.2" text-anchor="middle" fill="#1a1a1a" stroke="#1a1a1a" stroke-width="0.12" font-weight="normal" letter-spacing="-0.35">-2</text>
<line x1="269.8" y1="187.3" x2="269.8" y2="189.1" stroke="#222" stroke-width="0.8" />
<text x="269.8" y="195.8" font-size="7.2" text-anchor="middle" fill="#1a1a1a" stroke="#1a1a1a" stroke-width="0.12" font-weight="normal" letter-spacing="-0.35">0</text>
<line x1="278.3" y1="187.3" x2="278.3" y2="189.1" stroke="#222" stroke-width="0.8" />
<text x="278.3" y="195.8" font-size="7.2" text-anchor="middle" fill="#1a1a1a" stroke="#1a1a1a" stroke-width="0.12" font-weight="normal" letter-spacing="-0.35">2</text>
<line x1="286.9" y1="187.3" x2="286.9" y2="189.1" stroke="#222" stroke-width="0.8" />
<text x="286.9" y="195.8" font-size="7.2" text-anchor="middle" fill="#1a1a1a" stroke="#1a1a1a" stroke-width="0.12" font-weight="normal" letter-spacing="-0.35">4</text>
<line x1="295.4" y1="187.3" x2="295.4" y2="189.1" stroke="#222" stroke-width="0.8" />
<text x="295.4" y="195.8" font-size="7.2" text-anchor="middle" fill="#1a1a1a" stroke="#1a1a1a" stroke-width="0.12" font-weight="normal" letter-spacing="-0.35">6</text>
<line x1="303.9" y1="187.3" x2="303.9" y2="189.1" stroke="#222" stroke-width="0.8" />
<text x="303.9" y="195.8" font-size="7.2" text-anchor="middle" fill="#1a1a1a" stroke="#1a1a1a" stroke-width="0.12" font-weight="normal" letter-spacing="-0.35">8</text>
<line x1="312.4" y1="187.3" x2="312.4" y2="189.1" stroke="#222" stroke-width="0.8" />
<text x="312.4" y="195.8" font-size="7.2" text-anchor="middle" fill="#1a1a1a" stroke="#1a1a1a" stroke-width="0.12" font-weight="normal" letter-spacing="-0.35">10</text>
<line x1="321.0" y1="187.3" x2="321.0" y2="189.1" stroke="#222" stroke-width="0.8" />
<text x="321.0" y="195.8" font-size="7.2" text-anchor="middle" fill="#1a1a1a" stroke="#1a1a1a" stroke-width="0.12" font-weight="normal" letter-spacing="-0.35">12</text>
<text x="270.0" y="208.3" font-size="9.2" text-anchor="middle" fill="#1a1a1a" stroke="#1a1a1a" stroke-width="0.12" font-weight="normal" >log2 Fold Change</text>
<text x="0" y="0" font-size="9.2" text-anchor="middle" fill="#1a1a1a" stroke="#1a1a1a" stroke-width="0.12" transform="translate(201.8,119.0) rotate(-90)">-log10(Qvalue)</text>
<rect x="319.50" y="59.20" width="3.00" height="3.00" fill="#e2185a" />
<text x="324.5" y="62.5" font-size="9.0" text-anchor="start" fill="#1a1a1a" stroke="#1a1a1a" stroke-width="0.12" font-weight="normal" >Up</text>
<rect x="319.50" y="67.65" width="3.00" height="3.00" fill="#9db0c8" />
<text x="324.5" y="71.0" font-size="9.0" text-anchor="start" fill="#1a1a1a" stroke="#1a1a1a" stroke-width="0.12" font-weight="normal" >no-DEGS</text>
<rect x="319.50" y="76.10" width="3.00" height="3.00" fill="#72ca52" />
<text x="324.5" y="79.4" font-size="9.0" text-anchor="start" fill="#1a1a1a" stroke="#1a1a1a" stroke-width="0.12" font-weight="normal" >Down</text>
<text x="346.5" y="48.0" font-size="9.02" text-anchor="start" fill="#1a1a1a" stroke="#1a1a1a" stroke-width="0.12" font-weight="normal" >470-480nm+OA+Opn3 KO vs 470-480nm+OA</text>
<line x1="438.5" y1="60.5" x2="438.5" y2="187.5" stroke="#7a7a7a" stroke-width="0.9" stroke-dasharray="1.6,1.9"/>
<line x1="441.4" y1="60.5" x2="441.4" y2="187.5" stroke="#a8a8a8" stroke-width="0.9" stroke-dasharray="1.6,1.9"/>
<line x1="444.1" y1="60.5" x2="444.1" y2="187.5" stroke="#7a7a7a" stroke-width="0.9" stroke-dasharray="1.6,1.9"/>
<line x1="385.0" y1="169.6" x2="497.8" y2="169.6" stroke="#7a7a7a" stroke-width="0.9" stroke-dasharray="1.6,1.9"/>
<path d="M884 336h3M878 339h3M885 333h3M879 332h3M884 327h3M878 330h3M884 331h3M883 332h3M884 326h3M878 334h3M879 328h3M879 339h3M879 335h3M883 333h3M878 329h3M878 323h3M879 331h3M878 331h3M877 338h3M879 338h3M884 339h3M879 330h3M879 326h3M883 335h3M883 336h3M879 329h3M878 332h3M878 326h3M883 329h3M884 329h3M883 334h3M879 336h3M883 331h3M884 330h3M879 337h3M884 334h3M878 333h3M878 335h3M883 328h3M877 333h3M878 337h3M884 338h3M884 333h3M885 330h3M884 335h3M884 325h3M883 339h3M878 336h3M883 338h3M878 327h3M877 331h3M880 333h3M878 338h3M877 336h3M883 337h3M878 325h3M879 333h3M877 329h3M879 334h3M884 337h3M878 324h3M877 328h3M880 336h3M884 332h3M885 336h3M877 330h3M877 339h3M883 330h3M885 337h3M880 337h3M877 332h3M879 327h3M877 324h3M885 327h3M885 338h3M880 335h3M885 323h3M878 328h3M885 331h3M880 338h3M877 322h3M877 323h3M885 334h3M884 328h3M884 324h3M885 326h3M877 335h3M885 325h3M877 325h3M880 334h3M885 339h3M885 324h3M885 335h3M880 332h3M885 328h3M885 332h3M880 331h3M877 327h3M883 327h3M877 334h3M885 322h3M880 339h3M877 337h3M877 326h3M882 339h3M881 339h3M882 338h3" stroke="#9db0c8" stroke-width="3.00" transform="scale(0.5)"/>
<path d="M873 312h3M866 338h3M869 285h3M871 299h3M873 315h3M864 150h3M824 311h3M868 337h3M863 322h3M876 339h3M866 323h3M838 293h3M871 204h3M864 285h3M855 276h3M869 314h3M876 318h3M856 133h3M848 125h3M795 330h3M854 316h3M865 325h3M841 240h3M864 287h3M834 260h3M867 290h3M838 236h3M844 284h3M834 326h3M871 231h3M847 268h3M863 313h3M835 316h3M868 277h3M818 328h3M861 322h3M866 299h3M869 332h3M875 331h3M859 314h3M868 309h3M850 338h3M858 311h3M874 334h3M862 298h3M865 321h3M857 336h3M866 158h3M858 326h3M863 239h3M871 317h3M873 326h3M836 297h3M869 239h3M871 292h3M865 248h3M870 298h3M870 310h3M869 183h3M871 309h3M842 125h3M871 301h3M860 329h3M872 310h3M845 321h3M860 323h3M869 317h3M869 324h3M874 331h3M867 283h3M860 328h3M863 315h3M847 269h3M873 295h3M858 321h3M866 125h3M862 259h3M802 308h3M865 153h3M866 315h3M853 251h3M866 331h3M872 331h3M874 328h3M845 241h3M831 236h3M869 329h3M868 145h3M869 289h3M872 274h3M850 318h3M871 197h3M860 125h3M872 321h3M864 322h3M871 271h3M839 331h3M871 310h3M849 330h3M803 260h3M846 332h3M837 164h3M847 330h3M846 302h3M844 314h3M867 292h3M836 320h3M875 318h3M861 140h3M853 318h3M870 334h3M826 331h3M842 217h3M874 322h3M870 197h3M868 248h3M872 338h3M859 182h3M853 284h3M872 241h3M865 324h3M858 187h3M844 272h3M825 317h3M863 260h3M870 268h3M843 322h3M843 323h3M867 133h3M861 194h3M875 319h3M848 329h3M872 275h3M809 327h3M854 199h3M873 311h3M873 278h3M832 300h3M855 318h3M868 327h3M850 324h3M868 273h3M867 334h3M792 296h3M871 328h3M847 334h3M864 338h3M870 332h3M857 132h3M869 338h3M829 331h3M831 295h3M865 296h3M854 278h3M869 266h3M871 339h3M873 332h3M819 329h3M831 334h3M868 295h3M867 125h3M866 337h3M867 306h3M863 331h3M823 311h3M863 150h3M870 300h3M863 333h3M875 333h3M851 332h3M842 331h3M836 327h3M812 321h3M858 169h3M869 323h3M866 321h3M874 325h3M870 275h3M871 260h3M872 328h3M864 268h3M876 335h3M868 296h3M855 292h3M869 259h3M869 307h3M867 327h3M860 286h3M866 275h3M868 138h3M863 336h3M837 302h3M869 337h3M842 332h3M872 325h3M872 286h3M875 328h3M859 306h3M831 298h3M837 300h3M868 294h3M873 275h3M869 281h3M858 325h3M867 337h3M810 317h3M872 317h3M846 317h3M842 328h3M850 140h3M868 312h3M864 244h3M875 338h3M829 319h3M860 268h3M875 327h3M871 305h3M836 317h3M861 321h3M872 323h3M863 338h3M851 308h3M819 312h3M860 314h3M817 320h3M870 314h3M871 214h3M851 333h3M861 328h3M867 320h3M861 329h3M856 125h3M853 322h3M867 324h3M860 311h3M854 327h3M873 329h3M856 294h3M871 320h3M828 299h3M827 189h3M870 267h3M872 335h3M851 338h3M853 324h3M871 276h3M863 273h3M825 276h3M870 322h3M842 312h3M870 313h3M863 337h3M841 309h3M824 325h3M864 332h3M871 329h3M865 220h3M860 333h3M873 297h3M865 297h3M842 286h3M866 320h3M857 251h3M850 337h3M870 328h3M852 260h3M866 214h3M861 337h3M864 326h3M844 293h3M837 295h3M855 302h3M846 178h3M865 270h3M869 238h3M875 335h3M837 249h3M858 307h3M873 279h3M834 333h3M874 320h3M841 289h3M864 304h3M844 333h3M840 319h3M862 125h3M835 321h3M864 331h3M854 304h3M841 335h3M846 306h3M862 337h3M871 302h3M852 311h3M871 241h3M862 326h3M866 329h3M875 326h3M867 338h3M855 321h3M858 274h3M874 339h3M868 324h3M872 326h3M865 319h3M875 315h3M839 304h3M849 308h3M873 314h3M869 297h3M874 332h3M867 314h3M855 232h3M854 336h3M856 298h3M873 301h3M861 323h3M855 307h3M868 308h3M820 315h3M851 335h3M867 325h3M866 314h3M865 311h3M870 242h3M868 333h3M870 316h3M795 309h3M805 324h3M872 304h3M835 333h3M870 235h3M868 336h3M798 290h3M859 319h3M857 337h3M855 316h3M847 322h3M842 284h3M874 310h3M860 193h3M828 326h3M869 213h3M874 338h3M874 312h3M848 326h3M849 310h3M854 216h3M855 333h3M837 299h3M862 335h3M837 226h3M859 286h3M872 313h3M874 329h3M841 304h3M846 256h3M869 334h3M865 327h3M867 299h3M862 313h3M872 306h3M863 287h3M843 241h3M855 326h3M866 282h3M839 329h3M843 325h3M819 125h3M863 285h3M874 282h3M876 334h3M874 326h3M869 330h3M858 179h3M831 277h3M854 322h3M825 286h3M787 327h3M844 289h3M871 336h3M853 273h3M848 333h3M873 247h3M830 331h3M868 325h3M862 213h3M867 238h3M853 298h3M866 319h3M864 320h3M868 290h3M859 285h3M864 162h3M856 337h3M869 263h3M869 302h3M871 337h3M831 166h3M818 308h3M865 329h3M873 339h3M856 315h3M861 226h3M874 318h3M855 325h3M864 261h3M870 315h3M863 328h3M815 325h3M846 311h3M871 218h3M869 335h3M868 331h3M872 332h3M869 310h3M869 290h3M832 291h3M858 306h3M864 335h3M875 306h3M873 337h3M848 338h3M857 232h3M869 331h3M871 282h3M872 242h3M863 309h3M865 316h3M873 320h3M847 325h3M869 274h3M867 225h3M875 313h3M875 324h3M829 298h3M860 261h3M868 335h3M866 317h3M856 316h3M844 317h3M832 288h3M849 280h3M864 292h3M853 333h3M863 321h3M843 217h3M862 328h3M834 323h3M813 311h3M832 319h3M855 320h3M833 334h3M870 260h3M843 283h3M864 334h3M865 274h3M872 334h3M838 328h3M849 319h3M832 315h3M867 245h3M855 313h3M826 252h3M848 308h3M863 206h3M867 302h3M859 276h3M862 286h3M867 319h3M873 334h3M846 319h3M858 313h3M867 309h3M871 316h3M874 279h3M863 295h3M864 307h3M873 322h3M875 302h3M836 336h3M855 273h3M859 205h3M849 318h3M873 338h3M848 240h3M848 336h3M849 125h3M876 325h3M864 272h3M869 333h3M796 325h3M858 339h3M847 263h3M841 328h3M872 243h3M857 126h3M869 288h3M841 327h3M822 262h3M865 334h3M872 320h3M867 339h3M867 288h3M872 307h3M867 332h3M827 244h3M860 339h3M834 177h3M810 286h3M859 328h3M866 316h3M837 125h3M858 337h3M857 307h3M870 274h3M867 331h3M875 325h3M848 325h3M863 326h3M828 327h3M874 315h3M861 338h3M867 298h3M855 272h3M862 255h3M866 261h3M862 309h3M857 269h3M865 262h3M870 337h3M859 331h3M832 266h3M860 310h3M872 339h3M869 339h3M867 322h3M837 313h3M866 327h3M854 333h3M855 297h3M862 339h3M867 333h3M869 190h3M784 326h3M875 314h3M875 322h3M867 335h3M845 331h3M811 303h3M834 295h3M850 330h3M835 336h3M868 180h3M866 194h3M870 249h3M858 257h3M870 282h3M828 329h3M846 335h3M860 316h3M862 307h3M856 259h3M862 327h3M860 317h3M861 292h3M864 328h3M870 335h3M859 309h3M857 268h3M864 263h3M859 336h3M872 254h3M849 293h3M831 328h3M846 279h3M857 316h3M835 177h3M852 305h3M862 330h3M867 286h3M828 288h3M869 327h3M865 222h3M857 321h3M859 332h3M840 322h3M853 286h3M854 328h3M842 308h3M794 325h3M870 309h3M852 164h3M850 335h3M870 293h3M849 307h3M833 221h3M854 297h3M848 267h3M863 312h3M835 147h3M860 308h3M870 215h3M847 337h3M858 247h3M867 336h3M810 208h3M873 283h3M824 228h3M871 334h3M871 335h3M864 288h3M860 325h3M872 322h3M827 322h3M837 334h3M870 287h3M873 266h3M864 187h3M826 216h3M869 227h3M835 327h3M872 258h3M866 310h3M846 269h3M865 322h3M863 329h3M857 339h3M873 300h3M860 326h3M875 320h3M871 290h3M868 256h3M853 249h3M873 296h3M846 250h3M855 323h3M870 330h3M875 332h3M864 327h3M829 304h3M875 321h3M861 259h3M860 276h3M817 326h3M870 294h3M862 320h3M876 333h3M868 156h3M833 330h3M864 262h3M862 253h3M859 320h3M861 335h3M822 318h3M864 330h3M872 278h3M874 333h3M851 331h3M871 304h3M872 336h3M839 319h3M855 337h3M872 315h3M870 291h3M812 330h3M869 252h3M876 327h3M875 336h3M874 324h3M830 336h3M845 314h3M854 318h3M851 326h3M869 215h3M864 210h3M875 307h3M834 336h3M868 311h3M868 274h3M867 219h3M843 329h3M866 131h3M869 320h3M869 169h3M875 339h3M811 320h3M854 310h3M839 222h3M851 298h3M837 328h3M857 275h3M865 331h3M854 194h3M863 188h3M866 313h3M868 332h3M872 250h3M844 266h3M863 291h3M848 296h3M870 329h3M852 319h3M860 315h3M852 320h3M850 320h3M874 311h3M864 267h3M836 335h3M855 330h3M792 322h3M871 270h3M869 336h3M867 316h3M854 307h3M874 337h3M868 316h3M816 327h3M851 330h3M861 326h3M857 292h3M845 304h3M860 331h3M866 301h3M859 269h3M783 312h3M853 181h3M869 296h3M865 312h3M859 312h3M835 329h3M865 280h3M863 330h3M852 338h3M855 314h3M848 282h3M864 125h3M863 300h3M869 300h3M870 297h3M865 293h3M867 281h3M874 317h3M841 125h3M872 253h3M863 270h3M838 228h3M851 329h3M860 281h3M872 299h3M862 317h3M866 311h3M876 324h3M804 234h3M875 330h3M867 243h3M874 309h3M874 308h3M871 321h3M857 277h3M858 217h3M829 276h3M861 207h3M855 144h3M856 187h3M868 148h3M873 321h3M872 298h3M876 330h3M861 316h3M872 244h3M830 298h3M814 255h3M859 329h3M806 247h3M870 251h3M867 254h3M872 327h3M871 300h3M863 279h3M855 298h3M825 316h3M831 246h3M859 141h3M820 256h3M873 290h3M868 314h3M876 338h3M875 312h3M852 334h3M865 281h3M861 176h3M870 324h3M865 317h3M852 318h3M866 147h3M876 329h3M864 339h3M859 201h3M845 288h3M874 278h3M834 302h3M866 335h3M867 160h3M849 321h3M871 318h3M873 280h3M862 288h3M856 330h3M837 336h3M829 329h3M864 306h3M871 265h3M872 248h3M861 320h3M796 296h3M863 294h3M840 194h3M859 202h3M874 285h3M857 287h3M862 324h3M867 328h3M865 285h3M854 176h3M875 304h3M855 137h3M872 270h3M876 331h3M848 280h3M870 263h3M841 322h3M808 310h3M867 272h3M829 306h3M850 206h3M847 321h3M852 301h3M856 309h3M873 299h3M876 323h3M846 337h3M870 327h3M856 268h3M861 125h3M860 306h3M874 297h3M865 332h3M866 298h3M859 279h3M867 321h3M865 125h3M838 329h3M874 306h3M852 278h3M848 324h3M848 291h3M826 288h3M869 328h3M859 219h3M802 323h3M854 286h3M853 275h3M872 282h3M822 308h3M831 181h3M866 330h3M842 267h3M836 301h3M850 303h3M793 270h3M873 303h3M867 305h3M861 286h3M853 277h3M852 321h3M856 290h3M876 328h3M874 293h3M867 323h3M822 245h3M863 286h3M866 233h3M829 277h3M874 304h3M837 276h3M828 204h3M817 330h3M854 337h3M871 283h3M870 305h3M852 329h3M844 318h3M858 273h3M847 329h3M872 330h3M857 330h3M873 336h3M793 324h3M855 256h3M868 250h3M848 312h3M844 326h3M832 125h3M865 291h3M860 327h3M843 139h3M843 284h3M872 240h3M828 276h3M873 331h3M796 318h3M861 312h3M876 332h3M837 329h3M831 322h3M851 286h3M867 287h3M844 327h3M856 323h3M839 333h3M867 310h3M858 330h3M848 287h3M865 227h3M845 320h3M810 318h3M860 334h3M873 333h3M861 290h3M860 332h3M868 125h3M840 314h3M859 291h3M863 306h3M848 142h3M854 332h3M855 319h3M871 227h3M832 332h3M857 320h3M868 187h3M871 264h3M849 238h3M849 313h3M854 272h3M867 200h3M830 186h3M847 326h3M867 136h3M865 190h3M844 305h3M866 300h3M852 125h3M857 223h3M874 292h3M857 212h3M813 307h3M823 325h3M845 316h3M809 297h3M854 241h3M859 125h3M868 320h3M864 184h3M813 313h3M858 296h3M849 209h3M863 311h3M846 275h3M865 218h3M852 304h3M828 297h3M831 271h3M859 238h3M861 324h3M873 325h3M867 222h3M848 270h3M862 219h3M865 260h3M868 323h3M869 216h3M849 223h3M858 125h3M872 318h3M866 290h3M836 328h3M840 300h3M865 233h3M853 167h3M871 326h3M856 317h3M868 317h3M866 258h3M855 125h3M836 307h3M848 323h3M835 334h3M827 335h3M864 300h3M784 286h3M865 337h3M869 167h3M871 257h3M870 248h3M861 289h3M835 284h3M844 296h3M866 271h3M843 315h3M854 212h3M868 298h3M873 308h3M865 141h3M872 337h3M828 125h3M864 269h3M869 207h3M850 183h3M860 159h3M859 274h3M868 330h3M855 258h3M862 334h3M869 222h3M860 335h3M842 292h3M833 322h3M870 240h3M845 300h3M835 325h3M868 315h3M871 333h3M859 311h3M862 170h3M875 334h3M869 255h3M859 307h3M809 190h3M808 320h3M866 259h3M875 317h3M871 289h3M870 292h3M830 279h3M869 278h3M864 325h3M852 272h3M860 303h3M866 312h3M843 260h3M870 284h3M850 169h3M869 282h3M851 327h3M792 315h3M852 326h3M867 312h3M862 301h3M870 323h3M874 335h3M873 284h3M828 267h3M865 318h3M861 222h3M846 284h3M817 333h3M859 302h3M845 311h3M832 321h3M866 334h3M863 125h3M860 322h3M864 337h3M837 241h3M862 283h3M850 304h3M845 275h3M824 316h3M853 307h3M843 306h3M863 324h3M844 253h3M862 243h3M844 125h3M870 331h3M813 206h3M843 336h3M856 320h3M800 280h3M830 313h3M865 339h3M863 211h3M840 125h3M844 222h3M851 125h3M850 266h3M868 310h3M859 304h3M866 304h3M855 332h3M848 208h3M871 330h3M845 172h3M853 337h3M864 293h3M872 295h3M866 253h3M860 162h3M870 304h3M873 285h3M858 264h3M843 327h3M851 274h3M868 146h3M838 306h3M845 323h3M840 291h3M835 291h3M818 326h3M871 314h3M812 305h3M848 211h3M871 315h3M865 185h3M858 333h3M865 268h3M871 332h3M861 334h3M851 279h3M831 327h3M858 165h3M840 331h3M864 243h3M838 230h3M859 131h3M863 156h3M870 224h3M839 311h3M872 283h3M857 309h3M862 331h3M834 282h3M870 338h3M841 312h3M873 305h3M854 335h3M858 312h3M866 336h3M860 305h3M870 306h3M870 283h3M819 328h3M867 183h3M870 307h3M874 336h3M854 195h3M816 320h3M819 277h3M865 266h3M871 261h3M849 300h3M847 231h3M873 309h3M828 298h3M874 299h3M870 179h3M854 238h3M857 329h3M851 204h3M858 323h3M867 308h3M853 332h3M855 315h3M861 188h3M872 302h3M869 319h3M862 223h3M866 326h3M826 318h3M834 280h3M870 270h3M858 236h3M846 223h3M817 195h3M810 312h3M874 302h3M855 331h3M867 229h3M862 256h3M858 314h3M852 323h3M848 311h3M875 323h3M874 295h3M856 252h3M863 281h3M856 308h3M862 252h3M856 279h3M859 225h3M870 192h3M864 282h3M856 270h3M871 291h3M831 281h3M871 202h3M831 314h3M831 299h3M857 338h3M866 324h3M869 261h3M781 284h3M852 303h3M870 217h3M861 318h3M871 325h3M856 303h3M866 295h3M853 272h3M865 187h3M862 135h3M858 246h3M851 293h3M834 317h3M874 330h3M857 299h3M815 319h3M863 335h3M841 331h3M874 291h3M837 319h3M862 321h3M865 129h3M872 309h3M834 186h3M838 125h3M861 333h3M865 323h3M864 151h3M843 328h3M825 302h3M860 152h3M838 330h3M844 274h3M861 266h3M861 331h3M823 326h3M857 326h3M869 322h3M863 327h3M855 311h3M823 335h3M872 291h3M860 247h3M825 329h3M786 324h3M850 307h3M855 236h3M868 319h3M874 323h3M862 336h3M864 283h3M865 313h3M862 333h3M866 140h3M860 133h3M872 303h3M868 282h3M866 192h3M844 335h3M874 313h3M835 182h3M845 324h3M782 294h3M874 327h3M862 278h3M869 312h3M871 294h3M863 298h3M858 292h3M850 326h3M816 333h3M833 306h3M805 300h3M834 296h3M870 299h3M801 290h3M826 312h3M853 304h3M854 305h3M853 268h3M856 322h3M867 232h3M874 296h3M848 259h3M870 318h3M868 307h3M813 270h3M873 318h3M809 307h3M872 247h3M841 224h3M853 271h3M858 245h3M856 130h3M870 238h3M855 224h3M839 295h3M853 197h3M840 282h3M866 287h3M846 307h3M826 125h3M783 321h3M850 263h3M851 276h3M831 220h3M857 129h3M833 284h3M855 334h3M863 332h3M817 309h3M824 329h3M859 209h3M848 331h3M831 316h3M858 322h3M872 287h3M872 316h3M872 228h3M829 323h3M855 248h3M866 133h3M795 262h3M861 258h3M818 203h3M872 297h3M867 149h3M867 296h3M857 333h3M858 129h3M856 243h3M867 284h3M852 285h3M875 295h3M860 249h3M806 332h3M861 252h3M872 256h3M870 320h3M866 263h3M869 269h3M834 319h3M870 257h3M842 215h3M865 179h3M867 267h3M832 317h3M871 327h3M858 338h3M856 325h3M866 307h3M821 157h3M866 333h3M830 280h3M873 335h3M854 227h3M874 286h3M859 337h3M868 329h3M826 324h3M830 314h3M873 282h3M818 313h3M871 311h3M874 284h3M855 308h3M840 326h3M840 292h3M831 332h3M833 130h3M862 325h3M874 307h3M868 275h3M822 247h3M867 315h3M858 295h3M843 286h3M872 234h3M874 289h3M873 273h3M872 329h3M873 319h3M839 332h3M871 277h3M864 329h3M865 257h3M863 288h3M871 216h3M846 303h3M805 322h3M840 325h3M870 281h3M855 285h3M870 336h3M869 311h3M838 337h3M867 147h3M858 332h3M845 307h3M845 310h3M871 324h3M833 308h3M841 330h3M859 326h3M832 276h3M859 298h3M827 330h3M870 173h3M859 338h3M851 297h3M858 286h3M803 323h3M849 285h3M872 246h3M809 286h3" stroke="#72ca52" stroke-width="3.00" transform="scale(0.5)"/>
<path d="M896 330h3M904 210h3M927 281h3M890 293h3M892 326h3M906 283h3M890 292h3M901 128h3M902 200h3M888 290h3M906 325h3M907 313h3M892 338h3M886 332h3M898 320h3M889 283h3M894 306h3M909 323h3M912 302h3M893 236h3M940 327h3M901 291h3M899 313h3M904 308h3M909 266h3M899 328h3M889 310h3M889 301h3M907 212h3M912 235h3M916 307h3M888 315h3M908 217h3M910 299h3M892 299h3M901 338h3M900 305h3M887 321h3M894 300h3M892 280h3M894 154h3M890 319h3M892 324h3M897 310h3M907 318h3M895 325h3M921 233h3M891 328h3M900 339h3M887 330h3M902 214h3M897 273h3M938 334h3M887 317h3M891 287h3M891 283h3M890 327h3M904 337h3M893 335h3M909 125h3M913 246h3M904 125h3M890 309h3M890 300h3M898 149h3M895 335h3M891 248h3M907 333h3M907 335h3M910 235h3M898 277h3M895 125h3M910 283h3M893 318h3M914 322h3M909 330h3M901 202h3M907 233h3M890 335h3M888 283h3M906 269h3M896 338h3M915 260h3M888 331h3M927 322h3M900 327h3M889 337h3M902 310h3M888 303h3M919 336h3M897 314h3M892 304h3M898 336h3M899 316h3M897 328h3M907 298h3M908 290h3M902 163h3M891 246h3M908 277h3M912 330h3M901 327h3M888 277h3M898 182h3M895 284h3M908 306h3M891 302h3M895 337h3M911 311h3M900 334h3M894 311h3M908 317h3M891 242h3M903 259h3M895 294h3M917 310h3M886 333h3M905 319h3M909 255h3M891 325h3M895 277h3M905 331h3M906 332h3M891 339h3M892 327h3M894 282h3M893 321h3M891 288h3M906 304h3M899 322h3M908 337h3M888 286h3M893 300h3M895 302h3M896 302h3M895 282h3M896 275h3M890 338h3M886 328h3M896 133h3M916 338h3M887 318h3M894 178h3M918 294h3M925 311h3M902 314h3M897 323h3M891 313h3M890 305h3M895 334h3M897 337h3M893 173h3M899 339h3M923 322h3M897 293h3M892 217h3M891 268h3M918 321h3M889 303h3M921 325h3M894 292h3M909 317h3M898 265h3M925 125h3M917 331h3M919 196h3M895 171h3M900 294h3M990 300h3M893 158h3M896 173h3M896 293h3M888 338h3M897 319h3M887 329h3M890 243h3M891 321h3M892 332h3M888 311h3M910 180h3M891 338h3M889 317h3M904 234h3M929 295h3M896 292h3M902 332h3M896 327h3M894 313h3M888 330h3M901 125h3M893 339h3M888 309h3M891 304h3M888 321h3M888 304h3M903 325h3M907 125h3M911 281h3M889 316h3M899 305h3M903 322h3M900 138h3M950 295h3M895 289h3M915 328h3M889 298h3M916 334h3M898 323h3M893 298h3M900 290h3M911 237h3M893 268h3M942 318h3M904 230h3M894 236h3M891 300h3M899 323h3M890 325h3M897 305h3M907 327h3M895 333h3M888 285h3M892 334h3M899 125h3M903 213h3M953 274h3M904 202h3M904 318h3M916 327h3M902 300h3M898 312h3M899 175h3M889 327h3M890 339h3M900 318h3M930 265h3M895 193h3M908 244h3M898 302h3M895 256h3M906 297h3M895 205h3M900 130h3M888 301h3M896 298h3M887 313h3M886 329h3M902 180h3M905 338h3M917 324h3M896 339h3M901 329h3M896 278h3M915 265h3M913 306h3M931 125h3M892 313h3M897 248h3M891 303h3M891 259h3M902 329h3M902 321h3M891 230h3M945 305h3M906 125h3M913 295h3M901 323h3M896 325h3M898 283h3M898 332h3M920 299h3M903 125h3M909 311h3M892 322h3M904 246h3M887 315h3M889 335h3M893 262h3M889 331h3M950 261h3M887 303h3M896 337h3M892 308h3M902 304h3M897 315h3M898 184h3M898 294h3M894 239h3M908 239h3M894 330h3M898 211h3M888 298h3M891 335h3M928 332h3M888 275h3M915 325h3M908 293h3M895 222h3M901 331h3M922 242h3M896 333h3M900 320h3M893 269h3M937 266h3M890 306h3M899 263h3M924 325h3M896 182h3M897 136h3M921 125h3M888 294h3M899 325h3M907 129h3M889 306h3M898 289h3M917 325h3M907 312h3M905 335h3M902 287h3M888 320h3M895 305h3M898 295h3M903 283h3M891 273h3M892 243h3M894 207h3M937 333h3M891 299h3M892 315h3M910 304h3M903 333h3M896 285h3M902 336h3M889 286h3M897 302h3M902 335h3M888 313h3M902 293h3M907 163h3M934 334h3M902 328h3M895 300h3M899 330h3M891 306h3M985 327h3M902 151h3M900 315h3M951 315h3M911 302h3M903 278h3M906 288h3M903 223h3M906 215h3M896 331h3M895 233h3M916 216h3M892 329h3M891 285h3M902 238h3M894 286h3M912 277h3M887 335h3M895 145h3M890 277h3M900 174h3M939 304h3M937 239h3M898 125h3M899 194h3M899 338h3M893 282h3M932 331h3M903 288h3M932 332h3M892 316h3M900 278h3M924 187h3M887 306h3M917 265h3M887 339h3M890 278h3M906 247h3M889 272h3M947 311h3M913 337h3M898 329h3M911 319h3M914 153h3M889 320h3M900 319h3M894 125h3M901 318h3M894 309h3M888 314h3M894 277h3M914 336h3M925 286h3M891 332h3M906 285h3M935 290h3M891 326h3M897 268h3M888 325h3M889 296h3M888 335h3M890 302h3M894 265h3M890 294h3M887 332h3M900 308h3M890 258h3M915 301h3M897 332h3M905 299h3M905 290h3M893 307h3M889 338h3M889 324h3M919 278h3M903 290h3M888 323h3M935 284h3M939 234h3M897 330h3M891 317h3M941 335h3M889 326h3M887 324h3M908 303h3M908 299h3M906 321h3M921 294h3M903 317h3M911 335h3M907 317h3M887 338h3M895 271h3M916 325h3M937 336h3M935 331h3M908 235h3M914 299h3M889 275h3M893 330h3M890 322h3M894 261h3M901 260h3M899 152h3M915 322h3M892 303h3M899 237h3M913 250h3M905 296h3M895 315h3M904 313h3M913 338h3M889 322h3M892 232h3M955 321h3M898 310h3M920 270h3M918 322h3M896 260h3M890 290h3M925 306h3M887 312h3M900 265h3M892 289h3M898 313h3M888 324h3M900 333h3M899 324h3M899 299h3M918 324h3M900 249h3M911 270h3M889 336h3M895 293h3M895 332h3M927 319h3M894 337h3M908 307h3M902 319h3M913 322h3M904 298h3M910 296h3M906 315h3M901 228h3M889 312h3M898 331h3M889 333h3M888 319h3M890 337h3M932 303h3M919 302h3M891 319h3M941 324h3M920 331h3M906 334h3M889 264h3M893 334h3M893 303h3M896 228h3M898 334h3M896 256h3M887 328h3M903 330h3M891 294h3M934 319h3M895 180h3M889 273h3M892 276h3M892 331h3M910 317h3M889 329h3M892 246h3M915 268h3M888 332h3M957 306h3M894 324h3M896 324h3M897 130h3M912 324h3M906 229h3M904 335h3M897 335h3M888 318h3M903 335h3M891 279h3M909 319h3M893 328h3M894 288h3M901 283h3M888 299h3M893 292h3M913 310h3M890 314h3M892 305h3M913 325h3M905 328h3M899 285h3M895 276h3M906 312h3M911 337h3M901 326h3M891 258h3M894 276h3M888 288h3M891 276h3M920 290h3M891 206h3M915 299h3M902 334h3M908 163h3M890 312h3M910 194h3M893 288h3M917 316h3M904 330h3M930 332h3M896 308h3M934 333h3M911 232h3M921 240h3M910 294h3M894 310h3M906 242h3M892 286h3M902 255h3M897 280h3M888 337h3M897 324h3M908 259h3M899 181h3M928 335h3M890 246h3M898 309h3M895 323h3M899 320h3M898 333h3M921 318h3M887 322h3M887 331h3M888 328h3M899 331h3M898 196h3M895 150h3M899 228h3M901 320h3M893 322h3M905 291h3M889 313h3M896 125h3M893 172h3M895 128h3M905 211h3M897 336h3M888 322h3M896 312h3M904 316h3M908 311h3M893 285h3M920 215h3M913 215h3M906 317h3M909 177h3M903 321h3M906 279h3M902 297h3M893 311h3M938 295h3M917 336h3M914 259h3M894 317h3M904 294h3M913 266h3M919 320h3M898 208h3M894 250h3M891 297h3M897 223h3M895 328h3M890 313h3M931 319h3M944 322h3M890 242h3M890 265h3M892 325h3M892 309h3M896 294h3M887 308h3M888 308h3M906 141h3M903 291h3M908 318h3M925 320h3M897 321h3M921 303h3M891 316h3M892 239h3M919 220h3M891 307h3M896 162h3M904 333h3M902 295h3M914 337h3M900 134h3M923 302h3M905 312h3M898 201h3M920 334h3M913 305h3M923 332h3M898 280h3M920 255h3M920 259h3M899 297h3M893 338h3M890 238h3M888 336h3M890 310h3M913 317h3M904 295h3M894 222h3M888 327h3M900 313h3M889 262h3M893 196h3M918 319h3M902 230h3M895 318h3M908 308h3M894 204h3M897 289h3M903 328h3M893 302h3M888 333h3M903 339h3M903 312h3M907 293h3M899 270h3M894 259h3M896 313h3M894 298h3M898 290h3M911 327h3M894 258h3M891 278h3M941 292h3M896 315h3M905 294h3M899 274h3M889 305h3M897 308h3M900 322h3M925 294h3M899 336h3M897 262h3M891 337h3M892 271h3M889 278h3M892 270h3M887 323h3M913 270h3M889 328h3M895 246h3M915 336h3M897 311h3M891 266h3M900 311h3M891 282h3M907 316h3M900 209h3M893 308h3M888 317h3M892 251h3M933 278h3M906 336h3M893 337h3M896 207h3M901 295h3M909 192h3M914 317h3M905 325h3M916 336h3M897 125h3M903 303h3M889 321h3M893 296h3M899 243h3M889 295h3M944 328h3M899 333h3M897 296h3M892 197h3M902 292h3M904 320h3M908 297h3M897 257h3M901 257h3M918 328h3M899 287h3M907 329h3M922 325h3M915 338h3M891 318h3M898 254h3M910 279h3M897 174h3M904 326h3M895 303h3M906 257h3M904 291h3M906 249h3M897 157h3M899 332h3M893 281h3M911 125h3M894 320h3M904 271h3M917 311h3M892 335h3M899 257h3M889 249h3M901 333h3M887 319h3M886 324h3M897 235h3M917 313h3M891 267h3M920 313h3M888 312h3M887 316h3M903 272h3M890 324h3M889 258h3M896 303h3M921 332h3M895 329h3M935 230h3M906 323h3M901 190h3M897 326h3M925 327h3M908 274h3M923 328h3M900 244h3M900 314h3M908 294h3M898 285h3M892 300h3M913 262h3M894 322h3M904 325h3M901 317h3M899 309h3M910 315h3M888 305h3M911 225h3M895 280h3M894 270h3M899 296h3M890 283h3M901 297h3M905 322h3M899 327h3M903 273h3M916 273h3M915 279h3M897 172h3M896 329h3M912 336h3M895 308h3M910 274h3M924 279h3M902 205h3M905 317h3M892 317h3M901 308h3M898 325h3M908 295h3M903 280h3M912 192h3M915 252h3M888 287h3M888 292h3M897 303h3M890 271h3M916 263h3M903 320h3M900 297h3M887 334h3M894 291h3M890 254h3M917 270h3M893 320h3M888 300h3M898 338h3M902 330h3M886 338h3M909 333h3M897 227h3M912 285h3M897 159h3M900 328h3M941 313h3M898 172h3M891 331h3M900 323h3M895 238h3M894 308h3M915 293h3M910 275h3M908 313h3M893 289h3M893 283h3M915 315h3M909 322h3M927 125h3M899 301h3M891 298h3M906 313h3M932 323h3M896 323h3M893 315h3M893 267h3M905 285h3M892 188h3M887 320h3M896 328h3M906 241h3M936 292h3M905 333h3M908 302h3M905 295h3M931 325h3M898 237h3M904 319h3M890 279h3M891 322h3M888 281h3M919 296h3M924 211h3M906 196h3M900 238h3M904 299h3M910 301h3M888 276h3M944 320h3M887 333h3M899 273h3M895 311h3M897 286h3M895 295h3M899 247h3M897 214h3M902 206h3M915 333h3M888 339h3M895 338h3M904 284h3M891 333h3M903 316h3M888 334h3M892 250h3M890 332h3M893 291h3M916 311h3M893 325h3M923 296h3M891 239h3M932 274h3M894 326h3M895 250h3M894 315h3M912 229h3M930 333h3M898 322h3M938 307h3M900 125h3M901 199h3M887 337h3M894 240h3M893 270h3M890 299h3M889 277h3M902 222h3M904 336h3M916 315h3M912 338h3M911 316h3M902 125h3M890 334h3M915 323h3M901 330h3M915 332h3M892 297h3M898 304h3M901 292h3M911 326h3M911 322h3M891 327h3M889 281h3M895 231h3M938 335h3M898 315h3M899 307h3M896 304h3M900 263h3M904 296h3M900 172h3M886 339h3M886 337h3M921 286h3M933 293h3M896 291h3M918 311h3M914 260h3M935 276h3M907 296h3M892 202h3M918 318h3M904 331h3M914 328h3M899 219h3M902 261h3M911 298h3M892 307h3M898 324h3M924 323h3M893 327h3M905 336h3M962 290h3M932 318h3M892 180h3M917 210h3M894 195h3M890 281h3M898 288h3M890 295h3M893 293h3M905 332h3M909 335h3M899 218h3M893 297h3M887 309h3M909 281h3M933 250h3M904 153h3M899 174h3M893 258h3M934 268h3M894 293h3M897 162h3M896 335h3M917 208h3M910 268h3M890 303h3M906 231h3M889 291h3M902 243h3M907 326h3M900 303h3M931 287h3M929 336h3M910 332h3M892 191h3M889 315h3M949 331h3M906 281h3M893 279h3M892 301h3M897 282h3M903 331h3M896 274h3M895 210h3M923 305h3M917 281h3M908 325h3M894 295h3M893 319h3M942 321h3M943 199h3M912 318h3M919 274h3M902 320h3M913 271h3M889 302h3M888 329h3M898 188h3M902 154h3M910 326h3M888 289h3M913 165h3M979 263h3M890 297h3M924 332h3M894 307h3M893 333h3M890 336h3M899 300h3M889 265h3M898 241h3M927 275h3M905 320h3M912 279h3M921 277h3M913 326h3M889 256h3M892 284h3M908 164h3M896 287h3M905 125h3M908 321h3M920 324h3M904 211h3M922 314h3M894 271h3M890 291h3M899 162h3M894 339h3M902 232h3M890 317h3M897 245h3M906 300h3M921 307h3M911 304h3M893 273h3M891 226h3M888 307h3M908 320h3M896 238h3M926 282h3M893 276h3M907 275h3M890 328h3M901 282h3M891 241h3M897 322h3M893 229h3M892 337h3M924 336h3M889 334h3M930 335h3M913 315h3M895 245h3M890 315h3M911 185h3M907 310h3M983 315h3M903 327h3M893 210h3M898 165h3M893 309h3M945 303h3M896 300h3M915 335h3M903 173h3M901 276h3M894 237h3M943 295h3M965 289h3M890 267h3M889 308h3M904 266h3M904 217h3M907 309h3M901 279h3M895 314h3M894 274h3M908 253h3M940 304h3M910 314h3M890 318h3M895 326h3M895 316h3M894 331h3M916 289h3M891 235h3M915 309h3M897 313h3M907 303h3M890 272h3M920 319h3M906 235h3M917 180h3M889 287h3M888 302h3M904 327h3M907 177h3M886 334h3M893 316h3M913 293h3M895 156h3M901 303h3M897 307h3M894 318h3M906 320h3M893 313h3M910 320h3M911 332h3M895 319h3M891 275h3M903 254h3M888 326h3M889 323h3M930 316h3M923 273h3M899 222h3M911 147h3M926 336h3M888 273h3M897 339h3M897 301h3M891 237h3M896 262h3M897 290h3M908 329h3M921 320h3M899 207h3M905 308h3M912 304h3M903 284h3M915 229h3M900 337h3M914 332h3M897 201h3M914 329h3M911 195h3M901 307h3M914 330h3M905 273h3M948 237h3M906 275h3M909 200h3M969 320h3M898 146h3M923 331h3M910 173h3M893 326h3M914 277h3M916 297h3M891 334h3M890 308h3M921 326h3M908 305h3M912 161h3M900 262h3M894 278h3M893 176h3M898 203h3M908 221h3M914 301h3M890 326h3M910 231h3M890 307h3M913 304h3M908 125h3M910 327h3M894 254h3M887 325h3M899 145h3M910 217h3M895 208h3M894 336h3M915 232h3M894 157h3M903 269h3M891 233h3M894 247h3M911 334h3M898 189h3M894 290h3M903 323h3M920 325h3M917 231h3M906 291h3M894 248h3M917 337h3M895 288h3M901 198h3M906 335h3M903 292h3M896 310h3M903 244h3M903 224h3M914 296h3M893 332h3M957 224h3M921 289h3M899 217h3M893 232h3M946 333h3M908 312h3M899 259h3M895 307h3M893 275h3M908 322h3M889 319h3M902 327h3M913 332h3M898 299h3M903 286h3M905 311h3M897 338h3M905 324h3M895 312h3M895 198h3M915 290h3M904 321h3M887 307h3M896 314h3M887 314h3M895 265h3M889 261h3M900 299h3M896 214h3M964 308h3M904 312h3M903 266h3M934 323h3M901 273h3M920 333h3M893 245h3M897 259h3M922 322h3M890 304h3M943 322h3M901 289h3M900 325h3M898 275h3M923 325h3M947 309h3M896 332h3M925 332h3M921 305h3M909 258h3M890 329h3M911 264h3M912 289h3M925 337h3M895 310h3M912 314h3M889 311h3M893 312h3M905 210h3M897 238h3M953 298h3M905 204h3M917 276h3M898 321h3M902 263h3M918 281h3M898 264h3M915 331h3M910 324h3M902 280h3M891 310h3M900 335h3M897 240h3M903 268h3M910 289h3M897 334h3M928 325h3M926 311h3M897 142h3M896 336h3M911 273h3M898 301h3M907 235h3M925 317h3M897 294h3M890 321h3M898 306h3M891 263h3M914 309h3M909 314h3M899 306h3M914 315h3M902 313h3M892 328h3M918 330h3M898 326h3M914 314h3M923 308h3M902 212h3M906 319h3M915 272h3M900 285h3M932 296h3M899 135h3M900 241h3M920 309h3M889 270h3M894 338h3M899 335h3M930 334h3M904 304h3M890 298h3M916 286h3M897 209h3M959 297h3M907 180h3M897 246h3M916 317h3M904 328h3M899 318h3M896 126h3M894 319h3M887 336h3M923 295h3M922 236h3M891 315h3M891 289h3M890 320h3M896 305h3M920 289h3M913 303h3M935 319h3M898 314h3M891 336h3M909 299h3M925 290h3M894 321h3M916 329h3M939 305h3M891 270h3M941 296h3M901 309h3M911 331h3M899 293h3M892 296h3M897 333h3M890 316h3M887 327h3M907 324h3M892 194h3M912 312h3M920 316h3M907 338h3M910 245h3M923 165h3M952 315h3M924 296h3M918 206h3M911 289h3M896 153h3M910 256h3M909 223h3M908 328h3M921 264h3M905 327h3M893 310h3M911 313h3M927 298h3M933 296h3M892 310h3M898 328h3M926 125h3M890 248h3M903 229h3M956 300h3M894 335h3M914 306h3M908 310h3M914 320h3M909 264h3M892 253h3M915 278h3M891 269h3M890 333h3M894 332h3M925 322h3M911 330h3M916 331h3M903 315h3M893 286h3M933 328h3M897 188h3M900 191h3M906 140h3M892 295h3M895 296h3M911 227h3M907 262h3M891 296h3M899 304h3M889 268h3M930 313h3M902 325h3M918 337h3M919 327h3M888 291h3M898 317h3M892 279h3M909 196h3M896 199h3M891 281h3M898 300h3M907 311h3M893 247h3M898 274h3M902 337h3M892 288h3M891 254h3M903 152h3M902 317h3M888 297h3M928 295h3M916 308h3M926 259h3M893 222h3M889 339h3M903 336h3M901 319h3M908 230h3M922 291h3M893 284h3M923 264h3M912 238h3M897 295h3M909 313h3M914 312h3M935 326h3M903 293h3M909 337h3M912 287h3M891 329h3M932 317h3M894 230h3M910 335h3M903 338h3M903 319h3M916 303h3M902 284h3M886 335h3M909 310h3M895 183h3M916 305h3M896 318h3M893 306h3M892 306h3M938 300h3M894 316h3M903 186h3M902 276h3M892 318h3M937 306h3M893 336h3M902 324h3M934 206h3M889 293h3M910 298h3M898 337h3M902 271h3M895 309h3M894 224h3M908 200h3M914 331h3M902 294h3" stroke="#e2185a" stroke-width="3.00" transform="scale(0.5)"/>
<line x1="385.0" y1="60.5" x2="385.0" y2="188.0" stroke="#333" stroke-width="1.1" />
<line x1="384.5" y1="187.5" x2="497.8" y2="187.5" stroke="#333" stroke-width="1.1" />
<text x="385.1" y="63.9" font-size="7.0" text-anchor="end" fill="#1a1a1a" stroke="#1a1a1a" stroke-width="0.12" font-weight="normal" letter-spacing="-0.3">300</text>
<text x="385.1" y="81.8" font-size="7.0" text-anchor="end" fill="#1a1a1a" stroke="#1a1a1a" stroke-width="0.12" font-weight="normal" letter-spacing="-0.3">250</text>
<text x="385.1" y="99.6" font-size="7.0" text-anchor="end" fill="#1a1a1a" stroke="#1a1a1a" stroke-width="0.12" font-weight="normal" letter-spacing="-0.3">200</text>
<text x="385.1" y="117.5" font-size="7.0" text-anchor="end" fill="#1a1a1a" stroke="#1a1a1a" stroke-width="0.12" font-weight="normal" letter-spacing="-0.3">150</text>
<text x="385.1" y="135.4" font-size="7.0" text-anchor="end" fill="#1a1a1a" stroke="#1a1a1a" stroke-width="0.12" font-weight="normal" letter-spacing="-0.3">100</text>
<text x="385.1" y="153.2" font-size="7.0" text-anchor="end" fill="#1a1a1a" stroke="#1a1a1a" stroke-width="0.12" font-weight="normal" letter-spacing="-0.3">50</text>
<text x="385.1" y="171.1" font-size="7.0" text-anchor="end" fill="#1a1a1a" stroke="#1a1a1a" stroke-width="0.12" font-weight="normal" letter-spacing="-0.3">0</text>
<text x="385.1" y="189.0" font-size="7.0" text-anchor="end" fill="#1a1a1a" stroke="#1a1a1a" stroke-width="0.12" font-weight="normal" letter-spacing="-0.3">-50</text>
<line x1="385.1" y1="187.5" x2="385.1" y2="189.3" stroke="#222" stroke-width="0.8" />
<text x="385.9" y="196.0" font-size="7.2" text-anchor="middle" fill="#1a1a1a" stroke="#1a1a1a" stroke-width="0.12" font-weight="normal" letter-spacing="-0.35">-12</text>
<line x1="394.5" y1="187.5" x2="394.5" y2="189.3" stroke="#222" stroke-width="0.8" />
<text x="395.3" y="196.0" font-size="7.2" text-anchor="middle" fill="#1a1a1a" stroke="#1a1a1a" stroke-width="0.12" font-weight="normal" letter-spacing="-0.35">-10</text>
<line x1="403.9" y1="187.5" x2="403.9" y2="189.3" stroke="#222" stroke-width="0.8" />
<text x="404.7" y="196.0" font-size="7.2" text-anchor="middle" fill="#1a1a1a" stroke="#1a1a1a" stroke-width="0.12" font-weight="normal" letter-spacing="-0.35">-8</text>
<line x1="413.2" y1="187.5" x2="413.2" y2="189.3" stroke="#222" stroke-width="0.8" />
<text x="414.0" y="196.0" font-size="7.2" text-anchor="middle" fill="#1a1a1a" stroke="#1a1a1a" stroke-width="0.12" font-weight="normal" letter-spacing="-0.35">-6</text>
<line x1="422.6" y1="187.5" x2="422.6" y2="189.3" stroke="#222" stroke-width="0.8" />
<text x="423.4" y="196.0" font-size="7.2" text-anchor="middle" fill="#1a1a1a" stroke="#1a1a1a" stroke-width="0.12" font-weight="normal" letter-spacing="-0.35">-4</text>
<line x1="431.9" y1="187.5" x2="431.9" y2="189.3" stroke="#222" stroke-width="0.8" />
<text x="432.7" y="196.0" font-size="7.2" text-anchor="middle" fill="#1a1a1a" stroke="#1a1a1a" stroke-width="0.12" font-weight="normal" letter-spacing="-0.35">-2</text>
<line x1="441.3" y1="187.5" x2="441.3" y2="189.3" stroke="#222" stroke-width="0.8" />
<text x="441.3" y="196.0" font-size="7.2" text-anchor="middle" fill="#1a1a1a" stroke="#1a1a1a" stroke-width="0.12" font-weight="normal" letter-spacing="-0.35">0</text>
<line x1="450.7" y1="187.5" x2="450.7" y2="189.3" stroke="#222" stroke-width="0.8" />
<text x="450.7" y="196.0" font-size="7.2" text-anchor="middle" fill="#1a1a1a" stroke="#1a1a1a" stroke-width="0.12" font-weight="normal" letter-spacing="-0.35">2</text>
<line x1="460.0" y1="187.5" x2="460.0" y2="189.3" stroke="#222" stroke-width="0.8" />
<text x="460.0" y="196.0" font-size="7.2" text-anchor="middle" fill="#1a1a1a" stroke="#1a1a1a" stroke-width="0.12" font-weight="normal" letter-spacing="-0.35">4</text>
<line x1="469.4" y1="187.5" x2="469.4" y2="189.3" stroke="#222" stroke-width="0.8" />
<text x="469.4" y="196.0" font-size="7.2" text-anchor="middle" fill="#1a1a1a" stroke="#1a1a1a" stroke-width="0.12" font-weight="normal" letter-spacing="-0.35">6</text>
<line x1="478.7" y1="187.5" x2="478.7" y2="189.3" stroke="#222" stroke-width="0.8" />
<text x="478.7" y="196.0" font-size="7.2" text-anchor="middle" fill="#1a1a1a" stroke="#1a1a1a" stroke-width="0.12" font-weight="normal" letter-spacing="-0.35">8</text>
<line x1="488.1" y1="187.5" x2="488.1" y2="189.3" stroke="#222" stroke-width="0.8" />
<text x="488.1" y="196.0" font-size="7.2" text-anchor="middle" fill="#1a1a1a" stroke="#1a1a1a" stroke-width="0.12" font-weight="normal" letter-spacing="-0.35">10</text>
<line x1="497.5" y1="187.5" x2="497.5" y2="189.3" stroke="#222" stroke-width="0.8" />
<text x="497.5" y="196.0" font-size="7.2" text-anchor="middle" fill="#1a1a1a" stroke="#1a1a1a" stroke-width="0.12" font-weight="normal" letter-spacing="-0.35">12</text>
<text x="446.4" y="208.3" font-size="9.2" text-anchor="middle" fill="#1a1a1a" stroke="#1a1a1a" stroke-width="0.12" font-weight="normal" >log2 Fold Change</text>
<text x="0" y="0" font-size="9.2" text-anchor="middle" fill="#1a1a1a" stroke="#1a1a1a" stroke-width="0.12" transform="translate(372.3,120.0) rotate(-90)">-log10(Qvalue)</text>
<rect x="492.90" y="60.70" width="3.00" height="3.00" fill="#e2185a" />
<text x="497.9" y="64.0" font-size="9.0" text-anchor="start" fill="#1a1a1a" stroke="#1a1a1a" stroke-width="0.12" font-weight="normal" >Up</text>
<rect x="492.90" y="69.15" width="3.00" height="3.00" fill="#9db0c8" />
<text x="497.9" y="72.5" font-size="9.0" text-anchor="start" fill="#1a1a1a" stroke="#1a1a1a" stroke-width="0.12" font-weight="normal" >no-DEGS</text>
<rect x="492.90" y="77.60" width="3.00" height="3.00" fill="#72ca52" />
<text x="497.9" y="80.9" font-size="9.0" text-anchor="start" fill="#1a1a1a" stroke="#1a1a1a" stroke-width="0.12" font-weight="normal" >Down</text>
<text x="158.5" y="257.6" font-size="9" text-anchor="middle" fill="#1a1a1a" stroke="#1a1a1a" stroke-width="0.12" font-weight="normal" >KEGG Pathway</text>
<text x="150.0" y="272.9" font-size="9" text-anchor="middle" fill="#1a1a1a" stroke="#1a1a1a" stroke-width="0.12" font-weight="normal" >470-480nm+OA+Opn3 KO vs 470-480nm+OA</text>
<text x="176.9" y="299.2" font-size="9.0" text-anchor="end" fill="#1a1a1a" stroke="#1a1a1a" stroke-width="0.12" font-weight="normal" >Chemical carcinogenesis - DNA adducts</text>
<line x1="177.5" y1="296.7" x2="181.5" y2="296.7" stroke="#444" stroke-width="0.7" />
<circle cx="226.7" cy="296.7" r="3.60" fill="#ff0000"/>
<text x="176.9" y="308.3" font-size="9.0" text-anchor="end" fill="#1a1a1a" stroke="#1a1a1a" stroke-width="0.12" font-weight="normal" >Drug metabolism - cytochrome P450</text>
<line x1="177.5" y1="305.8" x2="181.5" y2="305.8" stroke="#444" stroke-width="0.7" />
<circle cx="226.7" cy="305.8" r="3.40" fill="#ff0000"/>
<text x="176.9" y="317.4" font-size="9.0" text-anchor="end" fill="#1a1a1a" stroke="#1a1a1a" stroke-width="0.12" font-weight="normal" >Complement and coagulation cascades</text>
<line x1="177.5" y1="314.9" x2="181.5" y2="314.9" stroke="#444" stroke-width="0.7" />
<circle cx="222.7" cy="314.9" r="3.60" fill="#ff0000"/>
<text x="176.9" y="326.5" font-size="9.0" text-anchor="end" fill="#1a1a1a" stroke="#1a1a1a" stroke-width="0.12" font-weight="normal" >Metabolism of xenobiotics by cytochrome </text>
<line x1="177.5" y1="324.0" x2="181.5" y2="324.0" stroke="#444" stroke-width="0.7" />
<circle cx="224.1" cy="324.0" r="3.20" fill="#ff0000"/>
<text x="176.9" y="335.6" font-size="9.0" text-anchor="end" fill="#1a1a1a" stroke="#1a1a1a" stroke-width="0.12" font-weight="normal" >Ribosome biogenesis in eukaryotes</text>
<line x1="177.5" y1="333.1" x2="181.5" y2="333.1" stroke="#444" stroke-width="0.7" />
<circle cx="222.7" cy="333.1" r="3.30" fill="#ff0000"/>
<text x="176.9" y="344.7" font-size="9.0" text-anchor="end" fill="#1a1a1a" stroke="#1a1a1a" stroke-width="0.12" font-weight="normal" >Pentose and glucuronate interconversions</text>
<line x1="177.5" y1="342.2" x2="181.5" y2="342.2" stroke="#444" stroke-width="0.7" />
<circle cx="235.9" cy="342.2" r="2.80" fill="#ff0000"/>
<text x="176.9" y="353.8" font-size="9.0" text-anchor="end" fill="#1a1a1a" stroke="#1a1a1a" stroke-width="0.12" font-weight="normal" >Chemical carcinogenesis - receptor</text>
<line x1="177.5" y1="351.3" x2="181.5" y2="351.3" stroke="#444" stroke-width="0.7" />
<circle cx="212.2" cy="351.3" r="4.70" fill="#ff0000"/>
<text x="176.9" y="362.9" font-size="9.0" text-anchor="end" fill="#1a1a1a" stroke="#1a1a1a" stroke-width="0.12" font-weight="normal" >Fluid shear stress and atherosclerosis</text>
<line x1="177.5" y1="360.4" x2="181.5" y2="360.4" stroke="#444" stroke-width="0.7" />
<circle cx="214.8" cy="360.4" r="4.00" fill="#ff0000"/>
<text x="176.9" y="372.0" font-size="9.0" text-anchor="end" fill="#1a1a1a" stroke="#1a1a1a" stroke-width="0.12" font-weight="normal" >MicroRNAs in cancer</text>
<line x1="177.5" y1="369.5" x2="181.5" y2="369.5" stroke="#444" stroke-width="0.7" />
<circle cx="213.1" cy="369.5" r="4.20" fill="#ff0000"/>
<text x="176.9" y="381.1" font-size="9.0" text-anchor="end" fill="#1a1a1a" stroke="#1a1a1a" stroke-width="0.12" font-weight="normal" >Retinol metabolism</text>
<line x1="177.5" y1="378.6" x2="181.5" y2="378.6" stroke="#444" stroke-width="0.7" />
<circle cx="217.6" cy="378.6" r="3.30" fill="#ff0000"/>
<text x="176.9" y="390.2" font-size="9.0" text-anchor="end" fill="#1a1a1a" stroke="#1a1a1a" stroke-width="0.12" font-weight="normal" >Cellular senescence</text>
<line x1="177.5" y1="387.7" x2="181.5" y2="387.7" stroke="#444" stroke-width="0.7" />
<circle cx="211.8" cy="387.7" r="3.90" fill="#ff0000"/>
<text x="176.9" y="399.3" font-size="9.0" text-anchor="end" fill="#1a1a1a" stroke="#1a1a1a" stroke-width="0.12" font-weight="normal" >Glutathione metabolism</text>
<line x1="177.5" y1="396.8" x2="181.5" y2="396.8" stroke="#444" stroke-width="0.7" />
<circle cx="218.9" cy="396.8" r="3.00" fill="#d8102e"/>
<text x="176.9" y="408.4" font-size="9.0" text-anchor="end" fill="#1a1a1a" stroke="#1a1a1a" stroke-width="0.12" font-weight="normal" >Drug metabolism - other enzymes</text>
<line x1="177.5" y1="405.9" x2="181.5" y2="405.9" stroke="#444" stroke-width="0.7" />
<circle cx="216.2" cy="405.9" r="3.20" fill="#c4103e"/>
<text x="176.9" y="417.5" font-size="9.0" text-anchor="end" fill="#1a1a1a" stroke="#1a1a1a" stroke-width="0.12" font-weight="normal" >Bile secretion</text>
<line x1="177.5" y1="415.0" x2="181.5" y2="415.0" stroke="#444" stroke-width="0.7" />
<circle cx="214.4" cy="415.0" r="3.10" fill="#961078"/>
<text x="176.9" y="426.6" font-size="9.0" text-anchor="end" fill="#1a1a1a" stroke="#1a1a1a" stroke-width="0.12" font-weight="normal" >Steroid hormone biosynthesis</text>
<line x1="177.5" y1="424.1" x2="181.5" y2="424.1" stroke="#444" stroke-width="0.7" />
<circle cx="215.3" cy="424.1" r="3.00" fill="#921080"/>
<text x="176.9" y="435.7" font-size="9.0" text-anchor="end" fill="#1a1a1a" stroke="#1a1a1a" stroke-width="0.12" font-weight="normal" >p53 signaling pathway</text>
<line x1="177.5" y1="433.2" x2="181.5" y2="433.2" stroke="#444" stroke-width="0.7" />
<circle cx="217.6" cy="433.2" r="2.90" fill="#961078"/>
<text x="176.9" y="444.8" font-size="9.0" text-anchor="end" fill="#1a1a1a" stroke="#1a1a1a" stroke-width="0.12" font-weight="normal" >MAPK signaling pathway</text>
<line x1="177.5" y1="442.3" x2="181.5" y2="442.3" stroke="#444" stroke-width="0.7" />
<circle cx="207.3" cy="442.3" r="5.10" fill="#7e0a82"/>
<text x="176.9" y="453.9" font-size="9.0" text-anchor="end" fill="#1a1a1a" stroke="#1a1a1a" stroke-width="0.12" font-weight="normal" >PPAR signaling pathway</text>
<line x1="177.5" y1="451.4" x2="181.5" y2="451.4" stroke="#444" stroke-width="0.7" />
<circle cx="215.3" cy="451.4" r="3.00" fill="#8e0a84"/>
<text x="176.9" y="463.0" font-size="9.0" text-anchor="end" fill="#1a1a1a" stroke="#1a1a1a" stroke-width="0.12" font-weight="normal" >TNF signaling pathway</text>
<line x1="177.5" y1="460.5" x2="181.5" y2="460.5" stroke="#444" stroke-width="0.7" />
<circle cx="212.3" cy="460.5" r="3.40" fill="#1010ee"/>
<text x="176.9" y="472.1" font-size="9.0" text-anchor="end" fill="#1a1a1a" stroke="#1a1a1a" stroke-width="0.12" font-weight="normal" >FoxO signaling pathway</text>
<line x1="177.5" y1="469.6" x2="181.5" y2="469.6" stroke="#444" stroke-width="0.7" />
<circle cx="211.4" cy="469.6" r="3.50" fill="#0a0af5"/>
<line x1="181.5" y1="291.5" x2="181.5" y2="474.0" stroke="#444" stroke-width="1.0" />
<line x1="179.0" y1="473.5" x2="236.6" y2="473.5" stroke="#444" stroke-width="1.0" />
<line x1="181.5" y1="473.5" x2="181.5" y2="476.0" stroke="#444" stroke-width="0.7" />
<text x="0" y="0" font-size="6.4" fill="#8a8a8a" text-anchor="end" transform="translate(181.0,482.8) rotate(-22)">0</text>
<line x1="191.5" y1="473.5" x2="191.5" y2="476.0" stroke="#444" stroke-width="0.7" />
<text x="0" y="0" font-size="6.4" fill="#8a8a8a" text-anchor="end" transform="translate(191.0,482.8) rotate(-22)">0.1</text>
<line x1="201.6" y1="473.5" x2="201.6" y2="476.0" stroke="#444" stroke-width="0.7" />
<text x="0" y="0" font-size="6.4" fill="#8a8a8a" text-anchor="end" transform="translate(201.1,482.8) rotate(-22)">0.2</text>
<line x1="211.6" y1="473.5" x2="211.6" y2="476.0" stroke="#444" stroke-width="0.7" />
<text x="0" y="0" font-size="6.4" fill="#8a8a8a" text-anchor="end" transform="translate(211.1,482.8) rotate(-22)">0.3</text>
<line x1="221.7" y1="473.5" x2="221.7" y2="476.0" stroke="#444" stroke-width="0.7" />
<text x="0" y="0" font-size="6.4" fill="#8a8a8a" text-anchor="end" transform="translate(221.2,482.8) rotate(-22)">0.4</text>
<line x1="231.7" y1="473.5" x2="231.7" y2="476.0" stroke="#444" stroke-width="0.7" />
<text x="0" y="0" font-size="6.4" fill="#8a8a8a" text-anchor="end" transform="translate(231.2,482.8) rotate(-22)">0.5</text>
<line x1="236.5" y1="473.5" x2="236.5" y2="476.0" stroke="#444" stroke-width="0.7" />
<text x="208.5" y="500.3" font-size="9" text-anchor="middle" fill="#1a1a1a" stroke="#1a1a1a" stroke-width="0.12" font-weight="normal" >Rich Ratio</text>
<text x="264.8" y="285.9" font-size="8.9" text-anchor="middle" fill="#1a1a1a" stroke="#1a1a1a" stroke-width="0.12" font-weight="normal" >Qvalue</text>
<defs><linearGradient id="qg" x1="0" y1="0" x2="0" y2="1"><stop offset="0" stop-color="#ff0000"/><stop offset="0.12" stop-color="#f80010"/><stop offset="0.3" stop-color="#d0003a"/><stop offset="0.5" stop-color="#990070"/><stop offset="0.7" stop-color="#6200a8"/><stop offset="0.88" stop-color="#2800e0"/><stop offset="1" stop-color="#0000ff"/></linearGradient><linearGradient id="hg" x1="0" y1="0" x2="0" y2="1"><stop offset="0" stop-color="#e4525c"/><stop offset="0.3" stop-color="#ec8c93"/><stop offset="0.5" stop-color="#fbfbfb"/><stop offset="0.68" stop-color="#98b3da"/><stop offset="1" stop-color="#4a7bbf"/></linearGradient></defs>
<rect x="255.80" y="292.30" width="11.00" height="95.40" fill="url(#qg)" />
<line x1="266.8" y1="292.6" x2="269.5" y2="292.6" stroke="#333" stroke-width="0.7" />
<text x="270.6" y="294.9" font-size="6.8" text-anchor="start" fill="#1a1a1a" stroke="#1a1a1a" stroke-width="0.12" font-weight="normal" letter-spacing="-0.2">0</text>
<line x1="266.8" y1="313.8" x2="269.5" y2="313.8" stroke="#333" stroke-width="0.7" />
<text x="270.6" y="316.1" font-size="6.8" text-anchor="start" fill="#1a1a1a" stroke="#1a1a1a" stroke-width="0.12" font-weight="normal" letter-spacing="-0.2">0.001</text>
<line x1="266.8" y1="335.0" x2="269.5" y2="335.0" stroke="#333" stroke-width="0.7" />
<text x="270.6" y="337.3" font-size="6.8" text-anchor="start" fill="#1a1a1a" stroke="#1a1a1a" stroke-width="0.12" font-weight="normal" letter-spacing="-0.2">0.002</text>
<line x1="266.8" y1="356.2" x2="269.5" y2="356.2" stroke="#333" stroke-width="0.7" />
<text x="270.6" y="358.5" font-size="6.8" text-anchor="start" fill="#1a1a1a" stroke="#1a1a1a" stroke-width="0.12" font-weight="normal" letter-spacing="-0.2">0.003</text>
<line x1="266.8" y1="377.4" x2="269.5" y2="377.4" stroke="#333" stroke-width="0.7" />
<text x="270.6" y="379.7" font-size="6.8" text-anchor="start" fill="#1a1a1a" stroke="#1a1a1a" stroke-width="0.12" font-weight="normal" letter-spacing="-0.2">0.004</text>
<text x="266.6" y="406.8" font-size="8.9" text-anchor="middle" fill="#1a1a1a" stroke="#1a1a1a" stroke-width="0.12" font-weight="normal" >Gene Number</text>
<circle cx="260.6" cy="417.0" r="2.30" fill="#111"/>
<text x="267.9" y="419.4" font-size="6.8" text-anchor="start" fill="#1a1a1a" stroke="#1a1a1a" stroke-width="0.12" font-weight="normal" >19</text>
<circle cx="260.6" cy="429.2" r="3.20" fill="#111"/>
<text x="267.9" y="431.6" font-size="6.8" text-anchor="start" fill="#1a1a1a" stroke="#1a1a1a" stroke-width="0.12" font-weight="normal" >33</text>
<circle cx="260.6" cy="442.6" r="3.80" fill="#111"/>
<text x="267.9" y="445.0" font-size="6.8" text-anchor="start" fill="#1a1a1a" stroke="#1a1a1a" stroke-width="0.12" font-weight="normal" >48</text>
<circle cx="260.6" cy="457.1" r="4.50" fill="#111"/>
<text x="267.9" y="459.5" font-size="6.8" text-anchor="start" fill="#1a1a1a" stroke="#1a1a1a" stroke-width="0.12" font-weight="normal" >62</text>
<circle cx="260.6" cy="472.8" r="5.20" fill="#111"/>
<text x="267.9" y="475.2" font-size="6.8" text-anchor="start" fill="#1a1a1a" stroke="#1a1a1a" stroke-width="0.12" font-weight="normal" >76</text>
<text x="355.7" y="296.2" font-size="9.0" text-anchor="start" fill="#1a1a1a" stroke="#1a1a1a" stroke-width="0.12" font-weight="normal" >PPAR signaling pathway</text>
<rect x="312.60" y="308.90" width="83.45" height="8.00" fill="#8cc878" />
<rect x="396.05" y="308.90" width="83.45" height="8.00" fill="#f0a55a" />
<rect x="312.60" y="318.80" width="27.87" height="10.07" fill="#e97e7d" />
<rect x="340.42" y="318.80" width="27.87" height="10.07" fill="#ed9695" />
<rect x="368.23" y="318.80" width="27.87" height="10.07" fill="#ec8e8d" />
<rect x="396.05" y="318.80" width="27.87" height="10.07" fill="#6b8ec1" />
<rect x="423.87" y="318.80" width="27.87" height="10.07" fill="#587fb8" />
<rect x="451.68" y="318.80" width="27.87" height="10.07" fill="#7f9dc9" />
<rect x="312.60" y="328.82" width="27.87" height="10.07" fill="#e97e7d" />
<rect x="340.42" y="328.82" width="27.87" height="10.07" fill="#ef9e9d" />
<rect x="368.23" y="328.82" width="27.87" height="10.07" fill="#e97e7d" />
<rect x="396.05" y="328.82" width="27.87" height="10.07" fill="#6186bd" />
<rect x="423.87" y="328.82" width="27.87" height="10.07" fill="#6b8ec1" />
<rect x="451.68" y="328.82" width="27.87" height="10.07" fill="#7595c5" />
<rect x="312.60" y="338.85" width="27.87" height="10.07" fill="#eb8685" />
<rect x="340.42" y="338.85" width="27.87" height="10.07" fill="#ed9695" />
<rect x="368.23" y="338.85" width="27.87" height="10.07" fill="#ec8e8d" />
<rect x="396.05" y="338.85" width="27.87" height="10.07" fill="#6186bd" />
<rect x="423.87" y="338.85" width="27.87" height="10.07" fill="#7595c5" />
<rect x="451.68" y="338.85" width="27.87" height="10.07" fill="#6b8ec1" />
<rect x="312.60" y="348.87" width="27.87" height="10.07" fill="#eb8685" />
<rect x="340.42" y="348.87" width="27.87" height="10.07" fill="#ed9695" />
<rect x="368.23" y="348.87" width="27.87" height="10.07" fill="#eb8685" />
<rect x="396.05" y="348.87" width="27.87" height="10.07" fill="#6186bd" />
<rect x="423.87" y="348.87" width="27.87" height="10.07" fill="#6186bd" />
<rect x="451.68" y="348.87" width="27.87" height="10.07" fill="#7f9dc9" />
<rect x="312.60" y="358.89" width="27.87" height="10.07" fill="#e87675" />
<rect x="340.42" y="358.89" width="27.87" height="10.07" fill="#ef9e9d" />
<rect x="368.23" y="358.89" width="27.87" height="10.07" fill="#ec8e8d" />
<rect x="396.05" y="358.89" width="27.87" height="10.07" fill="#6b8ec1" />
<rect x="423.87" y="358.89" width="27.87" height="10.07" fill="#89a4cd" />
<rect x="451.68" y="358.89" width="27.87" height="10.07" fill="#587fb8" />
<rect x="312.60" y="368.92" width="27.87" height="10.07" fill="#eb8685" />
<rect x="340.42" y="368.92" width="27.87" height="10.07" fill="#eb8685" />
<rect x="368.23" y="368.92" width="27.87" height="10.07" fill="#ec8e8d" />
<rect x="396.05" y="368.92" width="27.87" height="10.07" fill="#6186bd" />
<rect x="423.87" y="368.92" width="27.87" height="10.07" fill="#6b8ec1" />
<rect x="451.68" y="368.92" width="27.87" height="10.07" fill="#7595c5" />
<rect x="312.60" y="378.94" width="27.87" height="10.07" fill="#e56664" />
<rect x="340.42" y="378.94" width="27.87" height="10.07" fill="#f3b7b6" />
<rect x="368.23" y="378.94" width="27.87" height="10.07" fill="#e97e7d" />
<rect x="396.05" y="378.94" width="27.87" height="10.07" fill="#6b8ec1" />
<rect x="423.87" y="378.94" width="27.87" height="10.07" fill="#7595c5" />
<rect x="451.68" y="378.94" width="27.87" height="10.07" fill="#7595c5" />
<rect x="312.60" y="388.96" width="27.87" height="10.07" fill="#e87675" />
<rect x="340.42" y="388.96" width="27.87" height="10.07" fill="#e87675" />
<rect x="368.23" y="388.96" width="27.87" height="10.07" fill="#f2afae" />
<rect x="396.05" y="388.96" width="27.87" height="10.07" fill="#89a4cd" />
<rect x="423.87" y="388.96" width="27.87" height="10.07" fill="#4470b0" />
<rect x="451.68" y="388.96" width="27.87" height="10.07" fill="#7595c5" />
<rect x="312.60" y="398.98" width="27.87" height="10.07" fill="#e87675" />
<rect x="340.42" y="398.98" width="27.87" height="10.07" fill="#ef9e9d" />
<rect x="368.23" y="398.98" width="27.87" height="10.07" fill="#ec8e8d" />
<rect x="396.05" y="398.98" width="27.87" height="10.07" fill="#7595c5" />
<rect x="423.87" y="398.98" width="27.87" height="10.07" fill="#7595c5" />
<rect x="451.68" y="398.98" width="27.87" height="10.07" fill="#6b8ec1" />
<rect x="312.60" y="409.01" width="27.87" height="10.07" fill="#e97e7d" />
<rect x="340.42" y="409.01" width="27.87" height="10.07" fill="#ec8e8d" />
<rect x="368.23" y="409.01" width="27.87" height="10.07" fill="#ed9695" />
<rect x="396.05" y="409.01" width="27.87" height="10.07" fill="#7595c5" />
<rect x="423.87" y="409.01" width="27.87" height="10.07" fill="#6186bd" />
<rect x="451.68" y="409.01" width="27.87" height="10.07" fill="#587fb8" />
<rect x="312.60" y="419.03" width="27.87" height="10.07" fill="#f0a7a5" />
<rect x="340.42" y="419.03" width="27.87" height="10.07" fill="#e97e7d" />
<rect x="368.23" y="419.03" width="27.87" height="10.07" fill="#e97e7d" />
<rect x="396.05" y="419.03" width="27.87" height="10.07" fill="#6b8ec1" />
<rect x="423.87" y="419.03" width="27.87" height="10.07" fill="#6b8ec1" />
<rect x="451.68" y="419.03" width="27.87" height="10.07" fill="#6b8ec1" />
<rect x="312.60" y="429.05" width="27.87" height="10.07" fill="#ef9e9d" />
<rect x="340.42" y="429.05" width="27.87" height="10.07" fill="#e97e7d" />
<rect x="368.23" y="429.05" width="27.87" height="10.07" fill="#eb8685" />
<rect x="396.05" y="429.05" width="27.87" height="10.07" fill="#89a4cd" />
<rect x="423.87" y="429.05" width="27.87" height="10.07" fill="#4e77b4" />
<rect x="451.68" y="429.05" width="27.87" height="10.07" fill="#6b8ec1" />
<rect x="312.60" y="439.08" width="27.87" height="10.07" fill="#e76e6d" />
<rect x="340.42" y="439.08" width="27.87" height="10.07" fill="#ef9e9d" />
<rect x="368.23" y="439.08" width="27.87" height="10.07" fill="#ed9695" />
<rect x="396.05" y="439.08" width="27.87" height="10.07" fill="#6b8ec1" />
<rect x="423.87" y="439.08" width="27.87" height="10.07" fill="#7f9dc9" />
<rect x="451.68" y="439.08" width="27.87" height="10.07" fill="#587fb8" />
<line x1="312.6" y1="328.8" x2="479.5" y2="328.8" stroke="#ffffff" stroke-width="0.8" stroke-opacity="0.7"/>
<line x1="312.6" y1="338.8" x2="479.5" y2="338.8" stroke="#ffffff" stroke-width="0.8" stroke-opacity="0.7"/>
<line x1="312.6" y1="348.9" x2="479.5" y2="348.9" stroke="#ffffff" stroke-width="0.8" stroke-opacity="0.7"/>
<line x1="312.6" y1="358.9" x2="479.5" y2="358.9" stroke="#ffffff" stroke-width="0.8" stroke-opacity="0.7"/>
<line x1="312.6" y1="368.9" x2="479.5" y2="368.9" stroke="#ffffff" stroke-width="0.8" stroke-opacity="0.7"/>
<line x1="312.6" y1="378.9" x2="479.5" y2="378.9" stroke="#ffffff" stroke-width="0.8" stroke-opacity="0.7"/>
<line x1="312.6" y1="389.0" x2="479.5" y2="389.0" stroke="#ffffff" stroke-width="0.8" stroke-opacity="0.7"/>
<line x1="312.6" y1="399.0" x2="479.5" y2="399.0" stroke="#ffffff" stroke-width="0.8" stroke-opacity="0.7"/>
<line x1="312.6" y1="409.0" x2="479.5" y2="409.0" stroke="#ffffff" stroke-width="0.8" stroke-opacity="0.7"/>
<line x1="312.6" y1="419.0" x2="479.5" y2="419.0" stroke="#ffffff" stroke-width="0.8" stroke-opacity="0.7"/>
<line x1="312.6" y1="429.1" x2="479.5" y2="429.1" stroke="#ffffff" stroke-width="0.8" stroke-opacity="0.7"/>
<line x1="312.6" y1="439.1" x2="479.5" y2="439.1" stroke="#ffffff" stroke-width="0.8" stroke-opacity="0.7"/>
<line x1="340.4" y1="318.8" x2="340.4" y2="449.1" stroke="#ffffff" stroke-width="0.8" stroke-opacity="0.8"/>
<line x1="368.2" y1="318.8" x2="368.2" y2="449.1" stroke="#ffffff" stroke-width="0.8" stroke-opacity="0.8"/>
<line x1="396.1" y1="318.8" x2="396.1" y2="449.1" stroke="#ffffff" stroke-width="0.8" stroke-opacity="0.8"/>
<line x1="423.9" y1="318.8" x2="423.9" y2="449.1" stroke="#ffffff" stroke-width="0.8" stroke-opacity="0.8"/>
<line x1="451.7" y1="318.8" x2="451.7" y2="449.1" stroke="#ffffff" stroke-width="0.8" stroke-opacity="0.8"/>
<text x="482.9" y="326.8" font-size="8.9" text-anchor="start" fill="#1a1a1a" stroke="#1a1a1a" stroke-width="0.12" font-weight="normal" >Acadl</text>
<text x="482.9" y="336.8" font-size="8.9" text-anchor="start" fill="#1a1a1a" stroke="#1a1a1a" stroke-width="0.12" font-weight="normal" >Acadm</text>
<text x="482.9" y="346.9" font-size="8.9" text-anchor="start" fill="#1a1a1a" stroke="#1a1a1a" stroke-width="0.12" font-weight="normal" >Acox1</text>
<text x="482.9" y="356.9" font-size="8.9" text-anchor="start" fill="#1a1a1a" stroke="#1a1a1a" stroke-width="0.12" font-weight="normal" >Cpt1a</text>
<text x="482.9" y="366.9" font-size="8.9" text-anchor="start" fill="#1a1a1a" stroke="#1a1a1a" stroke-width="0.12" font-weight="normal" >Acsl1</text>
<text x="482.9" y="376.9" font-size="8.9" text-anchor="start" fill="#1a1a1a" stroke="#1a1a1a" stroke-width="0.12" font-weight="normal" >Hmgcs2</text>
<text x="482.9" y="387.0" font-size="8.9" text-anchor="start" fill="#1a1a1a" stroke="#1a1a1a" stroke-width="0.12" font-weight="normal" >Fabp5</text>
<text x="482.9" y="397.0" font-size="8.9" text-anchor="start" fill="#1a1a1a" stroke="#1a1a1a" stroke-width="0.12" font-weight="normal" >Ppara</text>
<text x="482.9" y="407.0" font-size="8.9" text-anchor="start" fill="#1a1a1a" stroke="#1a1a1a" stroke-width="0.12" font-weight="normal" >Pparg</text>
<text x="482.9" y="417.0" font-size="8.9" text-anchor="start" fill="#1a1a1a" stroke="#1a1a1a" stroke-width="0.12" font-weight="normal" >Scd2</text>
<text x="482.9" y="427.0" font-size="8.9" text-anchor="start" fill="#1a1a1a" stroke="#1a1a1a" stroke-width="0.12" font-weight="normal" >Hmgcs1</text>
<text x="482.9" y="437.1" font-size="8.9" text-anchor="start" fill="#1a1a1a" stroke="#1a1a1a" stroke-width="0.12" font-weight="normal" >Acox3</text>
<text x="482.9" y="447.1" font-size="8.9" text-anchor="start" fill="#1a1a1a" stroke="#1a1a1a" stroke-width="0.12" font-weight="normal" >Acox2</text>
<rect x="523.10" y="315.90" width="6.90" height="55.80" fill="url(#hg)" />
<text x="535.4" y="321.1" font-size="7.0" text-anchor="middle" fill="#1a1a1a" stroke="#1a1a1a" stroke-width="0.12" font-weight="normal" >1</text>
<text x="536.0" y="344.5" font-size="7.0" text-anchor="middle" fill="#1a1a1a" stroke="#1a1a1a" stroke-width="0.12" font-weight="normal" >0</text>
<text x="536.8" y="368.4" font-size="7.0" text-anchor="end" fill="#1a1a1a" stroke="#1a1a1a" stroke-width="0.12" font-weight="normal" >-1</text>
<rect x="305.50" y="461.10" width="7.60" height="7.60" fill="#8cc878" />
<text x="319.2" y="468.0" font-size="9" text-anchor="start" fill="#1a1a1a" stroke="#1a1a1a" stroke-width="0.12" font-weight="normal" >470-480nm+OA</text>
<rect x="388.00" y="461.10" width="7.60" height="7.60" fill="#f0a55a" />
<text x="398.4" y="468.0" font-size="9" text-anchor="start" fill="#1a1a1a" stroke="#1a1a1a" stroke-width="0.12" font-weight="normal" >470-480nm+OA+Opn3 KO</text>
<text x="86.0" y="541.4" font-size="9.0" text-anchor="start" fill="#1a1a1a" stroke="#1a1a1a" stroke-width="0.12" font-weight="normal" >MAPK signaling pathway</text>
<rect x="40.70" y="549.40" width="81.90" height="8.50" fill="#8cc878" />
<rect x="122.60" y="549.40" width="84.50" height="8.50" fill="#f0a55a" />
<rect x="40.70" y="560.50" width="25.75" height="10.57" fill="#eb8685" />
<rect x="66.40" y="560.50" width="28.15" height="10.57" fill="#e97e7d" />
<rect x="94.50" y="560.50" width="28.15" height="10.57" fill="#ec8e8d" />
<rect x="122.60" y="560.50" width="28.45" height="10.57" fill="#6186bd" />
<rect x="151.00" y="560.50" width="28.05" height="10.57" fill="#6b8ec1" />
<rect x="179.00" y="560.50" width="28.15" height="10.57" fill="#6b8ec1" />
<rect x="40.70" y="571.02" width="25.75" height="10.57" fill="#e76e6d" />
<rect x="66.40" y="571.02" width="28.15" height="10.57" fill="#ef9e9d" />
<rect x="94.50" y="571.02" width="28.15" height="10.57" fill="#ec8e8d" />
<rect x="122.60" y="571.02" width="28.45" height="10.57" fill="#89a4cd" />
<rect x="151.00" y="571.02" width="28.05" height="10.57" fill="#6b8ec1" />
<rect x="179.00" y="571.02" width="28.15" height="10.57" fill="#587fb8" />
<rect x="40.70" y="581.54" width="25.75" height="10.57" fill="#f0a7a5" />
<rect x="66.40" y="581.54" width="28.15" height="10.57" fill="#e87675" />
<rect x="94.50" y="581.54" width="28.15" height="10.57" fill="#e97e7d" />
<rect x="122.60" y="581.54" width="28.45" height="10.57" fill="#6186bd" />
<rect x="151.00" y="581.54" width="28.05" height="10.57" fill="#6b8ec1" />
<rect x="179.00" y="581.54" width="28.15" height="10.57" fill="#89a4cd" />
<rect x="40.70" y="592.06" width="25.75" height="10.57" fill="#e87675" />
<rect x="66.40" y="592.06" width="28.15" height="10.57" fill="#ed9695" />
<rect x="94.50" y="592.06" width="28.15" height="10.57" fill="#ed9695" />
<rect x="122.60" y="592.06" width="28.45" height="10.57" fill="#587fb8" />
<rect x="151.00" y="592.06" width="28.05" height="10.57" fill="#6b8ec1" />
<rect x="179.00" y="592.06" width="28.15" height="10.57" fill="#7595c5" />
<rect x="40.70" y="602.59" width="25.75" height="10.57" fill="#e76e6d" />
<rect x="66.40" y="602.59" width="28.15" height="10.57" fill="#ed9695" />
<rect x="94.50" y="602.59" width="28.15" height="10.57" fill="#ef9e9d" />
<rect x="122.60" y="602.59" width="28.45" height="10.57" fill="#6186bd" />
<rect x="151.00" y="602.59" width="28.05" height="10.57" fill="#6b8ec1" />
<rect x="179.00" y="602.59" width="28.15" height="10.57" fill="#6186bd" />
<rect x="40.70" y="613.11" width="25.75" height="10.57" fill="#6186bd" />
<rect x="66.40" y="613.11" width="28.15" height="10.57" fill="#6186bd" />
<rect x="94.50" y="613.11" width="28.15" height="10.57" fill="#6b8ec1" />
<rect x="122.60" y="613.11" width="28.45" height="10.57" fill="#e87675" />
<rect x="151.00" y="613.11" width="28.05" height="10.57" fill="#e97e7d" />
<rect x="179.00" y="613.11" width="28.15" height="10.57" fill="#ef9e9d" />
<rect x="40.70" y="623.63" width="25.75" height="10.57" fill="#6186bd" />
<rect x="66.40" y="623.63" width="28.15" height="10.57" fill="#6186bd" />
<rect x="94.50" y="623.63" width="28.15" height="10.57" fill="#6b8ec1" />
<rect x="122.60" y="623.63" width="28.45" height="10.57" fill="#eb8685" />
<rect x="151.00" y="623.63" width="28.05" height="10.57" fill="#eb8685" />
<rect x="179.00" y="623.63" width="28.15" height="10.57" fill="#e97e7d" />
<rect x="40.70" y="634.15" width="25.75" height="10.57" fill="#6b8ec1" />
<rect x="66.40" y="634.15" width="28.15" height="10.57" fill="#6186bd" />
<rect x="94.50" y="634.15" width="28.15" height="10.57" fill="#6186bd" />
<rect x="122.60" y="634.15" width="28.45" height="10.57" fill="#eb8685" />
<rect x="151.00" y="634.15" width="28.05" height="10.57" fill="#eb8685" />
<rect x="179.00" y="634.15" width="28.15" height="10.57" fill="#e87675" />
<rect x="40.70" y="644.67" width="25.75" height="10.57" fill="#6b8ec1" />
<rect x="66.40" y="644.67" width="28.15" height="10.57" fill="#6186bd" />
<rect x="94.50" y="644.67" width="28.15" height="10.57" fill="#6b8ec1" />
<rect x="122.60" y="644.67" width="28.45" height="10.57" fill="#ed9695" />
<rect x="151.00" y="644.67" width="28.05" height="10.57" fill="#e76e6d" />
<rect x="179.00" y="644.67" width="28.15" height="10.57" fill="#ec8e8d" />
<rect x="40.70" y="655.19" width="25.75" height="10.57" fill="#6b8ec1" />
<rect x="66.40" y="655.19" width="28.15" height="10.57" fill="#6b8ec1" />
<rect x="94.50" y="655.19" width="28.15" height="10.57" fill="#7595c5" />
<rect x="122.60" y="655.19" width="28.45" height="10.57" fill="#e87675" />
<rect x="151.00" y="655.19" width="28.05" height="10.57" fill="#ed9695" />
<rect x="179.00" y="655.19" width="28.15" height="10.57" fill="#e97e7d" />
<rect x="40.70" y="665.71" width="25.75" height="10.57" fill="#6186bd" />
<rect x="66.40" y="665.71" width="28.15" height="10.57" fill="#6b8ec1" />
<rect x="94.50" y="665.71" width="28.15" height="10.57" fill="#6b8ec1" />
<rect x="122.60" y="665.71" width="28.45" height="10.57" fill="#e76e6d" />
<rect x="151.00" y="665.71" width="28.05" height="10.57" fill="#ec8e8d" />
<rect x="179.00" y="665.71" width="28.15" height="10.57" fill="#ef9e9d" />
<rect x="40.70" y="676.24" width="25.75" height="10.57" fill="#6b8ec1" />
<rect x="66.40" y="676.24" width="28.15" height="10.57" fill="#6b8ec1" />
<rect x="94.50" y="676.24" width="28.15" height="10.57" fill="#6b8ec1" />
<rect x="122.60" y="676.24" width="28.45" height="10.57" fill="#e56664" />
<rect x="151.00" y="676.24" width="28.05" height="10.57" fill="#ef9e9d" />
<rect x="179.00" y="676.24" width="28.15" height="10.57" fill="#ec8e8d" />
<rect x="40.70" y="686.76" width="25.75" height="10.57" fill="#4470b0" />
<rect x="66.40" y="686.76" width="28.15" height="10.57" fill="#7595c5" />
<rect x="94.50" y="686.76" width="28.15" height="10.57" fill="#7f9dc9" />
<rect x="122.60" y="686.76" width="28.45" height="10.57" fill="#eb8685" />
<rect x="151.00" y="686.76" width="28.05" height="10.57" fill="#ec8e8d" />
<rect x="179.00" y="686.76" width="28.15" height="10.57" fill="#eb8685" />
<rect x="40.70" y="697.28" width="25.75" height="10.57" fill="#89a4cd" />
<rect x="66.40" y="697.28" width="28.15" height="10.57" fill="#6186bd" />
<rect x="94.50" y="697.28" width="28.15" height="10.57" fill="#6b8ec1" />
<rect x="122.60" y="697.28" width="28.45" height="10.57" fill="#ec8e8d" />
<rect x="151.00" y="697.28" width="28.05" height="10.57" fill="#eb8685" />
<rect x="179.00" y="697.28" width="28.15" height="10.57" fill="#e97e7d" />
<line x1="40.7" y1="571.0" x2="207.1" y2="571.0" stroke="#ffffff" stroke-width="0.8" stroke-opacity="0.7"/>
<line x1="40.7" y1="581.5" x2="207.1" y2="581.5" stroke="#ffffff" stroke-width="0.8" stroke-opacity="0.7"/>
<line x1="40.7" y1="592.1" x2="207.1" y2="592.1" stroke="#ffffff" stroke-width="0.8" stroke-opacity="0.7"/>
<line x1="40.7" y1="602.6" x2="207.1" y2="602.6" stroke="#ffffff" stroke-width="0.8" stroke-opacity="0.7"/>
<line x1="40.7" y1="613.1" x2="207.1" y2="613.1" stroke="#ffffff" stroke-width="0.8" stroke-opacity="0.7"/>
<line x1="40.7" y1="623.6" x2="207.1" y2="623.6" stroke="#ffffff" stroke-width="0.8" stroke-opacity="0.7"/>
<line x1="40.7" y1="634.1" x2="207.1" y2="634.1" stroke="#ffffff" stroke-width="0.8" stroke-opacity="0.7"/>
<line x1="40.7" y1="644.7" x2="207.1" y2="644.7" stroke="#ffffff" stroke-width="0.8" stroke-opacity="0.7"/>
<line x1="40.7" y1="655.2" x2="207.1" y2="655.2" stroke="#ffffff" stroke-width="0.8" stroke-opacity="0.7"/>
<line x1="40.7" y1="665.7" x2="207.1" y2="665.7" stroke="#ffffff" stroke-width="0.8" stroke-opacity="0.7"/>
<line x1="40.7" y1="676.2" x2="207.1" y2="676.2" stroke="#ffffff" stroke-width="0.8" stroke-opacity="0.7"/>
<line x1="40.7" y1="686.8" x2="207.1" y2="686.8" stroke="#ffffff" stroke-width="0.8" stroke-opacity="0.7"/>
<line x1="40.7" y1="697.3" x2="207.1" y2="697.3" stroke="#ffffff" stroke-width="0.8" stroke-opacity="0.7"/>
<line x1="66.4" y1="560.5" x2="66.4" y2="707.8" stroke="#ffffff" stroke-width="0.8" stroke-opacity="0.8"/>
<line x1="94.5" y1="560.5" x2="94.5" y2="707.8" stroke="#ffffff" stroke-width="0.8" stroke-opacity="0.8"/>
<line x1="122.6" y1="560.5" x2="122.6" y2="707.8" stroke="#ffffff" stroke-width="0.8" stroke-opacity="0.8"/>
<line x1="151.0" y1="560.5" x2="151.0" y2="707.8" stroke="#ffffff" stroke-width="0.8" stroke-opacity="0.8"/>
<line x1="179.0" y1="560.5" x2="179.0" y2="707.8" stroke="#ffffff" stroke-width="0.8" stroke-opacity="0.8"/>
<text x="208.6" y="567.0" font-size="8.8" text-anchor="start" fill="#1a1a1a" stroke="#1a1a1a" stroke-width="0.12" font-weight="normal" >Angpt2</text>
<text x="208.6" y="577.5" font-size="8.8" text-anchor="start" fill="#1a1a1a" stroke="#1a1a1a" stroke-width="0.12" font-weight="normal" >Araf</text>
<text x="208.6" y="588.0" font-size="8.8" text-anchor="start" fill="#1a1a1a" stroke="#1a1a1a" stroke-width="0.12" font-weight="normal" >Cacna1g</text>
<text x="208.6" y="598.5" font-size="8.8" text-anchor="start" fill="#1a1a1a" stroke="#1a1a1a" stroke-width="0.12" font-weight="normal" >Hspa8</text>
<text x="208.6" y="609.0" font-size="8.8" text-anchor="start" fill="#1a1a1a" stroke="#1a1a1a" stroke-width="0.12" font-weight="normal" >Fgf1</text>
<text x="208.6" y="619.6" font-size="8.8" text-anchor="start" fill="#1a1a1a" stroke="#1a1a1a" stroke-width="0.12" font-weight="normal" >Areg</text>
<text x="208.6" y="630.1" font-size="8.8" text-anchor="start" fill="#1a1a1a" stroke="#1a1a1a" stroke-width="0.12" font-weight="normal" >Atf4</text>
<text x="208.6" y="640.6" font-size="8.8" text-anchor="start" fill="#1a1a1a" stroke="#1a1a1a" stroke-width="0.12" font-weight="normal" >Gadd45a</text>
<text x="208.6" y="651.1" font-size="8.8" text-anchor="start" fill="#1a1a1a" stroke="#1a1a1a" stroke-width="0.12" font-weight="normal" >Ddit3</text>
<text x="208.6" y="661.7" font-size="8.8" text-anchor="start" fill="#1a1a1a" stroke="#1a1a1a" stroke-width="0.12" font-weight="normal" >Epha2</text>
<text x="208.6" y="672.2" font-size="8.8" text-anchor="start" fill="#1a1a1a" stroke="#1a1a1a" stroke-width="0.12" font-weight="normal" >Ereg</text>
<text x="208.6" y="682.7" font-size="8.8" text-anchor="start" fill="#1a1a1a" stroke="#1a1a1a" stroke-width="0.12" font-weight="normal" >Dusp8</text>
<text x="208.6" y="693.2" font-size="8.8" text-anchor="start" fill="#1a1a1a" stroke="#1a1a1a" stroke-width="0.12" font-weight="normal" >Flna</text>
<text x="208.6" y="703.7" font-size="8.8" text-anchor="start" fill="#1a1a1a" stroke="#1a1a1a" stroke-width="0.12" font-weight="normal" >Vegfa</text>
<rect x="245.10" y="556.70" width="7.10" height="56.00" fill="url(#hg)" />
<text x="257.6" y="561.9" font-size="7.0" text-anchor="middle" fill="#1a1a1a" stroke="#1a1a1a" stroke-width="0.12" font-weight="normal" >1</text>
<text x="258.2" y="585.4" font-size="7.0" text-anchor="middle" fill="#1a1a1a" stroke="#1a1a1a" stroke-width="0.12" font-weight="normal" >0</text>
<text x="259.0" y="609.4" font-size="7.0" text-anchor="end" fill="#1a1a1a" stroke="#1a1a1a" stroke-width="0.12" font-weight="normal" >-1</text>
<rect x="34.00" y="714.90" width="7.60" height="7.60" fill="#8cc878" />
<text x="47.7" y="721.8" font-size="9" text-anchor="start" fill="#1a1a1a" stroke="#1a1a1a" stroke-width="0.12" font-weight="normal" >470-480nm+OA</text>
<rect x="116.00" y="714.90" width="7.60" height="7.60" fill="#f0a55a" />
<text x="126.4" y="721.8" font-size="9" text-anchor="start" fill="#1a1a1a" stroke="#1a1a1a" stroke-width="0.12" font-weight="normal" >470-480nm+OA+Opn3 KO</text>
<text x="368.0" y="551.2" font-size="8.3" text-anchor="start" fill="#1a1a1a" stroke="#1a1a1a" stroke-width="0.12" font-weight="normal" >TNF signaling pathway</text>
<rect x="313.80" y="561.20" width="87.80" height="8.30" fill="#8cc878" />
<rect x="401.60" y="561.20" width="88.80" height="8.30" fill="#f0a55a" />
<rect x="313.80" y="573.80" width="28.75" height="11.03" fill="#e97e7d" />
<rect x="342.50" y="573.80" width="29.75" height="11.03" fill="#ed9695" />
<rect x="372.20" y="573.80" width="29.45" height="11.03" fill="#f2afae" />
<rect x="401.60" y="573.80" width="29.75" height="11.03" fill="#6186bd" />
<rect x="431.30" y="573.80" width="29.45" height="11.03" fill="#6186bd" />
<rect x="460.70" y="573.80" width="29.75" height="11.03" fill="#6b8ec1" />
<rect x="313.80" y="584.78" width="28.75" height="11.03" fill="#eb8685" />
<rect x="342.50" y="584.78" width="29.75" height="11.03" fill="#ec8e8d" />
<rect x="372.20" y="584.78" width="29.45" height="11.03" fill="#ec8e8d" />
<rect x="401.60" y="584.78" width="29.75" height="11.03" fill="#9cb4d6" />
<rect x="431.30" y="584.78" width="29.45" height="11.03" fill="#4e77b4" />
<rect x="460.70" y="584.78" width="29.75" height="11.03" fill="#4e77b4" />
<rect x="313.80" y="595.76" width="28.75" height="11.03" fill="#eb8685" />
<rect x="342.50" y="595.76" width="29.75" height="11.03" fill="#ec8e8d" />
<rect x="372.20" y="595.76" width="29.45" height="11.03" fill="#ed9695" />
<rect x="401.60" y="595.76" width="29.75" height="11.03" fill="#587fb8" />
<rect x="431.30" y="595.76" width="29.45" height="11.03" fill="#6186bd" />
<rect x="460.70" y="595.76" width="29.75" height="11.03" fill="#6186bd" />
<rect x="313.80" y="606.74" width="28.75" height="11.03" fill="#e97e7d" />
<rect x="342.50" y="606.74" width="29.75" height="11.03" fill="#ed9695" />
<rect x="372.20" y="606.74" width="29.45" height="11.03" fill="#eb8685" />
<rect x="401.60" y="606.74" width="29.75" height="11.03" fill="#6b8ec1" />
<rect x="431.30" y="606.74" width="29.45" height="11.03" fill="#587fb8" />
<rect x="460.70" y="606.74" width="29.75" height="11.03" fill="#6186bd" />
<rect x="313.80" y="617.72" width="28.75" height="11.03" fill="#e56664" />
<rect x="342.50" y="617.72" width="29.75" height="11.03" fill="#ed9695" />
<rect x="372.20" y="617.72" width="29.45" height="11.03" fill="#f4bfbe" />
<rect x="401.60" y="617.72" width="29.75" height="11.03" fill="#6b8ec1" />
<rect x="431.30" y="617.72" width="29.45" height="11.03" fill="#6186bd" />
<rect x="460.70" y="617.72" width="29.75" height="11.03" fill="#6186bd" />
<rect x="313.80" y="628.70" width="28.75" height="11.03" fill="#6186bd" />
<rect x="342.50" y="628.70" width="29.75" height="11.03" fill="#6186bd" />
<rect x="372.20" y="628.70" width="29.45" height="11.03" fill="#6186bd" />
<rect x="401.60" y="628.70" width="29.75" height="11.03" fill="#ec8e8d" />
<rect x="431.30" y="628.70" width="29.45" height="11.03" fill="#eb8685" />
<rect x="460.70" y="628.70" width="29.75" height="11.03" fill="#ec8e8d" />
<rect x="313.80" y="639.68" width="28.75" height="11.03" fill="#587fb8" />
<rect x="342.50" y="639.68" width="29.75" height="11.03" fill="#6b8ec1" />
<rect x="372.20" y="639.68" width="29.45" height="11.03" fill="#6186bd" />
<rect x="401.60" y="639.68" width="29.75" height="11.03" fill="#eb8685" />
<rect x="431.30" y="639.68" width="29.45" height="11.03" fill="#e97e7d" />
<rect x="460.70" y="639.68" width="29.75" height="11.03" fill="#ed9695" />
<rect x="313.80" y="650.66" width="28.75" height="11.03" fill="#9cb4d6" />
<rect x="342.50" y="650.66" width="29.75" height="11.03" fill="#6186bd" />
<rect x="372.20" y="650.66" width="29.45" height="11.03" fill="#6186bd" />
<rect x="401.60" y="650.66" width="29.75" height="11.03" fill="#e56664" />
<rect x="431.30" y="650.66" width="29.45" height="11.03" fill="#eb8685" />
<rect x="460.70" y="650.66" width="29.75" height="11.03" fill="#f4bfbe" />
<rect x="313.80" y="661.64" width="28.75" height="11.03" fill="#587fb8" />
<rect x="342.50" y="661.64" width="29.75" height="11.03" fill="#6186bd" />
<rect x="372.20" y="661.64" width="29.45" height="11.03" fill="#6b8ec1" />
<rect x="401.60" y="661.64" width="29.75" height="11.03" fill="#ec8e8d" />
<rect x="431.30" y="661.64" width="29.45" height="11.03" fill="#e97e7d" />
<rect x="460.70" y="661.64" width="29.75" height="11.03" fill="#ed9695" />
<rect x="313.80" y="672.62" width="28.75" height="11.03" fill="#6186bd" />
<rect x="342.50" y="672.62" width="29.75" height="11.03" fill="#6186bd" />
<rect x="372.20" y="672.62" width="29.45" height="11.03" fill="#6b8ec1" />
<rect x="401.60" y="672.62" width="29.75" height="11.03" fill="#e76e6d" />
<rect x="431.30" y="672.62" width="29.45" height="11.03" fill="#ed9695" />
<rect x="460.70" y="672.62" width="29.75" height="11.03" fill="#f0a7a5" />
<line x1="313.8" y1="584.8" x2="490.4" y2="584.8" stroke="#ffffff" stroke-width="0.8" stroke-opacity="0.7"/>
<line x1="313.8" y1="595.8" x2="490.4" y2="595.8" stroke="#ffffff" stroke-width="0.8" stroke-opacity="0.7"/>
<line x1="313.8" y1="606.7" x2="490.4" y2="606.7" stroke="#ffffff" stroke-width="0.8" stroke-opacity="0.7"/>
<line x1="313.8" y1="617.7" x2="490.4" y2="617.7" stroke="#ffffff" stroke-width="0.8" stroke-opacity="0.7"/>
<line x1="313.8" y1="628.7" x2="490.4" y2="628.7" stroke="#ffffff" stroke-width="0.8" stroke-opacity="0.7"/>
<line x1="313.8" y1="639.7" x2="490.4" y2="639.7" stroke="#ffffff" stroke-width="0.8" stroke-opacity="0.7"/>
<line x1="313.8" y1="650.7" x2="490.4" y2="650.7" stroke="#ffffff" stroke-width="0.8" stroke-opacity="0.7"/>
<line x1="313.8" y1="661.6" x2="490.4" y2="661.6" stroke="#ffffff" stroke-width="0.8" stroke-opacity="0.7"/>
<line x1="313.8" y1="672.6" x2="490.4" y2="672.6" stroke="#ffffff" stroke-width="0.8" stroke-opacity="0.7"/>
<line x1="342.5" y1="573.8" x2="342.5" y2="683.6" stroke="#ffffff" stroke-width="0.8" stroke-opacity="0.8"/>
<line x1="372.2" y1="573.8" x2="372.2" y2="683.6" stroke="#ffffff" stroke-width="0.8" stroke-opacity="0.8"/>
<line x1="401.6" y1="573.8" x2="401.6" y2="683.6" stroke="#ffffff" stroke-width="0.8" stroke-opacity="0.8"/>
<line x1="431.3" y1="573.8" x2="431.3" y2="683.6" stroke="#ffffff" stroke-width="0.8" stroke-opacity="0.8"/>
<line x1="460.7" y1="573.8" x2="460.7" y2="683.6" stroke="#ffffff" stroke-width="0.8" stroke-opacity="0.8"/>
<text x="491.8" y="582.2" font-size="8.85" text-anchor="start" fill="#1a1a1a" stroke="#1a1a1a" stroke-width="0.12" font-weight="normal" >Ifi47</text>
<text x="491.8" y="593.2" font-size="8.85" text-anchor="start" fill="#1a1a1a" stroke="#1a1a1a" stroke-width="0.12" font-weight="normal" >Nfkbia</text>
<text x="491.8" y="604.1" font-size="8.85" text-anchor="start" fill="#1a1a1a" stroke="#1a1a1a" stroke-width="0.12" font-weight="normal" >Cx3cl1</text>
<text x="491.8" y="615.1" font-size="8.85" text-anchor="start" fill="#1a1a1a" stroke="#1a1a1a" stroke-width="0.12" font-weight="normal" >Vcam1</text>
<text x="491.8" y="626.1" font-size="8.85" text-anchor="start" fill="#1a1a1a" stroke="#1a1a1a" stroke-width="0.12" font-weight="normal" >Gm5431</text>
<text x="491.8" y="637.1" font-size="8.85" text-anchor="start" fill="#1a1a1a" stroke="#1a1a1a" stroke-width="0.12" font-weight="normal" >Atf4</text>
<text x="491.8" y="648.1" font-size="8.85" text-anchor="start" fill="#1a1a1a" stroke="#1a1a1a" stroke-width="0.12" font-weight="normal" >Cebpb</text>
<text x="491.8" y="659.0" font-size="8.85" text-anchor="start" fill="#1a1a1a" stroke="#1a1a1a" stroke-width="0.12" font-weight="normal" >Cxcl1</text>
<text x="491.8" y="670.0" font-size="8.85" text-anchor="start" fill="#1a1a1a" stroke="#1a1a1a" stroke-width="0.12" font-weight="normal" >Junb</text>
<text x="491.8" y="681.0" font-size="8.85" text-anchor="start" fill="#1a1a1a" stroke="#1a1a1a" stroke-width="0.12" font-weight="normal" >Ccl2</text>
<rect x="526.30" y="569.80" width="7.00" height="55.90" fill="url(#hg)" />
<text x="538.7" y="575.0" font-size="7.0" text-anchor="middle" fill="#1a1a1a" stroke="#1a1a1a" stroke-width="0.12" font-weight="normal" >1</text>
<text x="539.3" y="598.5" font-size="7.0" text-anchor="middle" fill="#1a1a1a" stroke="#1a1a1a" stroke-width="0.12" font-weight="normal" >0</text>
<text x="540.1" y="622.4" font-size="7.0" text-anchor="end" fill="#1a1a1a" stroke="#1a1a1a" stroke-width="0.12" font-weight="normal" >-1</text>
<rect x="313.00" y="691.60" width="7.60" height="7.60" fill="#8cc878" />
<text x="326.7" y="698.5" font-size="9" text-anchor="start" fill="#1a1a1a" stroke="#1a1a1a" stroke-width="0.12" font-weight="normal" >470-480nm+OA</text>
<rect x="395.40" y="691.60" width="7.60" height="7.60" fill="#f0a55a" />
<text x="405.8" y="698.5" font-size="9" text-anchor="start" fill="#1a1a1a" stroke="#1a1a1a" stroke-width="0.12" font-weight="normal" >470-480nm+OA+Opn3 KO</text>
</svg></body></html>
